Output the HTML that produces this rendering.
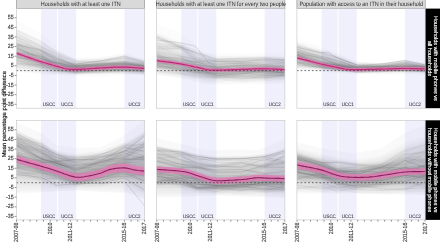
<!DOCTYPE html><html><head><meta charset="utf-8"><style>html,body{margin:0;padding:0;background:#fff;width:440px;height:242px;overflow:hidden}svg{display:block;will-change:transform}text{text-rendering:geometricPrecision}</style></head><body><svg width="440" height="242" viewBox="0 0 440 242"><rect x="0" y="0" width="440" height="242" fill="#ffffff"/><defs><clipPath id="cp00"><rect x="16.4" y="8.6" width="128.3" height="99.6"/></clipPath><clipPath id="cp01"><rect x="156.6" y="8.6" width="128.3" height="99.6"/></clipPath><clipPath id="cp02"><rect x="296.9" y="8.6" width="128.3" height="99.6"/></clipPath><clipPath id="cp10"><rect x="16.4" y="120.3" width="128.3" height="99.6"/></clipPath><clipPath id="cp11"><rect x="156.6" y="120.3" width="128.3" height="99.6"/></clipPath><clipPath id="cp12"><rect x="296.9" y="120.3" width="128.3" height="99.6"/></clipPath></defs><rect x="16.4" y="-0.5" width="128.3" height="9.1" fill="#d9d9d9" stroke="#8c8c8c" stroke-width="0.6"/><rect x="156.6" y="-0.5" width="128.3" height="9.1" fill="#d9d9d9" stroke="#8c8c8c" stroke-width="0.6"/><rect x="296.9" y="-0.5" width="128.3" height="9.1" fill="#d9d9d9" stroke="#8c8c8c" stroke-width="0.6"/><rect x="425.2" y="8.6" width="16" height="99.6" fill="#000000"/><rect x="425.2" y="120.3" width="16" height="99.6" fill="#000000"/><g clip-path="url(#cp00)"><rect x="41.10" y="8.6" width="15.90" height="99.6" fill="#f0f0fd"/><rect x="58.10" y="8.6" width="18.10" height="99.6" fill="#f0f0fd"/><rect x="124.40" y="8.6" width="20.30" height="99.6" fill="#f0f0fd"/><path d="M16.4,20.5 L18.4,21.5 L20.4,22.6 L22.4,23.6 L24.4,24.6 L26.4,25.6 L28.4,26.6 L30.4,27.6 L32.4,28.7 L34.4,29.7 L36.4,30.7 L38.4,31.7 L40.4,32.8 L42.4,34.3 L44.4,36.0 L46.4,37.8 L48.4,39.5 L50.4,41.2 L52.4,43.0 L54.4,44.7 L56.4,46.5 L58.4,48.3 L60.4,50.1 L62.4,51.9 L64.4,53.7 L66.4,55.6 L68.4,57.5 L70.4,58.0 L72.4,57.9 L74.4,57.8 L76.4,57.7 L78.4,57.7 L80.4,57.6 L82.4,57.5 L84.4,57.5 L86.4,57.5 L88.4,57.4 L90.4,57.4 L92.4,57.3 L94.4,57.3 L96.4,57.3 L98.4,57.2 L100.4,57.1 L102.4,56.7 L104.4,56.3 L106.4,56.0 L108.4,55.6 L110.4,55.2 L112.4,54.8 L114.4,54.4 L116.4,54.0 L118.4,53.6 L120.4,53.1 L122.4,52.9 L124.4,53.6 L126.4,54.2 L128.4,54.8 L130.4,55.4 L132.4,56.0 L134.4,56.6 L136.4,57.2 L138.4,57.8 L140.4,58.5 L142.4,59.1 L144.4,59.7 L144.7,59.8 L144.7,74.3 L144.4,74.3 L142.4,74.3 L140.4,74.3 L138.4,74.3 L136.4,74.3 L134.4,74.3 L132.4,74.3 L130.4,74.3 L128.4,74.3 L126.4,74.3 L124.4,74.3 L122.4,74.3 L120.4,74.3 L118.4,74.3 L116.4,74.3 L114.4,74.3 L112.4,74.3 L110.4,74.3 L108.4,74.3 L106.4,74.3 L104.4,74.3 L102.4,74.3 L100.4,74.3 L98.4,74.3 L96.4,74.3 L94.4,74.3 L92.4,74.3 L90.4,74.3 L88.4,74.3 L86.4,74.3 L84.4,74.2 L82.4,74.2 L80.4,74.2 L78.4,74.2 L76.4,74.2 L74.4,74.2 L72.4,74.2 L70.4,74.2 L68.4,74.2 L66.4,74.3 L64.4,74.3 L62.4,74.3 L60.4,74.3 L58.4,74.4 L56.4,74.4 L54.4,74.2 L52.4,74.1 L50.4,74.0 L48.4,73.8 L46.4,73.7 L44.4,73.6 L42.4,73.5 L40.4,73.3 L38.4,73.2 L36.4,73.1 L34.4,73.0 L32.4,72.9 L30.4,72.7 L28.4,72.6 L26.4,72.5 L24.4,72.4 L22.4,72.3 L20.4,72.1 L18.4,72.0 L16.4,71.9 Z" fill="#707078" fill-opacity="0.025"/><path d="M16.4,29.0 L18.4,29.9 L20.4,30.9 L22.4,31.8 L24.4,32.7 L26.4,33.7 L28.4,34.6 L30.4,35.5 L32.4,36.5 L34.4,37.4 L36.4,38.3 L38.4,39.3 L40.4,40.2 L42.4,41.5 L44.4,42.9 L46.4,44.4 L48.4,45.8 L50.4,47.3 L52.4,48.7 L54.4,50.1 L56.4,51.6 L58.4,53.0 L60.4,54.5 L62.4,56.0 L64.4,57.6 L66.4,59.1 L68.4,60.6 L70.4,61.0 L72.4,60.9 L74.4,60.8 L76.4,60.8 L78.4,60.7 L80.4,60.6 L82.4,60.6 L84.4,60.5 L86.4,60.4 L88.4,60.4 L90.4,60.3 L92.4,60.2 L94.4,60.2 L96.4,60.1 L98.4,60.1 L100.4,59.9 L102.4,59.6 L104.4,59.3 L106.4,59.0 L108.4,58.7 L110.4,58.3 L112.4,58.0 L114.4,57.7 L116.4,57.4 L118.4,57.1 L120.4,56.8 L122.4,56.6 L124.4,57.1 L126.4,57.6 L128.4,58.1 L130.4,58.5 L132.4,59.0 L134.4,59.5 L136.4,60.0 L138.4,60.5 L140.4,61.0 L142.4,61.4 L144.4,61.9 L144.7,62.0 L144.7,74.0 L144.4,74.0 L142.4,74.0 L140.4,74.0 L138.4,74.0 L136.4,74.0 L134.4,74.0 L132.4,74.0 L130.4,74.0 L128.4,74.0 L126.4,74.0 L124.4,74.0 L122.4,74.0 L120.4,74.0 L118.4,74.0 L116.4,74.0 L114.4,74.0 L112.4,74.0 L110.4,74.0 L108.4,74.0 L106.4,74.0 L104.4,74.0 L102.4,74.0 L100.4,74.0 L98.4,74.0 L96.4,74.0 L94.4,74.0 L92.4,74.0 L90.4,74.0 L88.4,74.0 L86.4,74.0 L84.4,74.0 L82.4,74.0 L80.4,74.0 L78.4,74.0 L76.4,74.0 L74.4,74.0 L72.4,74.0 L70.4,74.0 L68.4,74.0 L66.4,74.0 L64.4,74.0 L62.4,74.0 L60.4,74.0 L58.4,74.0 L56.4,74.0 L54.4,73.8 L52.4,73.7 L50.4,73.5 L48.4,73.4 L46.4,73.2 L44.4,73.1 L42.4,72.9 L40.4,72.8 L38.4,72.6 L36.4,72.5 L34.4,72.3 L32.4,72.2 L30.4,72.0 L28.4,71.9 L26.4,71.7 L24.4,71.6 L22.4,71.4 L20.4,71.3 L18.4,71.1 L16.4,71.0 Z" fill="#707078" fill-opacity="0.022"/><path d="M16.4,31.4 L18.4,32.3 L20.4,33.2 L22.4,34.2 L24.4,35.1 L26.4,36.0 L28.4,36.9 L30.4,37.8 L32.4,38.7 L34.4,39.6 L36.4,40.5 L38.4,41.4 L40.4,42.3 L42.4,43.6 L44.4,44.9 L46.4,46.3 L48.4,47.6 L50.4,49.0 L52.4,50.3 L54.4,51.7 L56.4,53.0 L58.4,54.4 L60.4,55.8 L62.4,57.2 L64.4,58.6 L66.4,60.0 L68.4,61.4 L70.4,61.8 L72.4,61.7 L74.4,61.7 L76.4,61.6 L78.4,61.6 L80.4,61.5 L82.4,61.4 L84.4,61.4 L86.4,61.3 L88.4,61.2 L90.4,61.1 L92.4,61.1 L94.4,61.0 L96.4,60.9 L98.4,60.9 L100.4,60.7 L102.4,60.4 L104.4,60.1 L106.4,59.8 L108.4,59.5 L110.4,59.3 L112.4,59.0 L114.4,58.7 L116.4,58.4 L118.4,58.1 L120.4,57.8 L122.4,57.6 L124.4,58.1 L126.4,58.5 L128.4,59.0 L130.4,59.4 L132.4,59.9 L134.4,60.3 L136.4,60.8 L138.4,61.2 L140.4,61.7 L142.4,62.1 L144.4,62.6 L144.7,62.6 L144.7,73.4 L144.4,73.4 L142.4,73.4 L140.4,73.4 L138.4,73.4 L136.4,73.4 L134.4,73.4 L132.4,73.4 L130.4,73.3 L128.4,73.3 L126.4,73.3 L124.4,73.3 L122.4,73.3 L120.4,73.3 L118.4,73.3 L116.4,73.3 L114.4,73.3 L112.4,73.3 L110.4,73.3 L108.4,73.4 L106.4,73.4 L104.4,73.4 L102.4,73.4 L100.4,73.4 L98.4,73.4 L96.4,73.4 L94.4,73.4 L92.4,73.5 L90.4,73.5 L88.4,73.5 L86.4,73.5 L84.4,73.5 L82.4,73.5 L80.4,73.5 L78.4,73.5 L76.4,73.5 L74.4,73.5 L72.4,73.5 L70.4,73.5 L68.4,73.5 L66.4,73.5 L64.4,73.4 L62.4,73.4 L60.4,73.3 L58.4,73.3 L56.4,73.2 L54.4,73.0 L52.4,72.8 L50.4,72.6 L48.4,72.4 L46.4,72.2 L44.4,72.0 L42.4,71.8 L40.4,71.6 L38.4,71.4 L36.4,71.2 L34.4,71.0 L32.4,70.8 L30.4,70.6 L28.4,70.4 L26.4,70.2 L24.4,70.0 L22.4,69.8 L20.4,69.6 L18.4,69.4 L16.4,69.2 Z" fill="#707078" fill-opacity="0.022"/><path d="M16.4,33.8 L18.4,34.7 L20.4,35.6 L22.4,36.5 L24.4,37.4 L26.4,38.3 L28.4,39.2 L30.4,40.1 L32.4,40.9 L34.4,41.8 L36.4,42.7 L38.4,43.6 L40.4,44.5 L42.4,45.6 L44.4,46.9 L46.4,48.2 L48.4,49.4 L50.4,50.7 L52.4,51.9 L54.4,53.2 L56.4,54.5 L58.4,55.8 L60.4,57.1 L62.4,58.4 L64.4,59.7 L66.4,61.0 L68.4,62.3 L70.4,62.6 L72.4,62.6 L74.4,62.5 L76.4,62.5 L78.4,62.4 L80.4,62.4 L82.4,62.3 L84.4,62.2 L86.4,62.1 L88.4,62.1 L90.4,62.0 L92.4,61.9 L94.4,61.8 L96.4,61.7 L98.4,61.7 L100.4,61.5 L102.4,61.3 L104.4,61.0 L106.4,60.7 L108.4,60.4 L110.4,60.2 L112.4,59.9 L114.4,59.6 L116.4,59.3 L118.4,59.1 L120.4,58.8 L122.4,58.7 L124.4,59.1 L126.4,59.5 L128.4,59.9 L130.4,60.3 L132.4,60.7 L134.4,61.1 L136.4,61.6 L138.4,62.0 L140.4,62.4 L142.4,62.8 L144.4,63.2 L144.7,63.3 L144.7,72.9 L144.4,72.9 L142.4,72.9 L140.4,72.8 L138.4,72.8 L136.4,72.8 L134.4,72.7 L132.4,72.7 L130.4,72.7 L128.4,72.7 L126.4,72.6 L124.4,72.6 L122.4,72.6 L120.4,72.6 L118.4,72.6 L116.4,72.6 L114.4,72.6 L112.4,72.7 L110.4,72.7 L108.4,72.7 L106.4,72.7 L104.4,72.8 L102.4,72.8 L100.4,72.8 L98.4,72.8 L96.4,72.8 L94.4,72.9 L92.4,72.9 L90.4,72.9 L88.4,73.0 L86.4,73.0 L84.4,73.0 L82.4,73.0 L80.4,73.1 L78.4,73.1 L76.4,73.1 L74.4,73.1 L72.4,73.1 L70.4,73.1 L68.4,73.0 L66.4,73.0 L64.4,72.9 L62.4,72.8 L60.4,72.6 L58.4,72.5 L56.4,72.4 L54.4,72.1 L52.4,71.9 L50.4,71.7 L48.4,71.5 L46.4,71.2 L44.4,71.0 L42.4,70.8 L40.4,70.5 L38.4,70.3 L36.4,70.0 L34.4,69.8 L32.4,69.5 L30.4,69.3 L28.4,69.0 L26.4,68.7 L24.4,68.5 L22.4,68.2 L20.4,68.0 L18.4,67.7 L16.4,67.4 Z" fill="#707078" fill-opacity="0.022"/><path d="M16.4,36.3 L18.4,37.1 L20.4,38.0 L22.4,38.9 L24.4,39.7 L26.4,40.6 L28.4,41.5 L30.4,42.3 L32.4,43.2 L34.4,44.0 L36.4,44.9 L38.4,45.8 L40.4,46.6 L42.4,47.7 L44.4,48.9 L46.4,50.1 L48.4,51.2 L50.4,52.4 L52.4,53.6 L54.4,54.7 L56.4,55.9 L58.4,57.1 L60.4,58.4 L62.4,59.6 L64.4,60.8 L66.4,62.0 L68.4,63.1 L70.4,63.5 L72.4,63.4 L74.4,63.4 L76.4,63.4 L78.4,63.3 L80.4,63.2 L82.4,63.2 L84.4,63.1 L86.4,63.0 L88.4,62.9 L90.4,62.8 L92.4,62.7 L94.4,62.6 L96.4,62.5 L98.4,62.5 L100.4,62.3 L102.4,62.1 L104.4,61.8 L106.4,61.6 L108.4,61.3 L110.4,61.1 L112.4,60.8 L114.4,60.6 L116.4,60.3 L118.4,60.1 L120.4,59.9 L122.4,59.7 L124.4,60.1 L126.4,60.5 L128.4,60.8 L130.4,61.2 L132.4,61.6 L134.4,62.0 L136.4,62.3 L138.4,62.7 L140.4,63.1 L142.4,63.5 L144.4,63.9 L144.7,63.9 L144.7,72.3 L144.4,72.3 L142.4,72.3 L140.4,72.2 L138.4,72.2 L136.4,72.1 L134.4,72.1 L132.4,72.1 L130.4,72.0 L128.4,72.0 L126.4,72.0 L124.4,71.9 L122.4,71.9 L120.4,71.9 L118.4,71.9 L116.4,71.9 L114.4,72.0 L112.4,72.0 L110.4,72.0 L108.4,72.1 L106.4,72.1 L104.4,72.1 L102.4,72.2 L100.4,72.2 L98.4,72.2 L96.4,72.3 L94.4,72.3 L92.4,72.4 L90.4,72.4 L88.4,72.4 L86.4,72.5 L84.4,72.5 L82.4,72.6 L80.4,72.6 L78.4,72.6 L76.4,72.6 L74.4,72.6 L72.4,72.6 L70.4,72.6 L68.4,72.5 L66.4,72.5 L64.4,72.3 L62.4,72.2 L60.4,72.0 L58.4,71.8 L56.4,71.6 L54.4,71.3 L52.4,71.1 L50.4,70.8 L48.4,70.5 L46.4,70.2 L44.4,70.0 L42.4,69.7 L40.4,69.4 L38.4,69.1 L36.4,68.8 L34.4,68.5 L32.4,68.2 L30.4,67.9 L28.4,67.5 L26.4,67.2 L24.4,66.9 L22.4,66.6 L20.4,66.3 L18.4,66.0 L16.4,65.7 Z" fill="#707078" fill-opacity="0.022"/><path d="M16.4,38.7 L18.4,39.5 L20.4,40.4 L22.4,41.2 L24.4,42.0 L26.4,42.9 L28.4,43.7 L30.4,44.6 L32.4,45.4 L34.4,46.3 L36.4,47.1 L38.4,47.9 L40.4,48.7 L42.4,49.8 L44.4,50.9 L46.4,52.0 L48.4,53.0 L50.4,54.1 L52.4,55.2 L54.4,56.3 L56.4,57.4 L58.4,58.5 L60.4,59.6 L62.4,60.8 L64.4,61.9 L66.4,63.0 L68.4,64.0 L70.4,64.3 L72.4,64.3 L74.4,64.3 L76.4,64.2 L78.4,64.2 L80.4,64.1 L82.4,64.0 L84.4,63.9 L86.4,63.9 L88.4,63.8 L90.4,63.7 L92.4,63.6 L94.4,63.5 L96.4,63.4 L98.4,63.3 L100.4,63.2 L102.4,62.9 L104.4,62.7 L106.4,62.4 L108.4,62.2 L110.4,62.0 L112.4,61.7 L114.4,61.5 L116.4,61.3 L118.4,61.1 L120.4,60.9 L122.4,60.8 L124.4,61.1 L126.4,61.4 L128.4,61.8 L130.4,62.1 L132.4,62.4 L134.4,62.8 L136.4,63.1 L138.4,63.5 L140.4,63.8 L142.4,64.2 L144.4,64.5 L144.7,64.6 L144.7,71.8 L144.4,71.8 L142.4,71.7 L140.4,71.6 L138.4,71.6 L136.4,71.5 L134.4,71.5 L132.4,71.4 L130.4,71.4 L128.4,71.3 L126.4,71.3 L124.4,71.3 L122.4,71.2 L120.4,71.2 L118.4,71.2 L116.4,71.3 L114.4,71.3 L112.4,71.3 L110.4,71.4 L108.4,71.4 L106.4,71.5 L104.4,71.5 L102.4,71.5 L100.4,71.6 L98.4,71.6 L96.4,71.7 L94.4,71.7 L92.4,71.8 L90.4,71.9 L88.4,71.9 L86.4,72.0 L84.4,72.0 L82.4,72.1 L80.4,72.1 L78.4,72.1 L76.4,72.2 L74.4,72.2 L72.4,72.2 L70.4,72.1 L68.4,72.1 L66.4,72.0 L64.4,71.8 L62.4,71.6 L60.4,71.3 L58.4,71.0 L56.4,70.8 L54.4,70.5 L52.4,70.2 L50.4,69.9 L48.4,69.6 L46.4,69.3 L44.4,68.9 L42.4,68.6 L40.4,68.3 L38.4,67.9 L36.4,67.6 L34.4,67.2 L32.4,66.8 L30.4,66.5 L28.4,66.1 L26.4,65.7 L24.4,65.4 L22.4,65.0 L20.4,64.6 L18.4,64.2 L16.4,63.9 Z" fill="#707078" fill-opacity="0.022"/><path d="M16.4,41.1 L18.4,41.9 L20.4,42.7 L22.4,43.6 L24.4,44.4 L26.4,45.2 L28.4,46.0 L30.4,46.8 L32.4,47.7 L34.4,48.5 L36.4,49.3 L38.4,50.1 L40.4,50.9 L42.4,51.8 L44.4,52.8 L46.4,53.9 L48.4,54.8 L50.4,55.8 L52.4,56.8 L54.4,57.8 L56.4,58.8 L58.4,59.8 L60.4,60.9 L62.4,62.0 L64.4,63.0 L66.4,64.0 L68.4,64.9 L70.4,65.1 L72.4,65.1 L74.4,65.1 L76.4,65.1 L78.4,65.0 L80.4,65.0 L82.4,64.9 L84.4,64.8 L86.4,64.7 L88.4,64.6 L90.4,64.5 L92.4,64.4 L94.4,64.3 L96.4,64.2 L98.4,64.1 L100.4,64.0 L102.4,63.7 L104.4,63.5 L106.4,63.3 L108.4,63.1 L110.4,62.9 L112.4,62.7 L114.4,62.5 L116.4,62.3 L118.4,62.1 L120.4,61.9 L122.4,61.9 L124.4,62.1 L126.4,62.4 L128.4,62.7 L130.4,63.0 L132.4,63.3 L134.4,63.6 L136.4,63.9 L138.4,64.2 L140.4,64.5 L142.4,64.9 L144.4,65.2 L144.7,65.2 L144.7,71.2 L144.4,71.2 L142.4,71.1 L140.4,71.1 L138.4,71.0 L136.4,70.9 L134.4,70.8 L132.4,70.8 L130.4,70.7 L128.4,70.7 L126.4,70.6 L124.4,70.6 L122.4,70.6 L120.4,70.5 L118.4,70.6 L116.4,70.6 L114.4,70.6 L112.4,70.7 L110.4,70.7 L108.4,70.8 L106.4,70.8 L104.4,70.9 L102.4,70.9 L100.4,71.0 L98.4,71.0 L96.4,71.1 L94.4,71.2 L92.4,71.3 L90.4,71.3 L88.4,71.4 L86.4,71.5 L84.4,71.5 L82.4,71.6 L80.4,71.6 L78.4,71.7 L76.4,71.7 L74.4,71.7 L72.4,71.7 L70.4,71.7 L68.4,71.6 L66.4,71.5 L64.4,71.2 L62.4,70.9 L60.4,70.6 L58.4,70.3 L56.4,70.0 L54.4,69.7 L52.4,69.3 L50.4,69.0 L48.4,68.6 L46.4,68.3 L44.4,67.9 L42.4,67.5 L40.4,67.1 L38.4,66.7 L36.4,66.3 L34.4,65.9 L32.4,65.5 L30.4,65.1 L28.4,64.7 L26.4,64.2 L24.4,63.8 L22.4,63.4 L20.4,62.9 L18.4,62.5 L16.4,62.1 Z" fill="#707078" fill-opacity="0.022"/><path d="M16.4,43.5 L18.4,44.3 L20.4,45.1 L22.4,45.9 L24.4,46.7 L26.4,47.5 L28.4,48.3 L30.4,49.1 L32.4,49.9 L34.4,50.7 L36.4,51.5 L38.4,52.2 L40.4,53.0 L42.4,53.9 L44.4,54.8 L46.4,55.7 L48.4,56.7 L50.4,57.6 L52.4,58.5 L54.4,59.4 L56.4,60.3 L58.4,61.2 L60.4,62.2 L62.4,63.2 L64.4,64.1 L66.4,65.0 L68.4,65.7 L70.4,66.0 L72.4,66.0 L74.4,66.0 L76.4,65.9 L78.4,65.9 L80.4,65.8 L82.4,65.8 L84.4,65.7 L86.4,65.6 L88.4,65.4 L90.4,65.3 L92.4,65.2 L94.4,65.1 L96.4,65.0 L98.4,64.9 L100.4,64.8 L102.4,64.6 L104.4,64.4 L106.4,64.2 L108.4,64.0 L110.4,63.8 L112.4,63.6 L114.4,63.4 L116.4,63.3 L118.4,63.1 L120.4,63.0 L122.4,62.9 L124.4,63.1 L126.4,63.4 L128.4,63.6 L130.4,63.9 L132.4,64.1 L134.4,64.4 L136.4,64.7 L138.4,65.0 L140.4,65.3 L142.4,65.5 L144.4,65.8 L144.7,65.8 L144.7,70.6 L144.4,70.6 L142.4,70.6 L140.4,70.5 L138.4,70.4 L136.4,70.3 L134.4,70.2 L132.4,70.1 L130.4,70.1 L128.4,70.0 L126.4,69.9 L124.4,69.9 L122.4,69.9 L120.4,69.9 L118.4,69.9 L116.4,69.9 L114.4,69.9 L112.4,70.0 L110.4,70.0 L108.4,70.1 L106.4,70.2 L104.4,70.3 L102.4,70.3 L100.4,70.4 L98.4,70.5 L96.4,70.5 L94.4,70.6 L92.4,70.7 L90.4,70.8 L88.4,70.9 L86.4,71.0 L84.4,71.1 L82.4,71.1 L80.4,71.2 L78.4,71.2 L76.4,71.2 L74.4,71.2 L72.4,71.2 L70.4,71.2 L68.4,71.1 L66.4,70.9 L64.4,70.7 L62.4,70.3 L60.4,69.9 L58.4,69.6 L56.4,69.2 L54.4,68.8 L52.4,68.4 L50.4,68.1 L48.4,67.7 L46.4,67.3 L44.4,66.9 L42.4,66.5 L40.4,66.0 L38.4,65.6 L36.4,65.1 L34.4,64.6 L32.4,64.2 L30.4,63.7 L28.4,63.2 L26.4,62.7 L24.4,62.2 L22.4,61.8 L20.4,61.3 L18.4,60.8 L16.4,60.3 Z" fill="#707078" fill-opacity="0.022"/><path d="M16.4,45.9 L18.4,46.7 L20.4,47.5 L22.4,48.3 L24.4,49.0 L26.4,49.8 L28.4,50.6 L30.4,51.4 L32.4,52.1 L34.4,52.9 L36.4,53.6 L38.4,54.4 L40.4,55.1 L42.4,55.9 L44.4,56.8 L46.4,57.6 L48.4,58.5 L50.4,59.3 L52.4,60.1 L54.4,60.9 L56.4,61.7 L58.4,62.5 L60.4,63.4 L62.4,64.3 L64.4,65.2 L66.4,66.0 L68.4,66.6 L70.4,66.8 L72.4,66.8 L74.4,66.8 L76.4,66.8 L78.4,66.8 L80.4,66.7 L82.4,66.6 L84.4,66.5 L86.4,66.4 L88.4,66.3 L90.4,66.2 L92.4,66.0 L94.4,65.9 L96.4,65.8 L98.4,65.7 L100.4,65.6 L102.4,65.4 L104.4,65.2 L106.4,65.0 L108.4,64.9 L110.4,64.7 L112.4,64.5 L114.4,64.4 L116.4,64.2 L118.4,64.1 L120.4,64.0 L122.4,64.0 L124.4,64.1 L126.4,64.3 L128.4,64.5 L130.4,64.8 L132.4,65.0 L134.4,65.2 L136.4,65.5 L138.4,65.7 L140.4,66.0 L142.4,66.2 L144.4,66.4 L144.7,66.5 L144.7,70.1 L144.4,70.1 L142.4,70.0 L140.4,69.9 L138.4,69.8 L136.4,69.7 L134.4,69.6 L132.4,69.5 L130.4,69.4 L128.4,69.3 L126.4,69.2 L124.4,69.2 L122.4,69.2 L120.4,69.2 L118.4,69.2 L116.4,69.2 L114.4,69.3 L112.4,69.3 L110.4,69.4 L108.4,69.5 L106.4,69.5 L104.4,69.6 L102.4,69.7 L100.4,69.8 L98.4,69.9 L96.4,70.0 L94.4,70.1 L92.4,70.2 L90.4,70.3 L88.4,70.4 L86.4,70.5 L84.4,70.6 L82.4,70.6 L80.4,70.7 L78.4,70.7 L76.4,70.8 L74.4,70.8 L72.4,70.8 L70.4,70.7 L68.4,70.6 L66.4,70.4 L64.4,70.1 L62.4,69.7 L60.4,69.3 L58.4,68.8 L56.4,68.4 L54.4,68.0 L52.4,67.6 L50.4,67.2 L48.4,66.7 L46.4,66.3 L44.4,65.8 L42.4,65.4 L40.4,64.9 L38.4,64.4 L36.4,63.9 L34.4,63.4 L32.4,62.8 L30.4,62.3 L28.4,61.8 L26.4,61.2 L24.4,60.7 L22.4,60.1 L20.4,59.6 L18.4,59.1 L16.4,58.5 Z" fill="#707078" fill-opacity="0.022"/><path d="M16.4,48.4 L18.4,49.1 L20.4,49.9 L22.4,50.6 L24.4,51.4 L26.4,52.1 L28.4,52.9 L30.4,53.6 L32.4,54.4 L34.4,55.1 L36.4,55.8 L38.4,56.5 L40.4,57.2 L42.4,58.0 L44.4,58.8 L46.4,59.5 L48.4,60.3 L50.4,61.0 L52.4,61.7 L54.4,62.4 L56.4,63.2 L58.4,63.9 L60.4,64.7 L62.4,65.5 L64.4,66.3 L66.4,66.9 L68.4,67.4 L70.4,67.6 L72.4,67.7 L74.4,67.7 L76.4,67.7 L78.4,67.6 L80.4,67.6 L82.4,67.5 L84.4,67.4 L86.4,67.3 L88.4,67.1 L90.4,67.0 L92.4,66.9 L94.4,66.7 L96.4,66.6 L98.4,66.5 L100.4,66.4 L102.4,66.2 L104.4,66.1 L106.4,65.9 L108.4,65.7 L110.4,65.6 L112.4,65.5 L114.4,65.3 L116.4,65.2 L118.4,65.1 L120.4,65.0 L122.4,65.0 L124.4,65.1 L126.4,65.3 L128.4,65.5 L130.4,65.6 L132.4,65.8 L134.4,66.1 L136.4,66.3 L138.4,66.5 L140.4,66.7 L142.4,66.9 L144.4,67.1 L144.7,67.1 L144.7,69.5 L144.4,69.5 L142.4,69.4 L140.4,69.3 L138.4,69.2 L136.4,69.1 L134.4,68.9 L132.4,68.8 L130.4,68.7 L128.4,68.6 L126.4,68.6 L124.4,68.5 L122.4,68.5 L120.4,68.5 L118.4,68.5 L116.4,68.5 L114.4,68.6 L112.4,68.7 L110.4,68.7 L108.4,68.8 L106.4,68.9 L104.4,69.0 L102.4,69.1 L100.4,69.2 L98.4,69.3 L96.4,69.4 L94.4,69.5 L92.4,69.6 L90.4,69.7 L88.4,69.9 L86.4,70.0 L84.4,70.1 L82.4,70.2 L80.4,70.2 L78.4,70.3 L76.4,70.3 L74.4,70.3 L72.4,70.3 L70.4,70.2 L68.4,70.1 L66.4,69.9 L64.4,69.6 L62.4,69.1 L60.4,68.6 L58.4,68.1 L56.4,67.6 L54.4,67.2 L52.4,66.7 L50.4,66.2 L48.4,65.8 L46.4,65.3 L44.4,64.8 L42.4,64.3 L40.4,63.8 L38.4,63.2 L36.4,62.6 L34.4,62.1 L32.4,61.5 L30.4,60.9 L28.4,60.3 L26.4,59.7 L24.4,59.1 L22.4,58.5 L20.4,57.9 L18.4,57.3 L16.4,56.8 Z" fill="#707078" fill-opacity="0.022"/><path d="M16.4,50.8 L18.4,51.5 L20.4,52.2 L22.4,53.0 L24.4,53.7 L26.4,54.4 L28.4,55.1 L30.4,55.9 L32.4,56.6 L34.4,57.3 L36.4,58.0 L38.4,58.7 L40.4,59.4 L42.4,60.1 L44.4,60.8 L46.4,61.4 L48.4,62.1 L50.4,62.7 L52.4,63.3 L54.4,64.0 L56.4,64.6 L58.4,65.3 L60.4,66.0 L62.4,66.7 L64.4,67.4 L66.4,67.9 L68.4,68.3 L70.4,68.5 L72.4,68.5 L74.4,68.6 L76.4,68.5 L78.4,68.5 L80.4,68.4 L82.4,68.3 L84.4,68.2 L86.4,68.1 L88.4,68.0 L90.4,67.8 L92.4,67.7 L94.4,67.5 L96.4,67.4 L98.4,67.3 L100.4,67.2 L102.4,67.0 L104.4,66.9 L106.4,66.8 L108.4,66.6 L110.4,66.5 L112.4,66.4 L114.4,66.3 L116.4,66.2 L118.4,66.1 L120.4,66.1 L122.4,66.1 L124.4,66.1 L126.4,66.2 L128.4,66.4 L130.4,66.5 L132.4,66.7 L134.4,66.9 L136.4,67.0 L138.4,67.2 L140.4,67.4 L142.4,67.6 L144.4,67.7 L144.7,67.8 L144.7,69.0 L144.4,68.9 L142.4,68.8 L140.4,68.7 L138.4,68.6 L136.4,68.4 L134.4,68.3 L132.4,68.2 L130.4,68.1 L128.4,68.0 L126.4,67.9 L124.4,67.8 L122.4,67.8 L120.4,67.8 L118.4,67.8 L116.4,67.8 L114.4,67.9 L112.4,68.0 L110.4,68.1 L108.4,68.2 L106.4,68.3 L104.4,68.4 L102.4,68.5 L100.4,68.6 L98.4,68.7 L96.4,68.8 L94.4,68.9 L92.4,69.1 L90.4,69.2 L88.4,69.3 L86.4,69.5 L84.4,69.6 L82.4,69.7 L80.4,69.8 L78.4,69.8 L76.4,69.9 L74.4,69.9 L72.4,69.8 L70.4,69.8 L68.4,69.6 L66.4,69.4 L64.4,69.0 L62.4,68.5 L60.4,67.9 L58.4,67.4 L56.4,66.8 L54.4,66.3 L52.4,65.8 L50.4,65.3 L48.4,64.8 L46.4,64.3 L44.4,63.8 L42.4,63.2 L40.4,62.6 L38.4,62.0 L36.4,61.4 L34.4,60.8 L32.4,60.2 L30.4,59.5 L28.4,58.9 L26.4,58.2 L24.4,57.6 L22.4,56.9 L20.4,56.3 L18.4,55.6 L16.4,55.0 Z" fill="#707078" fill-opacity="0.022"/><path d="M16.4,55.8 L41.1,60.5 L57.0,66.7 L76.2,68.2 L101.4,67.2 L124.4,67.4 L144.7,67.3 L144.7,70.5 L124.4,70.6 L101.4,70.4 L76.2,71.4 L57.0,69.9 L41.1,63.7 L16.4,59.0 Z" fill="#707078" fill-opacity="0.028"/><path d="M16.4,57.4 L41.1,62.1 L57.0,68.3 L76.2,69.8 L101.4,68.8 L124.4,69.0 L144.7,68.9" fill="none" stroke="#606068" stroke-opacity="0.28" stroke-width="0.5"/><path d="M16.4,52.0 L41.1,59.3 L57.0,62.2 L76.2,64.0 L101.4,64.5 L124.4,63.6 L144.7,63.8 L144.7,72.5 L124.4,72.3 L101.4,73.2 L76.2,72.7 L57.0,70.8 L41.1,68.0 L16.4,60.7 Z" fill="#707078" fill-opacity="0.028"/><path d="M16.4,56.4 L41.1,63.6 L57.0,66.5 L76.2,68.3 L101.4,68.9 L124.4,67.9 L144.7,68.1" fill="none" stroke="#606068" stroke-opacity="0.28" stroke-width="0.5"/><path d="M16.4,50.0 L41.1,53.7 L57.0,64.6 L76.2,65.1 L101.4,65.6 L124.4,65.2 L144.7,66.4 L144.7,71.3 L124.4,70.0 L101.4,70.4 L76.2,69.9 L57.0,69.5 L41.1,58.5 L16.4,54.8 Z" fill="#707078" fill-opacity="0.028"/><path d="M16.4,52.4 L41.1,56.1 L57.0,67.0 L76.2,67.5 L101.4,68.0 L124.4,67.6 L144.7,68.8" fill="none" stroke="#606068" stroke-opacity="0.28" stroke-width="0.5"/><path d="M16.4,42.2 L41.1,48.5 L57.0,56.3 L76.2,63.5 L101.4,61.6 L124.4,61.8 L144.7,64.3 L144.7,68.5 L124.4,66.1 L101.4,65.9 L76.2,67.7 L57.0,60.5 L41.1,52.7 L16.4,46.5 Z" fill="#707078" fill-opacity="0.028"/><path d="M16.4,44.4 L41.1,50.6 L57.0,58.4 L76.2,65.6 L101.4,63.8 L124.4,63.9 L144.7,66.4" fill="none" stroke="#606068" stroke-opacity="0.28" stroke-width="0.5"/><path d="M16.4,46.4 L41.1,56.4 L57.0,60.4 L76.2,65.4 L101.4,64.6 L124.4,61.5 L144.7,64.3 L144.7,68.7 L124.4,66.0 L101.4,69.0 L76.2,69.9 L57.0,64.9 L41.1,60.9 L16.4,50.8 Z" fill="#707078" fill-opacity="0.028"/><path d="M16.4,48.6 L41.1,58.7 L57.0,62.6 L76.2,67.7 L101.4,66.8 L124.4,63.8 L144.7,66.5" fill="none" stroke="#606068" stroke-opacity="0.28" stroke-width="0.5"/><path d="M16.4,47.4 L41.1,53.3 L57.0,60.1 L76.2,65.7 L101.4,62.0 L124.4,63.9 L144.7,64.4 L144.7,71.9 L124.4,71.5 L101.4,69.5 L76.2,73.2 L57.0,67.7 L41.1,60.8 L16.4,55.0 Z" fill="#707078" fill-opacity="0.028"/><path d="M16.4,51.2 L41.1,57.0 L57.0,63.9 L76.2,69.5 L101.4,65.8 L124.4,67.7 L144.7,68.1" fill="none" stroke="#606068" stroke-opacity="0.14" stroke-width="0.5"/><path d="M16.4,56.5 L41.1,64.4 L57.0,65.1 L76.2,67.1 L101.4,66.5 L124.4,65.2 L144.7,67.4 L144.7,74.5 L124.4,72.3 L101.4,73.7 L76.2,74.3 L57.0,72.3 L41.1,71.6 L16.4,63.7 Z" fill="#707078" fill-opacity="0.028"/><path d="M16.4,60.1 L41.1,68.0 L57.0,68.7 L76.2,70.7 L101.4,70.1 L124.4,68.7 L144.7,71.0" fill="none" stroke="#606068" stroke-opacity="0.14" stroke-width="0.5"/><path d="M16.4,46.5 L41.1,56.5 L57.0,59.3 L76.2,63.4 L101.4,63.6 L124.4,61.9 L144.7,65.3 L144.7,72.5 L124.4,69.1 L101.4,70.8 L76.2,70.7 L57.0,66.5 L41.1,63.7 L16.4,53.7 Z" fill="#707078" fill-opacity="0.028"/><path d="M16.4,50.1 L41.1,60.1 L57.0,62.9 L76.2,67.0 L101.4,67.2 L124.4,65.5 L144.7,68.9" fill="none" stroke="#606068" stroke-opacity="0.14" stroke-width="0.5"/><path d="M16.4,42.4 L41.1,53.5 L57.0,63.1 L76.2,66.4 L101.4,64.0 L124.4,65.3 L144.7,65.4 L144.7,69.4 L124.4,69.3 L101.4,68.0 L76.2,70.4 L57.0,67.1 L41.1,57.5 L16.4,46.4 Z" fill="#707078" fill-opacity="0.028"/><path d="M16.4,44.4 L41.1,55.5 L57.0,65.1 L76.2,68.4 L101.4,66.0 L124.4,67.3 L144.7,67.4" fill="none" stroke="#606068" stroke-opacity="0.14" stroke-width="0.5"/><path d="M16.4,61.7 L41.1,62.8 L57.0,68.1 L76.2,69.1 L101.4,68.1 L124.4,66.4 L144.7,69.1 L144.7,74.8 L124.4,72.1 L101.4,73.8 L76.2,74.8 L57.0,73.8 L41.1,68.5 L16.4,67.4 Z" fill="#707078" fill-opacity="0.028"/><path d="M16.4,64.5 L41.1,65.6 L57.0,71.0 L76.2,72.0 L101.4,71.0 L124.4,69.3 L144.7,71.9" fill="none" stroke="#606068" stroke-opacity="0.14" stroke-width="0.5"/><path d="M16.4,44.0 L41.1,53.7 L57.0,59.1 L76.2,65.2 L101.4,63.4 L124.4,62.8 L144.7,62.7 L144.7,71.5 L124.4,71.6 L101.4,72.2 L76.2,74.0 L57.0,67.8 L41.1,62.4 L16.4,52.7 Z" fill="#707078" fill-opacity="0.028"/><path d="M16.4,48.3 L41.1,58.0 L57.0,63.5 L76.2,69.6 L101.4,67.8 L124.4,67.2 L144.7,67.1" fill="none" stroke="#606068" stroke-opacity="0.14" stroke-width="0.5"/><path d="M16.4,59.6 L41.1,64.4 L57.0,67.3 L76.2,68.4 L101.4,67.3 L124.4,67.7 L144.7,68.9 L144.7,74.4 L124.4,73.2 L101.4,72.8 L76.2,74.0 L57.0,72.8 L41.1,70.0 L16.4,65.1 Z" fill="#707078" fill-opacity="0.028"/><path d="M16.4,62.4 L41.1,67.2 L57.0,70.0 L76.2,71.2 L101.4,70.0 L124.4,70.4 L144.7,71.7" fill="none" stroke="#606068" stroke-opacity="0.14" stroke-width="0.5"/><path d="M16.4,49.4 L41.1,54.7 L57.0,61.6 L76.2,65.4 L101.4,63.7 L124.4,62.7 L144.7,65.5 L144.7,73.9 L124.4,71.1 L101.4,72.1 L76.2,73.8 L57.0,70.0 L41.1,63.1 L16.4,57.8 Z" fill="#707078" fill-opacity="0.028"/><path d="M16.4,53.6 L41.1,58.9 L57.0,65.8 L76.2,69.6 L101.4,67.9 L124.4,66.9 L144.7,69.7" fill="none" stroke="#606068" stroke-opacity="0.14" stroke-width="0.5"/><path d="M16.4,37.9 L41.1,48.8 L57.0,59.3 L76.2,64.5 L101.4,64.2 L124.4,60.8 L144.7,65.2 L144.7,68.6 L124.4,64.2 L101.4,67.6 L76.2,67.9 L57.0,62.7 L41.1,52.2 L16.4,41.3 Z" fill="#707078" fill-opacity="0.028"/><path d="M16.4,39.6 L41.1,50.5 L57.0,61.0 L76.2,66.2 L101.4,65.9 L124.4,62.5 L144.7,66.9" fill="none" stroke="#606068" stroke-opacity="0.14" stroke-width="0.5"/><path d="M16.4,58.8 L41.1,63.9 L57.0,68.1 L76.2,70.0 L101.4,68.8 L124.4,68.5 L144.7,68.6 L144.7,71.8 L124.4,71.7 L101.4,72.0 L76.2,73.1 L57.0,71.3 L41.1,67.0 L16.4,62.0 Z" fill="#707078" fill-opacity="0.028"/><path d="M16.4,60.4 L41.1,65.4 L57.0,69.7 L76.2,71.6 L101.4,70.4 L124.4,70.1 L144.7,70.2" fill="none" stroke="#606068" stroke-opacity="0.14" stroke-width="0.5"/><path d="M16.4,32.2 L41.1,46.7 L57.0,54.1 L76.2,59.9 L101.4,58.7 L124.4,57.8 L144.7,58.9 L144.7,67.9 L124.4,66.7 L101.4,67.7 L76.2,68.9 L57.0,63.0 L41.1,55.7 L16.4,41.1 Z" fill="#707078" fill-opacity="0.028"/><path d="M16.4,36.7 L41.1,51.2 L57.0,58.6 L76.2,64.4 L101.4,63.2 L124.4,62.2 L144.7,63.4" fill="none" stroke="#606068" stroke-opacity="0.14" stroke-width="0.5"/><path d="M16.4,51.7 L41.1,62.0 L57.0,65.9 L76.2,68.1 L101.4,66.9 L124.4,64.2 L144.7,67.6 L144.7,70.7 L124.4,67.4 L101.4,70.1 L76.2,71.3 L57.0,69.0 L41.1,65.1 L16.4,54.9 Z" fill="#707078" fill-opacity="0.028"/><path d="M16.4,53.3 L41.1,63.6 L57.0,67.5 L76.2,69.7 L101.4,68.5 L124.4,65.8 L144.7,69.2" fill="none" stroke="#606068" stroke-opacity="0.14" stroke-width="0.5"/><path d="M16.4,28.7 L41.1,43.1 L57.0,50.3 L76.2,60.1 L101.4,57.3 L124.4,54.0 L144.7,58.7 L144.7,65.9 L124.4,61.2 L101.4,64.5 L76.2,67.3 L57.0,57.5 L41.1,50.3 L16.4,35.9 Z" fill="#707078" fill-opacity="0.028"/><path d="M16.4,32.3 L41.1,46.7 L57.0,53.9 L76.2,63.7 L101.4,60.9 L124.4,57.6 L144.7,62.3" fill="none" stroke="#606068" stroke-opacity="0.14" stroke-width="0.5"/><path d="M16.4,53.5 L41.1,61.3 L57.0,62.9 L76.2,66.2 L101.4,64.4 L124.4,64.9 L144.7,66.1 L144.7,74.0 L124.4,72.8 L101.4,72.3 L76.2,74.1 L57.0,70.7 L41.1,69.2 L16.4,61.3 Z" fill="#707078" fill-opacity="0.028"/><path d="M16.4,57.4 L41.1,65.2 L57.0,66.8 L76.2,70.2 L101.4,68.4 L124.4,68.9 L144.7,70.0" fill="none" stroke="#606068" stroke-opacity="0.14" stroke-width="0.5"/><path d="M16.4,28.6 L41.1,40.0 L57.0,51.1 L76.2,59.6 L101.4,59.5 L124.4,56.0 L144.7,61.1 L144.7,64.3 L124.4,59.2 L101.4,62.6 L76.2,62.8 L57.0,54.3 L41.1,43.2 L16.4,31.8 Z" fill="#707078" fill-opacity="0.028"/><path d="M16.4,30.2 L41.1,41.6 L57.0,52.7 L76.2,61.2 L101.4,61.1 L124.4,57.6 L144.7,62.7" fill="none" stroke="#606068" stroke-opacity="0.14" stroke-width="0.5"/><path d="M16.4,62.5 L41.1,66.0 L57.0,66.6 L76.2,67.3 L101.4,67.8 L124.4,66.3 L144.7,66.8 L144.7,75.5 L124.4,75.0 L101.4,76.6 L76.2,76.1 L57.0,75.3 L41.1,74.7 L16.4,71.3 Z" fill="#707078" fill-opacity="0.028"/><path d="M16.4,66.9 L41.1,70.4 L57.0,70.9 L76.2,71.7 L101.4,72.2 L124.4,70.6 L144.7,71.1" fill="none" stroke="#606068" stroke-opacity="0.14" stroke-width="0.5"/><path d="M16.4,53.2 L41.1,60.6 L57.0,64.6 L76.2,67.2 L101.4,65.0 L124.4,63.1 L144.7,64.9 L144.7,70.8 L124.4,69.0 L101.4,70.9 L76.2,73.1 L57.0,70.5 L41.1,66.5 L16.4,59.1 Z" fill="#707078" fill-opacity="0.028"/><path d="M16.4,56.1 L41.1,63.5 L57.0,67.6 L76.2,70.2 L101.4,67.9 L124.4,66.1 L144.7,67.9" fill="none" stroke="#606068" stroke-opacity="0.14" stroke-width="0.5"/><path d="M16.4,44.0 L41.1,59.5 L57.0,60.8 L76.2,64.4 L101.4,63.5 L124.4,62.3 L144.7,65.3 L144.7,69.4 L124.4,66.4 L101.4,67.6 L76.2,68.5 L57.0,64.9 L41.1,63.6 L16.4,48.1 Z" fill="#707078" fill-opacity="0.028"/><path d="M16.4,46.1 L41.1,61.6 L57.0,62.8 L76.2,66.5 L101.4,65.6 L124.4,64.4 L144.7,67.3" fill="none" stroke="#606068" stroke-opacity="0.14" stroke-width="0.5"/><path d="M16.4,42.4 L41.1,48.0 L57.0,55.4 L76.2,64.0 L101.4,62.7 L124.4,59.0 L144.7,63.1 L144.7,67.1 L124.4,63.0 L101.4,66.7 L76.2,68.0 L57.0,59.4 L41.1,52.1 L16.4,46.4 Z" fill="#707078" fill-opacity="0.028"/><path d="M16.4,44.4 L41.1,50.1 L57.0,57.4 L76.2,66.0 L101.4,64.7 L124.4,61.0 L144.7,65.1" fill="none" stroke="#606068" stroke-opacity="0.14" stroke-width="0.5"/><path d="M16.4,60.9 L41.1,62.2 L57.0,66.1 L76.2,69.5 L101.4,67.2 L124.4,66.3 L144.7,67.9 L144.7,73.0 L124.4,71.4 L101.4,72.3 L76.2,74.6 L57.0,71.2 L41.1,67.3 L16.4,66.0 Z" fill="#707078" fill-opacity="0.028"/><path d="M16.4,63.5 L41.1,64.8 L57.0,68.7 L76.2,72.1 L101.4,69.8 L124.4,68.8 L144.7,70.5" fill="none" stroke="#606068" stroke-opacity="0.14" stroke-width="0.5"/><path d="M16.4,50.9 L41.1,59.3 L57.0,58.8 L76.2,64.4 L101.4,63.3 L124.4,60.8 L144.7,64.2 L144.7,72.4 L124.4,69.0 L101.4,71.6 L76.2,72.6 L57.0,67.0 L41.1,67.5 L16.4,59.1 Z" fill="#707078" fill-opacity="0.028"/><path d="M16.4,55.0 L41.1,63.4 L57.0,62.9 L76.2,68.5 L101.4,67.5 L124.4,64.9 L144.7,68.3" fill="none" stroke="#606068" stroke-opacity="0.14" stroke-width="0.5"/><path d="M16.4,41.6 L41.1,51.0 L57.0,58.2 L76.2,63.9 L101.4,61.5 L124.4,61.0 L144.7,63.4 L144.7,67.2 L124.4,64.8 L101.4,65.3 L76.2,67.7 L57.0,61.9 L41.1,54.8 L16.4,45.4 Z" fill="#707078" fill-opacity="0.028"/><path d="M16.4,43.5 L41.1,52.9 L57.0,60.0 L76.2,65.8 L101.4,63.4 L124.4,62.9 L144.7,65.3" fill="none" stroke="#606068" stroke-opacity="0.14" stroke-width="0.5"/><path d="M16.4,33.8 L41.1,43.5 L57.0,52.2 L76.2,58.6 L101.4,59.1 L124.4,55.0 L144.7,60.6 L144.7,66.8 L124.4,61.2 L101.4,65.3 L76.2,64.8 L57.0,58.4 L41.1,49.7 L16.4,40.0 Z" fill="#707078" fill-opacity="0.028"/><path d="M16.4,36.9 L41.1,46.6 L57.0,55.3 L76.2,61.7 L101.4,62.2 L124.4,58.1 L144.7,63.7" fill="none" stroke="#606068" stroke-opacity="0.14" stroke-width="0.5"/><path d="M16.4,52.5 L41.1,58.0 L57.0,63.3 L76.2,66.5 L101.4,63.1 L124.4,64.2 L144.7,64.6 L144.7,72.0 L124.4,71.5 L101.4,70.4 L76.2,73.9 L57.0,70.7 L41.1,65.4 L16.4,59.8 Z" fill="#707078" fill-opacity="0.028"/><path d="M16.4,56.2 L41.1,61.7 L57.0,67.0 L76.2,70.2 L101.4,66.7 L124.4,67.9 L144.7,68.3" fill="none" stroke="#606068" stroke-opacity="0.14" stroke-width="0.5"/><path d="M16.4,51.1 L41.1,58.1 L57.0,62.8 L76.2,65.6 L101.4,66.2 L124.4,64.0 L144.7,66.3 L144.7,71.0 L124.4,68.7 L101.4,70.9 L76.2,70.3 L57.0,67.5 L41.1,62.8 L16.4,55.8 Z" fill="#707078" fill-opacity="0.028"/><path d="M16.4,53.5 L41.1,60.4 L57.0,65.1 L76.2,67.9 L101.4,68.6 L124.4,66.4 L144.7,68.7" fill="none" stroke="#606068" stroke-opacity="0.14" stroke-width="0.5"/><path d="M16.4,40.5 L41.1,49.8 L57.0,56.1 L76.2,61.5 L101.4,61.9 L124.4,59.7 L144.7,62.8 L144.7,68.9 L124.4,65.8 L101.4,67.9 L76.2,67.6 L57.0,62.2 L41.1,55.9 L16.4,46.6 Z" fill="#707078" fill-opacity="0.028"/><path d="M16.4,43.6 L41.1,52.9 L57.0,59.1 L76.2,64.6 L101.4,64.9 L124.4,62.7 L144.7,65.9" fill="none" stroke="#606068" stroke-opacity="0.14" stroke-width="0.5"/><path d="M16.4,45.6 L41.1,54.1 L57.0,60.7 L76.2,63.5 L101.4,63.0 L124.4,60.9 L144.7,63.5 L144.7,68.0 L124.4,65.5 L101.4,67.6 L76.2,68.1 L57.0,65.2 L41.1,58.7 L16.4,50.1 Z" fill="#707078" fill-opacity="0.028"/><path d="M16.4,47.9 L41.1,56.4 L57.0,62.9 L76.2,65.8 L101.4,65.3 L124.4,63.2 L144.7,65.7" fill="none" stroke="#606068" stroke-opacity="0.14" stroke-width="0.5"/><path d="M16.4,45.8 L41.1,55.9 L57.0,65.2 L76.2,68.1 L101.4,65.9 L124.4,66.2 L144.7,66.9 L144.7,70.4 L124.4,69.6 L101.4,69.4 L76.2,71.6 L57.0,68.6 L41.1,59.4 L16.4,49.3 Z" fill="#707078" fill-opacity="0.028"/><path d="M16.4,47.5 L41.1,57.7 L57.0,66.9 L76.2,69.8 L101.4,67.7 L124.4,67.9 L144.7,68.7" fill="none" stroke="#606068" stroke-opacity="0.14" stroke-width="0.5"/><path d="M16.4,41.2 L41.1,49.7 L57.0,60.9 L76.2,62.5 L101.4,61.4 L124.4,62.2 L144.7,61.7 L144.7,70.5 L124.4,71.0 L101.4,70.2 L76.2,71.3 L57.0,69.7 L41.1,58.5 L16.4,50.0 Z" fill="#707078" fill-opacity="0.028"/><path d="M16.4,45.6 L41.1,54.1 L57.0,65.3 L76.2,66.9 L101.4,65.8 L124.4,66.6 L144.7,66.1" fill="none" stroke="#606068" stroke-opacity="0.14" stroke-width="0.5"/><path d="M76.0,64.0 L100.0,61.0 L124.4,56.0 L144.7,62.0" fill="none" stroke="#606068" stroke-opacity="0.38" stroke-width="0.5"/><path d="M16.4,51.4 L18.4,52.1 L20.4,52.8 L22.4,53.5 L24.4,54.2 L26.4,54.9 L28.4,55.6 L30.4,56.3 L32.4,57.0 L34.4,57.7 L36.4,58.4 L38.4,59.1 L40.4,59.7 L42.4,60.3 L44.4,60.9 L46.4,61.5 L48.4,62.1 L50.4,62.6 L52.4,63.2 L54.4,63.7 L56.4,64.3 L58.4,64.8 L60.4,65.4 L62.4,66.1 L64.4,66.7 L66.4,67.1 L68.4,67.4 L70.4,67.5 L72.4,67.6 L74.4,67.6 L76.4,67.6 L78.4,67.5 L80.4,67.5 L82.4,67.4 L84.4,67.3 L86.4,67.2 L88.4,67.0 L90.4,66.9 L92.4,66.7 L94.4,66.6 L96.4,66.4 L98.4,66.3 L100.4,66.2 L102.4,66.1 L104.4,66.0 L106.4,65.8 L108.4,65.7 L110.4,65.6 L112.4,65.5 L114.4,65.4 L116.4,65.4 L118.4,65.3 L120.4,65.3 L122.4,65.3 L124.4,65.3 L126.4,65.4 L128.4,65.5 L130.4,65.6 L132.4,65.7 L134.4,65.9 L136.4,66.0 L138.4,66.2 L140.4,66.3 L142.4,66.5 L144.4,66.6 L144.7,66.6 L144.7,70.2 L144.4,70.2 L142.4,70.1 L140.4,69.9 L138.4,69.8 L136.4,69.6 L134.4,69.5 L132.4,69.3 L130.4,69.2 L128.4,69.1 L126.4,69.0 L124.4,68.9 L122.4,68.9 L120.4,68.9 L118.4,68.9 L116.4,69.0 L114.4,69.0 L112.4,69.1 L110.4,69.2 L108.4,69.3 L106.4,69.4 L104.4,69.6 L102.4,69.7 L100.4,69.8 L98.4,69.9 L96.4,70.0 L94.4,70.2 L92.4,70.3 L90.4,70.5 L88.4,70.6 L86.4,70.8 L84.4,70.9 L82.4,71.0 L80.4,71.1 L78.4,71.1 L76.4,71.2 L74.4,71.2 L72.4,71.2 L70.4,71.1 L68.4,71.0 L66.4,70.7 L64.4,70.3 L62.4,69.7 L60.4,69.0 L58.4,68.4 L56.4,67.9 L54.4,67.3 L52.4,66.8 L50.4,66.2 L48.4,65.7 L46.4,65.1 L44.4,64.5 L42.4,63.9 L40.4,63.3 L38.4,62.7 L36.4,62.0 L34.4,61.3 L32.4,60.6 L30.4,59.9 L28.4,59.2 L26.4,58.5 L24.4,57.8 L22.4,57.1 L20.4,56.4 L18.4,55.7 L16.4,55.0 Z" fill="#e07ab3" fill-opacity="0.85"/><path d="M16.4,53.2 L18.4,53.9 L20.4,54.6 L22.4,55.3 L24.4,56.0 L26.4,56.7 L28.4,57.4 L30.4,58.1 L32.4,58.8 L34.4,59.5 L36.4,60.2 L38.4,60.9 L40.4,61.5 L42.4,62.1 L44.4,62.7 L46.4,63.3 L48.4,63.9 L50.4,64.4 L52.4,65.0 L54.4,65.5 L56.4,66.1 L58.4,66.6 L60.4,67.2 L62.4,67.9 L64.4,68.5 L66.4,68.9 L68.4,69.2 L70.4,69.3 L72.4,69.4 L74.4,69.4 L76.4,69.4 L78.4,69.3 L80.4,69.3 L82.4,69.2 L84.4,69.1 L86.4,69.0 L88.4,68.8 L90.4,68.7 L92.4,68.5 L94.4,68.4 L96.4,68.2 L98.4,68.1 L100.4,68.0 L102.4,67.9 L104.4,67.8 L106.4,67.6 L108.4,67.5 L110.4,67.4 L112.4,67.3 L114.4,67.2 L116.4,67.2 L118.4,67.1 L120.4,67.1 L122.4,67.1 L124.4,67.1 L126.4,67.2 L128.4,67.3 L130.4,67.4 L132.4,67.5 L134.4,67.7 L136.4,67.8 L138.4,68.0 L140.4,68.1 L142.4,68.3 L144.4,68.4 L144.7,68.4" fill="none" stroke="#bb2d76" stroke-width="1.2"/><line x1="16.4" y1="70.6" x2="144.70000000000002" y2="70.6" stroke="#333" stroke-width="0.7" stroke-dasharray="1.7,2.05"/><text transform="translate(49.05,106.10) scale(1,1.15)" font-size="4.4" text-anchor="middle" fill="#3a3a3a" stroke="#3a3a3a" stroke-width="0.08" font-family="Liberation Sans, sans-serif">USCC</text><text transform="translate(67.15,106.10) scale(1,1.15)" font-size="4.4" text-anchor="middle" fill="#3a3a3a" stroke="#3a3a3a" stroke-width="0.08" font-family="Liberation Sans, sans-serif">UCC1</text><text transform="translate(134.55,106.10) scale(1,1.15)" font-size="4.4" text-anchor="middle" fill="#3a3a3a" stroke="#3a3a3a" stroke-width="0.08" font-family="Liberation Sans, sans-serif">UCC2</text></g><rect x="16.4" y="8.6" width="128.3" height="99.6" fill="none" stroke="#c4c4c4" stroke-width="0.6"/><g clip-path="url(#cp01)"><rect x="181.30" y="8.6" width="15.90" height="99.6" fill="#f0f0fd"/><rect x="198.30" y="8.6" width="18.10" height="99.6" fill="#f0f0fd"/><rect x="264.60" y="8.6" width="20.30" height="99.6" fill="#f0f0fd"/><path d="M156.6,23.4 L158.6,24.2 L160.6,25.0 L162.6,25.8 L164.6,26.6 L166.6,27.4 L168.6,28.2 L170.6,29.0 L172.6,29.8 L174.6,30.6 L176.6,31.4 L178.6,32.2 L180.6,33.0 L182.6,34.1 L184.6,35.8 L186.6,37.5 L188.6,39.2 L190.6,41.0 L192.6,42.8 L194.6,44.6 L196.6,46.5 L198.6,48.3 L200.6,50.1 L202.6,51.9 L204.6,53.7 L206.6,53.9 L208.6,53.8 L210.6,53.7 L212.6,53.6 L214.6,53.5 L216.6,53.5 L218.6,53.4 L220.6,53.4 L222.6,53.3 L224.6,53.3 L226.6,53.3 L228.6,53.2 L230.6,53.2 L232.6,53.2 L234.6,53.2 L236.6,53.2 L238.6,53.2 L240.6,53.2 L242.6,53.2 L244.6,53.2 L246.6,53.2 L248.6,53.2 L250.6,53.2 L252.6,53.2 L254.6,53.2 L256.6,53.2 L258.6,53.2 L260.6,53.2 L262.6,53.1 L264.6,53.1 L266.6,53.1 L268.6,53.0 L270.6,53.0 L272.6,52.9 L274.6,52.9 L276.6,52.8 L278.6,52.8 L280.6,52.7 L282.6,52.6 L284.6,52.6 L284.9,52.6 L284.9,83.7 L284.6,83.7 L282.6,83.7 L280.6,83.7 L278.6,83.8 L276.6,83.8 L274.6,83.8 L272.6,83.9 L270.6,83.9 L268.6,83.9 L266.6,83.9 L264.6,84.0 L262.6,84.0 L260.6,84.0 L258.6,84.1 L256.6,84.1 L254.6,84.1 L252.6,84.1 L250.6,84.1 L248.6,84.2 L246.6,84.2 L244.6,84.2 L242.6,84.2 L240.6,84.3 L238.6,84.3 L236.6,84.3 L234.6,84.3 L232.6,84.4 L230.6,84.4 L228.6,84.4 L226.6,84.4 L224.6,84.4 L222.6,84.5 L220.6,84.5 L218.6,84.5 L216.6,84.5 L214.6,84.6 L212.6,84.6 L210.6,84.6 L208.6,84.7 L206.6,84.7 L204.6,84.6 L202.6,84.1 L200.6,83.6 L198.6,83.1 L196.6,82.5 L194.6,82.0 L192.6,81.5 L190.6,81.0 L188.6,80.4 L186.6,79.9 L184.6,79.4 L182.6,78.9 L180.6,78.5 L178.6,78.2 L176.6,78.0 L174.6,77.7 L172.6,77.4 L170.6,77.1 L168.6,76.9 L166.6,76.6 L164.6,76.3 L162.6,76.0 L160.6,75.8 L158.6,75.5 L156.6,75.2 Z" fill="#707078" fill-opacity="0.025"/><path d="M156.6,33.0 L158.6,33.7 L160.6,34.3 L162.6,35.0 L164.6,35.7 L166.6,36.3 L168.6,37.0 L170.6,37.7 L172.6,38.4 L174.6,39.0 L176.6,39.7 L178.6,40.4 L180.6,41.0 L182.6,41.9 L184.6,43.3 L186.6,44.7 L188.6,46.0 L190.6,47.4 L192.6,48.9 L194.6,50.4 L196.6,51.8 L198.6,53.3 L200.6,54.8 L202.6,56.2 L204.6,57.7 L206.6,58.0 L208.6,57.9 L210.6,57.9 L212.6,57.8 L214.6,57.8 L216.6,57.8 L218.6,57.7 L220.6,57.7 L222.6,57.6 L224.6,57.6 L226.6,57.6 L228.6,57.5 L230.6,57.5 L232.6,57.5 L234.6,57.5 L236.6,57.4 L238.6,57.4 L240.6,57.4 L242.6,57.4 L244.6,57.4 L246.6,57.3 L248.6,57.3 L250.6,57.3 L252.6,57.3 L254.6,57.3 L256.6,57.3 L258.6,57.2 L260.6,57.2 L262.6,57.2 L264.6,57.2 L266.6,57.2 L268.6,57.1 L270.6,57.1 L272.6,57.1 L274.6,57.1 L276.6,57.1 L278.6,57.1 L280.6,57.0 L282.6,57.0 L284.6,57.0 L284.9,57.0 L284.9,83.0 L284.6,83.0 L282.6,83.0 L280.6,83.1 L278.6,83.1 L276.6,83.1 L274.6,83.1 L272.6,83.2 L270.6,83.2 L268.6,83.2 L266.6,83.2 L264.6,83.3 L262.6,83.3 L260.6,83.3 L258.6,83.3 L256.6,83.4 L254.6,83.4 L252.6,83.4 L250.6,83.4 L248.6,83.5 L246.6,83.5 L244.6,83.5 L242.6,83.5 L240.6,83.6 L238.6,83.6 L236.6,83.6 L234.6,83.6 L232.6,83.7 L230.6,83.7 L228.6,83.7 L226.6,83.7 L224.6,83.8 L222.6,83.8 L220.6,83.8 L218.6,83.8 L216.6,83.9 L214.6,83.9 L212.6,83.9 L210.6,83.9 L208.6,84.0 L206.6,84.0 L204.6,83.9 L202.6,83.4 L200.6,82.9 L198.6,82.3 L196.6,81.8 L194.6,81.3 L192.6,80.8 L190.6,80.2 L188.6,79.7 L186.6,79.2 L184.6,78.7 L182.6,78.2 L180.6,77.8 L178.6,77.5 L176.6,77.3 L174.6,77.0 L172.6,76.7 L170.6,76.4 L168.6,76.2 L166.6,75.9 L164.6,75.6 L162.6,75.3 L160.6,75.1 L158.6,74.8 L156.6,74.5 Z" fill="#707078" fill-opacity="0.022"/><path d="M156.6,35.8 L158.6,36.4 L160.6,37.0 L162.6,37.6 L164.6,38.3 L166.6,38.9 L168.6,39.5 L170.6,40.2 L172.6,40.8 L174.6,41.4 L176.6,42.1 L178.6,42.7 L180.6,43.3 L182.6,44.1 L184.6,45.4 L186.6,46.7 L188.6,48.0 L190.6,49.3 L192.6,50.6 L194.6,52.0 L196.6,53.4 L198.6,54.7 L200.6,56.1 L202.6,57.5 L204.6,58.8 L206.6,59.1 L208.6,59.1 L210.6,59.1 L212.6,59.1 L214.6,59.0 L216.6,59.0 L218.6,59.0 L220.6,58.9 L222.6,58.9 L224.6,58.8 L226.6,58.8 L228.6,58.8 L230.6,58.7 L232.6,58.7 L234.6,58.7 L236.6,58.7 L238.6,58.6 L240.6,58.6 L242.6,58.6 L244.6,58.6 L246.6,58.5 L248.6,58.5 L250.6,58.5 L252.6,58.5 L254.6,58.4 L256.6,58.4 L258.6,58.4 L260.6,58.4 L262.6,58.4 L264.6,58.3 L266.6,58.3 L268.6,58.3 L270.6,58.3 L272.6,58.3 L274.6,58.3 L276.6,58.3 L278.6,58.3 L280.6,58.3 L282.6,58.3 L284.6,58.3 L284.9,58.3 L284.9,81.7 L284.6,81.7 L282.6,81.7 L280.6,81.7 L278.6,81.7 L276.6,81.7 L274.6,81.7 L272.6,81.7 L270.6,81.8 L268.6,81.8 L266.6,81.8 L264.6,81.8 L262.6,81.8 L260.6,81.9 L258.6,81.9 L256.6,81.9 L254.6,81.9 L252.6,82.0 L250.6,82.0 L248.6,82.0 L246.6,82.1 L244.6,82.1 L242.6,82.1 L240.6,82.1 L238.6,82.2 L236.6,82.2 L234.6,82.2 L232.6,82.3 L230.6,82.3 L228.6,82.3 L226.6,82.3 L224.6,82.4 L222.6,82.4 L220.6,82.4 L218.6,82.5 L216.6,82.5 L214.6,82.5 L212.6,82.5 L210.6,82.5 L208.6,82.5 L206.6,82.5 L204.6,82.4 L202.6,81.9 L200.6,81.4 L198.6,80.9 L196.6,80.3 L194.6,79.8 L192.6,79.3 L190.6,78.8 L188.6,78.3 L186.6,77.8 L184.6,77.3 L182.6,76.8 L180.6,76.4 L178.6,76.1 L176.6,75.9 L174.6,75.6 L172.6,75.3 L170.6,75.0 L168.6,74.8 L166.6,74.5 L164.6,74.2 L162.6,73.9 L160.6,73.7 L158.6,73.4 L156.6,73.1 Z" fill="#707078" fill-opacity="0.022"/><path d="M156.6,38.5 L158.6,39.1 L160.6,39.7 L162.6,40.3 L164.6,40.9 L166.6,41.5 L168.6,42.0 L170.6,42.6 L172.6,43.2 L174.6,43.8 L176.6,44.4 L178.6,45.0 L180.6,45.6 L182.6,46.4 L184.6,47.6 L186.6,48.7 L188.6,49.9 L190.6,51.1 L192.6,52.4 L194.6,53.7 L196.6,54.9 L198.6,56.2 L200.6,57.4 L202.6,58.7 L204.6,60.0 L206.6,60.3 L208.6,60.3 L210.6,60.3 L212.6,60.3 L214.6,60.3 L216.6,60.2 L218.6,60.2 L220.6,60.2 L222.6,60.1 L224.6,60.1 L226.6,60.0 L228.6,60.0 L230.6,60.0 L232.6,59.9 L234.6,59.9 L236.6,59.9 L238.6,59.8 L240.6,59.8 L242.6,59.8 L244.6,59.8 L246.6,59.7 L248.6,59.7 L250.6,59.7 L252.6,59.6 L254.6,59.6 L256.6,59.6 L258.6,59.6 L260.6,59.5 L262.6,59.5 L264.6,59.5 L266.6,59.5 L268.6,59.5 L270.6,59.5 L272.6,59.5 L274.6,59.5 L276.6,59.5 L278.6,59.5 L280.6,59.5 L282.6,59.5 L284.6,59.5 L284.9,59.5 L284.9,80.3 L284.6,80.3 L282.6,80.3 L280.6,80.3 L278.6,80.3 L276.6,80.3 L274.6,80.3 L272.6,80.3 L270.6,80.3 L268.6,80.3 L266.6,80.4 L264.6,80.4 L262.6,80.4 L260.6,80.4 L258.6,80.4 L256.6,80.5 L254.6,80.5 L252.6,80.5 L250.6,80.6 L248.6,80.6 L246.6,80.6 L244.6,80.7 L242.6,80.7 L240.6,80.7 L238.6,80.8 L236.6,80.8 L234.6,80.8 L232.6,80.9 L230.6,80.9 L228.6,80.9 L226.6,81.0 L224.6,81.0 L222.6,81.0 L220.6,81.1 L218.6,81.1 L216.6,81.1 L214.6,81.1 L212.6,81.1 L210.6,81.1 L208.6,81.1 L206.6,81.1 L204.6,80.9 L202.6,80.4 L200.6,79.9 L198.6,79.4 L196.6,78.9 L194.6,78.4 L192.6,77.9 L190.6,77.4 L188.6,76.9 L186.6,76.4 L184.6,75.9 L182.6,75.4 L180.6,75.0 L178.6,74.7 L176.6,74.5 L174.6,74.2 L172.6,73.9 L170.6,73.6 L168.6,73.4 L166.6,73.1 L164.6,72.8 L162.6,72.5 L160.6,72.3 L158.6,72.0 L156.6,71.7 Z" fill="#707078" fill-opacity="0.022"/><path d="M156.6,41.2 L158.6,41.8 L160.6,42.4 L162.6,42.9 L164.6,43.5 L166.6,44.0 L168.6,44.6 L170.6,45.1 L172.6,45.7 L174.6,46.2 L176.6,46.8 L178.6,47.3 L180.6,47.9 L182.6,48.6 L184.6,49.7 L186.6,50.8 L188.6,51.9 L190.6,53.0 L192.6,54.1 L194.6,55.3 L196.6,56.4 L198.6,57.6 L200.6,58.8 L202.6,60.0 L204.6,61.1 L206.6,61.4 L208.6,61.5 L210.6,61.5 L212.6,61.5 L214.6,61.5 L216.6,61.5 L218.6,61.4 L220.6,61.4 L222.6,61.4 L224.6,61.3 L226.6,61.3 L228.6,61.2 L230.6,61.2 L232.6,61.2 L234.6,61.1 L236.6,61.1 L238.6,61.1 L240.6,61.0 L242.6,61.0 L244.6,61.0 L246.6,60.9 L248.6,60.9 L250.6,60.8 L252.6,60.8 L254.6,60.8 L256.6,60.7 L258.6,60.7 L260.6,60.7 L262.6,60.7 L264.6,60.7 L266.6,60.7 L268.6,60.7 L270.6,60.7 L272.6,60.7 L274.6,60.7 L276.6,60.7 L278.6,60.7 L280.6,60.8 L282.6,60.8 L284.6,60.8 L284.9,60.8 L284.9,79.0 L284.6,79.0 L282.6,79.0 L280.6,79.0 L278.6,79.0 L276.6,78.9 L274.6,78.9 L272.6,78.9 L270.6,78.9 L268.6,78.9 L266.6,78.9 L264.6,78.9 L262.6,78.9 L260.6,79.0 L258.6,79.0 L256.6,79.0 L254.6,79.0 L252.6,79.1 L250.6,79.1 L248.6,79.2 L246.6,79.2 L244.6,79.3 L242.6,79.3 L240.6,79.3 L238.6,79.4 L236.6,79.4 L234.6,79.4 L232.6,79.5 L230.6,79.5 L228.6,79.5 L226.6,79.6 L224.6,79.6 L222.6,79.6 L220.6,79.7 L218.6,79.7 L216.6,79.7 L214.6,79.7 L212.6,79.8 L210.6,79.7 L208.6,79.7 L206.6,79.6 L204.6,79.5 L202.6,79.0 L200.6,78.4 L198.6,77.9 L196.6,77.4 L194.6,76.9 L192.6,76.4 L190.6,75.9 L188.6,75.4 L186.6,75.0 L184.6,74.5 L182.6,74.0 L180.6,73.6 L178.6,73.4 L176.6,73.1 L174.6,72.8 L172.6,72.5 L170.6,72.2 L168.6,72.0 L166.6,71.7 L164.6,71.4 L162.6,71.1 L160.6,70.9 L158.6,70.6 L156.6,70.3 Z" fill="#707078" fill-opacity="0.022"/><path d="M156.6,44.0 L158.6,44.5 L160.6,45.0 L162.6,45.5 L164.6,46.0 L166.6,46.6 L168.6,47.1 L170.6,47.6 L172.6,48.1 L174.6,48.6 L176.6,49.1 L178.6,49.7 L180.6,50.2 L182.6,50.9 L184.6,51.8 L186.6,52.8 L188.6,53.8 L190.6,54.8 L192.6,55.9 L194.6,56.9 L196.6,58.0 L198.6,59.0 L200.6,60.1 L202.6,61.2 L204.6,62.3 L206.6,62.6 L208.6,62.7 L210.6,62.7 L212.6,62.7 L214.6,62.7 L216.6,62.7 L218.6,62.7 L220.6,62.6 L222.6,62.6 L224.6,62.5 L226.6,62.5 L228.6,62.5 L230.6,62.4 L232.6,62.4 L234.6,62.3 L236.6,62.3 L238.6,62.3 L240.6,62.2 L242.6,62.2 L244.6,62.2 L246.6,62.1 L248.6,62.1 L250.6,62.0 L252.6,62.0 L254.6,61.9 L256.6,61.9 L258.6,61.9 L260.6,61.9 L262.6,61.8 L264.6,61.8 L266.6,61.8 L268.6,61.9 L270.6,61.9 L272.6,61.9 L274.6,61.9 L276.6,61.9 L278.6,62.0 L280.6,62.0 L282.6,62.0 L284.6,62.0 L284.9,62.0 L284.9,77.6 L284.6,77.6 L282.6,77.6 L280.6,77.6 L278.6,77.6 L276.6,77.6 L274.6,77.5 L272.6,77.5 L270.6,77.5 L268.6,77.5 L266.6,77.5 L264.6,77.5 L262.6,77.5 L260.6,77.5 L258.6,77.5 L256.6,77.6 L254.6,77.6 L252.6,77.6 L250.6,77.7 L248.6,77.7 L246.6,77.8 L244.6,77.8 L242.6,77.9 L240.6,77.9 L238.6,78.0 L236.6,78.0 L234.6,78.0 L232.6,78.1 L230.6,78.1 L228.6,78.2 L226.6,78.2 L224.6,78.2 L222.6,78.3 L220.6,78.3 L218.6,78.3 L216.6,78.3 L214.6,78.4 L212.6,78.4 L210.6,78.4 L208.6,78.3 L206.6,78.2 L204.6,78.0 L202.6,77.5 L200.6,77.0 L198.6,76.5 L196.6,76.0 L194.6,75.5 L192.6,75.0 L190.6,74.5 L188.6,74.0 L186.6,73.5 L184.6,73.1 L182.6,72.6 L180.6,72.3 L178.6,72.0 L176.6,71.7 L174.6,71.4 L172.6,71.1 L170.6,70.8 L168.6,70.5 L166.6,70.3 L164.6,70.0 L162.6,69.7 L160.6,69.5 L158.6,69.2 L156.6,68.9 Z" fill="#707078" fill-opacity="0.022"/><path d="M156.6,46.8 L158.6,47.2 L160.6,47.7 L162.6,48.2 L164.6,48.6 L166.6,49.1 L168.6,49.6 L170.6,50.1 L172.6,50.5 L174.6,51.0 L176.6,51.5 L178.6,52.0 L180.6,52.5 L182.6,53.1 L184.6,54.0 L186.6,54.9 L188.6,55.7 L190.6,56.7 L192.6,57.6 L194.6,58.6 L196.6,59.5 L198.6,60.5 L200.6,61.4 L202.6,62.4 L204.6,63.4 L206.6,63.8 L208.6,63.9 L210.6,63.9 L212.6,64.0 L214.6,64.0 L216.6,63.9 L218.6,63.9 L220.6,63.9 L222.6,63.8 L224.6,63.8 L226.6,63.7 L228.6,63.7 L230.6,63.6 L232.6,63.6 L234.6,63.6 L236.6,63.5 L238.6,63.5 L240.6,63.4 L242.6,63.4 L244.6,63.4 L246.6,63.3 L248.6,63.3 L250.6,63.2 L252.6,63.1 L254.6,63.1 L256.6,63.1 L258.6,63.0 L260.6,63.0 L262.6,63.0 L264.6,63.0 L266.6,63.0 L268.6,63.0 L270.6,63.1 L272.6,63.1 L274.6,63.1 L276.6,63.2 L278.6,63.2 L280.6,63.2 L282.6,63.3 L284.6,63.3 L284.9,63.3 L284.9,76.3 L284.6,76.3 L282.6,76.3 L280.6,76.2 L278.6,76.2 L276.6,76.2 L274.6,76.1 L272.6,76.1 L270.6,76.1 L268.6,76.1 L266.6,76.0 L264.6,76.0 L262.6,76.0 L260.6,76.1 L258.6,76.1 L256.6,76.1 L254.6,76.2 L252.6,76.2 L250.6,76.3 L248.6,76.3 L246.6,76.4 L244.6,76.4 L242.6,76.5 L240.6,76.5 L238.6,76.6 L236.6,76.6 L234.6,76.6 L232.6,76.7 L230.6,76.7 L228.6,76.8 L226.6,76.8 L224.6,76.9 L222.6,76.9 L220.6,76.9 L218.6,77.0 L216.6,77.0 L214.6,77.0 L212.6,77.0 L210.6,77.0 L208.6,76.9 L206.6,76.8 L204.6,76.5 L202.6,76.0 L200.6,75.5 L198.6,75.0 L196.6,74.5 L194.6,74.0 L192.6,73.5 L190.6,73.1 L188.6,72.6 L186.6,72.1 L184.6,71.7 L182.6,71.2 L180.6,70.9 L178.6,70.6 L176.6,70.3 L174.6,70.0 L172.6,69.7 L170.6,69.4 L168.6,69.1 L166.6,68.9 L164.6,68.6 L162.6,68.3 L160.6,68.1 L158.6,67.8 L156.6,67.5 Z" fill="#707078" fill-opacity="0.022"/><path d="M156.6,49.5 L158.6,49.9 L160.6,50.4 L162.6,50.8 L164.6,51.2 L166.6,51.7 L168.6,52.1 L170.6,52.5 L172.6,53.0 L174.6,53.4 L176.6,53.9 L178.6,54.3 L180.6,54.8 L182.6,55.3 L184.6,56.1 L186.6,56.9 L188.6,57.7 L190.6,58.5 L192.6,59.4 L194.6,60.2 L196.6,61.1 L198.6,61.9 L200.6,62.8 L202.6,63.7 L204.6,64.6 L206.6,64.9 L208.6,65.1 L210.6,65.1 L212.6,65.2 L214.6,65.2 L216.6,65.2 L218.6,65.1 L220.6,65.1 L222.6,65.1 L224.6,65.0 L226.6,65.0 L228.6,64.9 L230.6,64.9 L232.6,64.8 L234.6,64.8 L236.6,64.7 L238.6,64.7 L240.6,64.7 L242.6,64.6 L244.6,64.6 L246.6,64.5 L248.6,64.4 L250.6,64.4 L252.6,64.3 L254.6,64.3 L256.6,64.2 L258.6,64.2 L260.6,64.2 L262.6,64.2 L264.6,64.2 L266.6,64.2 L268.6,64.2 L270.6,64.2 L272.6,64.3 L274.6,64.3 L276.6,64.4 L278.6,64.4 L280.6,64.5 L282.6,64.5 L284.6,64.6 L284.9,64.6 L284.9,75.0 L284.6,75.0 L282.6,74.9 L280.6,74.9 L278.6,74.8 L276.6,74.8 L274.6,74.7 L272.6,74.7 L270.6,74.7 L268.6,74.6 L266.6,74.6 L264.6,74.6 L262.6,74.6 L260.6,74.6 L258.6,74.6 L256.6,74.7 L254.6,74.7 L252.6,74.8 L250.6,74.8 L248.6,74.9 L246.6,74.9 L244.6,75.0 L242.6,75.1 L240.6,75.1 L238.6,75.2 L236.6,75.2 L234.6,75.2 L232.6,75.3 L230.6,75.3 L228.6,75.4 L226.6,75.4 L224.6,75.5 L222.6,75.5 L220.6,75.5 L218.6,75.6 L216.6,75.6 L214.6,75.6 L212.6,75.6 L210.6,75.6 L208.6,75.5 L206.6,75.3 L204.6,75.0 L202.6,74.5 L200.6,74.0 L198.6,73.5 L196.6,73.0 L194.6,72.6 L192.6,72.1 L190.6,71.6 L188.6,71.2 L186.6,70.7 L184.6,70.3 L182.6,69.8 L180.6,69.5 L178.6,69.2 L176.6,68.9 L174.6,68.6 L172.6,68.3 L170.6,68.0 L168.6,67.7 L166.6,67.5 L164.6,67.2 L162.6,66.9 L160.6,66.7 L158.6,66.4 L156.6,66.1 Z" fill="#707078" fill-opacity="0.022"/><path d="M156.6,52.2 L158.6,52.6 L160.6,53.0 L162.6,53.4 L164.6,53.8 L166.6,54.2 L168.6,54.6 L170.6,55.0 L172.6,55.4 L174.6,55.8 L176.6,56.2 L178.6,56.6 L180.6,57.1 L182.6,57.6 L184.6,58.2 L186.6,58.9 L188.6,59.6 L190.6,60.4 L192.6,61.1 L194.6,61.8 L196.6,62.6 L198.6,63.3 L200.6,64.1 L202.6,64.9 L204.6,65.7 L206.6,66.1 L208.6,66.2 L210.6,66.4 L212.6,66.4 L214.6,66.4 L216.6,66.4 L218.6,66.4 L220.6,66.3 L222.6,66.3 L224.6,66.3 L226.6,66.2 L228.6,66.2 L230.6,66.1 L232.6,66.0 L234.6,66.0 L236.6,66.0 L238.6,65.9 L240.6,65.9 L242.6,65.8 L244.6,65.7 L246.6,65.7 L248.6,65.6 L250.6,65.6 L252.6,65.5 L254.6,65.4 L256.6,65.4 L258.6,65.4 L260.6,65.3 L262.6,65.3 L264.6,65.3 L266.6,65.4 L268.6,65.4 L270.6,65.4 L272.6,65.5 L274.6,65.5 L276.6,65.6 L278.6,65.7 L280.6,65.7 L282.6,65.8 L284.6,65.8 L284.9,65.8 L284.9,73.6 L284.6,73.6 L282.6,73.6 L280.6,73.5 L278.6,73.5 L276.6,73.4 L274.6,73.3 L272.6,73.3 L270.6,73.2 L268.6,73.2 L266.6,73.2 L264.6,73.2 L262.6,73.1 L260.6,73.2 L258.6,73.2 L256.6,73.2 L254.6,73.3 L252.6,73.3 L250.6,73.4 L248.6,73.5 L246.6,73.5 L244.6,73.6 L242.6,73.7 L240.6,73.7 L238.6,73.8 L236.6,73.8 L234.6,73.9 L232.6,73.9 L230.6,74.0 L228.6,74.0 L226.6,74.1 L224.6,74.1 L222.6,74.1 L220.6,74.2 L218.6,74.2 L216.6,74.2 L214.6,74.2 L212.6,74.2 L210.6,74.2 L208.6,74.1 L206.6,73.9 L204.6,73.6 L202.6,73.1 L200.6,72.5 L198.6,72.0 L196.6,71.6 L194.6,71.1 L192.6,70.7 L190.6,70.2 L188.6,69.7 L186.6,69.3 L184.6,68.9 L182.6,68.4 L180.6,68.1 L178.6,67.8 L176.6,67.5 L174.6,67.2 L172.6,66.9 L170.6,66.6 L168.6,66.3 L166.6,66.1 L164.6,65.8 L162.6,65.5 L160.6,65.3 L158.6,65.0 L156.6,64.7 Z" fill="#707078" fill-opacity="0.022"/><path d="M156.6,55.0 L158.6,55.4 L160.6,55.7 L162.6,56.1 L164.6,56.4 L166.6,56.8 L168.6,57.1 L170.6,57.5 L172.6,57.8 L174.6,58.2 L176.6,58.6 L178.6,59.0 L180.6,59.4 L182.6,59.8 L184.6,60.4 L186.6,61.0 L188.6,61.6 L190.6,62.2 L192.6,62.8 L194.6,63.5 L196.6,64.1 L198.6,64.8 L200.6,65.5 L202.6,66.2 L204.6,66.8 L206.6,67.2 L208.6,67.4 L210.6,67.6 L212.6,67.6 L214.6,67.6 L216.6,67.6 L218.6,67.6 L220.6,67.6 L222.6,67.5 L224.6,67.5 L226.6,67.4 L228.6,67.4 L230.6,67.3 L232.6,67.3 L234.6,67.2 L236.6,67.2 L238.6,67.1 L240.6,67.1 L242.6,67.0 L244.6,66.9 L246.6,66.9 L248.6,66.8 L250.6,66.7 L252.6,66.7 L254.6,66.6 L256.6,66.5 L258.6,66.5 L260.6,66.5 L262.6,66.5 L264.6,66.5 L266.6,66.5 L268.6,66.6 L270.6,66.6 L272.6,66.7 L274.6,66.7 L276.6,66.8 L278.6,66.9 L280.6,67.0 L282.6,67.0 L284.6,67.1 L284.9,67.1 L284.9,72.3 L284.6,72.3 L282.6,72.2 L280.6,72.2 L278.6,72.1 L276.6,72.0 L274.6,72.0 L272.6,71.9 L270.6,71.8 L268.6,71.8 L266.6,71.7 L264.6,71.7 L262.6,71.7 L260.6,71.7 L258.6,71.7 L256.6,71.8 L254.6,71.8 L252.6,71.9 L250.6,72.0 L248.6,72.0 L246.6,72.1 L244.6,72.2 L242.6,72.2 L240.6,72.3 L238.6,72.3 L236.6,72.4 L234.6,72.5 L232.6,72.5 L230.6,72.6 L228.6,72.6 L226.6,72.7 L224.6,72.7 L222.6,72.8 L220.6,72.8 L218.6,72.8 L216.6,72.8 L214.6,72.9 L212.6,72.8 L210.6,72.8 L208.6,72.6 L206.6,72.4 L204.6,72.1 L202.6,71.6 L200.6,71.1 L198.6,70.6 L196.6,70.1 L194.6,69.7 L192.6,69.2 L190.6,68.8 L188.6,68.3 L186.6,67.9 L184.6,67.5 L182.6,67.1 L180.6,66.7 L178.6,66.4 L176.6,66.1 L174.6,65.8 L172.6,65.5 L170.6,65.2 L168.6,64.9 L166.6,64.7 L164.6,64.4 L162.6,64.1 L160.6,63.9 L158.6,63.6 L156.6,63.3 Z" fill="#707078" fill-opacity="0.022"/><path d="M156.6,57.8 L158.6,58.1 L160.6,58.4 L162.6,58.7 L164.6,59.0 L166.6,59.3 L168.6,59.6 L170.6,59.9 L172.6,60.3 L174.6,60.6 L176.6,60.9 L178.6,61.3 L180.6,61.6 L182.6,62.0 L184.6,62.5 L186.6,63.0 L188.6,63.5 L190.6,64.0 L192.6,64.6 L194.6,65.1 L196.6,65.7 L198.6,66.2 L200.6,66.8 L202.6,67.4 L204.6,68.0 L206.6,68.4 L208.6,68.6 L210.6,68.8 L212.6,68.9 L214.6,68.9 L216.6,68.9 L218.6,68.8 L220.6,68.8 L222.6,68.8 L224.6,68.7 L226.6,68.7 L228.6,68.6 L230.6,68.6 L232.6,68.5 L234.6,68.4 L236.6,68.4 L238.6,68.3 L240.6,68.3 L242.6,68.2 L244.6,68.1 L246.6,68.1 L248.6,68.0 L250.6,67.9 L252.6,67.8 L254.6,67.8 L256.6,67.7 L258.6,67.7 L260.6,67.6 L262.6,67.6 L264.6,67.7 L266.6,67.7 L268.6,67.7 L270.6,67.8 L272.6,67.9 L274.6,68.0 L276.6,68.0 L278.6,68.1 L280.6,68.2 L282.6,68.3 L284.6,68.3 L284.9,68.3 L284.9,70.9 L284.6,70.9 L282.6,70.9 L280.6,70.8 L278.6,70.7 L276.6,70.6 L274.6,70.6 L272.6,70.5 L270.6,70.4 L268.6,70.3 L266.6,70.3 L264.6,70.3 L262.6,70.3 L260.6,70.3 L258.6,70.3 L256.6,70.3 L254.6,70.4 L252.6,70.4 L250.6,70.5 L248.6,70.6 L246.6,70.7 L244.6,70.8 L242.6,70.8 L240.6,70.9 L238.6,70.9 L236.6,71.0 L234.6,71.1 L232.6,71.1 L230.6,71.2 L228.6,71.2 L226.6,71.3 L224.6,71.3 L222.6,71.4 L220.6,71.4 L218.6,71.4 L216.6,71.5 L214.6,71.5 L212.6,71.5 L210.6,71.4 L208.6,71.2 L206.6,71.0 L204.6,70.6 L202.6,70.1 L200.6,69.6 L198.6,69.1 L196.6,68.7 L194.6,68.2 L192.6,67.8 L190.6,67.3 L188.6,66.9 L186.6,66.5 L184.6,66.1 L182.6,65.7 L180.6,65.3 L178.6,65.0 L176.6,64.7 L174.6,64.4 L172.6,64.1 L170.6,63.8 L168.6,63.5 L166.6,63.3 L164.6,63.0 L162.6,62.7 L160.6,62.5 L158.6,62.2 L156.6,61.9 Z" fill="#707078" fill-opacity="0.022"/><path d="M156.6,57.8 L181.3,66.0 L197.2,66.2 L216.4,72.2 L241.6,70.8 L264.6,66.0 L284.9,70.9 L284.9,77.8 L264.6,72.8 L241.6,77.7 L216.4,79.1 L197.2,73.0 L181.3,72.9 L156.6,64.7 Z" fill="#707078" fill-opacity="0.028"/><path d="M156.6,61.3 L181.3,69.4 L197.2,69.6 L216.4,75.7 L241.6,74.2 L264.6,69.4 L284.9,74.4" fill="none" stroke="#606068" stroke-opacity="0.28" stroke-width="0.5"/><path d="M156.6,58.5 L181.3,61.8 L197.2,66.8 L216.4,66.2 L241.6,69.5 L264.6,68.1 L284.9,69.9 L284.9,74.5 L264.6,72.7 L241.6,74.1 L216.4,70.8 L197.2,71.4 L181.3,66.4 L156.6,63.1 Z" fill="#707078" fill-opacity="0.028"/><path d="M156.6,60.8 L181.3,64.1 L197.2,69.1 L216.4,68.5 L241.6,71.8 L264.6,70.4 L284.9,72.2" fill="none" stroke="#606068" stroke-opacity="0.28" stroke-width="0.5"/><path d="M156.6,54.0 L181.3,62.3 L197.2,67.2 L216.4,69.0 L241.6,64.7 L264.6,69.0 L284.9,66.6 L284.9,71.9 L264.6,74.2 L241.6,69.9 L216.4,74.3 L197.2,72.5 L181.3,67.6 L156.6,59.2 Z" fill="#707078" fill-opacity="0.028"/><path d="M156.6,56.6 L181.3,65.0 L197.2,69.9 L216.4,71.7 L241.6,67.3 L264.6,71.6 L284.9,69.2" fill="none" stroke="#606068" stroke-opacity="0.28" stroke-width="0.5"/><path d="M156.6,55.5 L181.3,56.4 L197.2,62.8 L216.4,65.4 L241.6,63.6 L264.6,64.6 L284.9,67.4 L284.9,70.7 L264.6,68.0 L241.6,67.0 L216.4,68.7 L197.2,66.2 L181.3,59.7 L156.6,58.8 Z" fill="#707078" fill-opacity="0.028"/><path d="M156.6,57.1 L181.3,58.1 L197.2,64.5 L216.4,67.1 L241.6,65.3 L264.6,66.3 L284.9,69.1" fill="none" stroke="#606068" stroke-opacity="0.28" stroke-width="0.5"/><path d="M156.6,35.1 L181.3,45.2 L197.2,50.5 L216.4,56.8 L241.6,55.7 L264.6,55.2 L284.9,57.6 L284.9,62.7 L264.6,60.3 L241.6,60.8 L216.4,62.0 L197.2,55.6 L181.3,50.4 L156.6,40.2 Z" fill="#707078" fill-opacity="0.028"/><path d="M156.6,37.6 L181.3,47.8 L197.2,53.0 L216.4,59.4 L241.6,58.3 L264.6,57.8 L284.9,60.1" fill="none" stroke="#606068" stroke-opacity="0.28" stroke-width="0.5"/><path d="M156.6,43.7 L181.3,43.9 L197.2,57.0 L216.4,58.2 L241.6,57.7 L264.6,56.2 L284.9,56.7 L284.9,62.7 L264.6,62.2 L241.6,63.7 L216.4,64.2 L197.2,63.0 L181.3,49.9 L156.6,49.7 Z" fill="#707078" fill-opacity="0.028"/><path d="M156.6,46.7 L181.3,46.9 L197.2,60.0 L216.4,61.2 L241.6,60.7 L264.6,59.2 L284.9,59.7" fill="none" stroke="#606068" stroke-opacity="0.14" stroke-width="0.5"/><path d="M156.6,64.4 L181.3,65.8 L197.2,69.4 L216.4,74.3 L241.6,69.1 L264.6,70.8 L284.9,70.3 L284.9,74.6 L264.6,75.1 L241.6,73.4 L216.4,78.6 L197.2,73.7 L181.3,70.1 L156.6,68.7 Z" fill="#707078" fill-opacity="0.028"/><path d="M156.6,66.5 L181.3,67.9 L197.2,71.5 L216.4,76.5 L241.6,71.3 L264.6,73.0 L284.9,72.4" fill="none" stroke="#606068" stroke-opacity="0.14" stroke-width="0.5"/><path d="M156.6,64.1 L181.3,65.8 L197.2,69.7 L216.4,71.4 L241.6,71.1 L264.6,67.9 L284.9,68.3 L284.9,72.3 L264.6,71.9 L241.6,75.1 L216.4,75.4 L197.2,73.8 L181.3,69.8 L156.6,68.2 Z" fill="#707078" fill-opacity="0.028"/><path d="M156.6,66.2 L181.3,67.8 L197.2,71.8 L216.4,73.4 L241.6,73.1 L264.6,69.9 L284.9,70.3" fill="none" stroke="#606068" stroke-opacity="0.14" stroke-width="0.5"/><path d="M156.6,58.9 L181.3,59.4 L197.2,61.1 L216.4,68.3 L241.6,64.7 L264.6,66.6 L284.9,68.8 L284.9,76.4 L264.6,74.1 L241.6,72.3 L216.4,75.9 L197.2,68.7 L181.3,66.9 L156.6,66.5 Z" fill="#707078" fill-opacity="0.028"/><path d="M156.6,62.7 L181.3,63.2 L197.2,64.9 L216.4,72.1 L241.6,68.5 L264.6,70.4 L284.9,72.6" fill="none" stroke="#606068" stroke-opacity="0.14" stroke-width="0.5"/><path d="M156.6,61.0 L181.3,63.1 L197.2,67.6 L216.4,69.3 L241.6,68.4 L264.6,68.0 L284.9,67.8 L284.9,72.5 L264.6,72.7 L241.6,73.2 L216.4,74.0 L197.2,72.4 L181.3,67.8 L156.6,65.8 Z" fill="#707078" fill-opacity="0.028"/><path d="M156.6,63.4 L181.3,65.4 L197.2,70.0 L216.4,71.6 L241.6,70.8 L264.6,70.4 L284.9,70.1" fill="none" stroke="#606068" stroke-opacity="0.14" stroke-width="0.5"/><path d="M156.6,65.5 L181.3,68.9 L197.2,70.3 L216.4,73.5 L241.6,70.5 L264.6,71.7 L284.9,70.9 L284.9,79.8 L264.6,80.6 L241.6,79.4 L216.4,82.3 L197.2,79.1 L181.3,77.8 L156.6,74.4 Z" fill="#707078" fill-opacity="0.028"/><path d="M156.6,70.0 L181.3,73.3 L197.2,74.7 L216.4,77.9 L241.6,74.9 L264.6,76.2 L284.9,75.3" fill="none" stroke="#606068" stroke-opacity="0.14" stroke-width="0.5"/><path d="M156.6,70.0 L181.3,72.7 L197.2,75.1 L216.4,76.3 L241.6,74.9 L264.6,76.7 L284.9,73.5 L284.9,76.5 L264.6,79.7 L241.6,77.9 L216.4,79.3 L197.2,78.1 L181.3,75.7 L156.6,73.0 Z" fill="#707078" fill-opacity="0.028"/><path d="M156.6,71.5 L181.3,74.2 L197.2,76.6 L216.4,77.8 L241.6,76.4 L264.6,78.2 L284.9,75.0" fill="none" stroke="#606068" stroke-opacity="0.14" stroke-width="0.5"/><path d="M156.6,46.8 L181.3,46.3 L197.2,60.0 L216.4,59.1 L241.6,59.7 L264.6,58.2 L284.9,60.4 L284.9,64.4 L264.6,62.3 L241.6,63.7 L216.4,63.2 L197.2,64.0 L181.3,50.4 L156.6,50.9 Z" fill="#707078" fill-opacity="0.028"/><path d="M156.6,48.8 L181.3,48.3 L197.2,62.0 L216.4,61.1 L241.6,61.7 L264.6,60.3 L284.9,62.4" fill="none" stroke="#606068" stroke-opacity="0.14" stroke-width="0.5"/><path d="M156.6,33.0 L181.3,43.9 L197.2,49.8 L216.4,55.7 L241.6,55.4 L264.6,56.6 L284.9,56.8 L284.9,63.3 L264.6,63.1 L241.6,61.9 L216.4,62.2 L197.2,56.3 L181.3,50.4 L156.6,39.4 Z" fill="#707078" fill-opacity="0.028"/><path d="M156.6,36.2 L181.3,47.2 L197.2,53.0 L216.4,58.9 L241.6,58.6 L264.6,59.9 L284.9,60.1" fill="none" stroke="#606068" stroke-opacity="0.14" stroke-width="0.5"/><path d="M156.6,60.4 L181.3,62.2 L197.2,63.8 L216.4,66.9 L241.6,67.4 L264.6,67.3 L284.9,68.2 L284.9,72.5 L264.6,71.6 L241.6,71.8 L216.4,71.2 L197.2,68.2 L181.3,66.6 L156.6,64.8 Z" fill="#707078" fill-opacity="0.028"/><path d="M156.6,62.6 L181.3,64.4 L197.2,66.0 L216.4,69.0 L241.6,69.6 L264.6,69.4 L284.9,70.4" fill="none" stroke="#606068" stroke-opacity="0.14" stroke-width="0.5"/><path d="M156.6,62.1 L181.3,67.5 L197.2,67.5 L216.4,70.2 L241.6,70.1 L264.6,73.0 L284.9,71.4 L284.9,77.0 L264.6,78.6 L241.6,75.7 L216.4,75.8 L197.2,73.1 L181.3,73.1 L156.6,67.7 Z" fill="#707078" fill-opacity="0.028"/><path d="M156.6,64.9 L181.3,70.3 L197.2,70.3 L216.4,73.0 L241.6,72.9 L264.6,75.8 L284.9,74.2" fill="none" stroke="#606068" stroke-opacity="0.14" stroke-width="0.5"/><path d="M156.6,61.4 L181.3,66.0 L197.2,71.1 L216.4,72.3 L241.6,74.7 L264.6,74.1 L284.9,72.6 L284.9,80.1 L264.6,81.6 L241.6,82.1 L216.4,79.8 L197.2,78.6 L181.3,73.5 L156.6,68.8 Z" fill="#707078" fill-opacity="0.028"/><path d="M156.6,65.1 L181.3,69.8 L197.2,74.9 L216.4,76.1 L241.6,78.4 L264.6,77.8 L284.9,76.4" fill="none" stroke="#606068" stroke-opacity="0.14" stroke-width="0.5"/><path d="M156.6,58.6 L181.3,56.9 L197.2,60.0 L216.4,64.5 L241.6,63.0 L264.6,62.3 L284.9,66.5 L284.9,71.3 L264.6,67.0 L241.6,67.8 L216.4,69.2 L197.2,64.8 L181.3,61.6 L156.6,63.3 Z" fill="#707078" fill-opacity="0.028"/><path d="M156.6,60.9 L181.3,59.2 L197.2,62.4 L216.4,66.9 L241.6,65.4 L264.6,64.7 L284.9,68.9" fill="none" stroke="#606068" stroke-opacity="0.14" stroke-width="0.5"/><path d="M156.6,50.2 L181.3,60.3 L197.2,60.1 L216.4,64.0 L241.6,65.0 L264.6,63.9 L284.9,62.9 L284.9,70.6 L264.6,71.6 L241.6,72.7 L216.4,71.7 L197.2,67.8 L181.3,68.0 L156.6,57.9 Z" fill="#707078" fill-opacity="0.028"/><path d="M156.6,54.0 L181.3,64.1 L197.2,64.0 L216.4,67.8 L241.6,68.8 L264.6,67.7 L284.9,66.7" fill="none" stroke="#606068" stroke-opacity="0.14" stroke-width="0.5"/><path d="M156.6,57.0 L181.3,64.2 L197.2,66.7 L216.4,66.1 L241.6,66.0 L264.6,68.5 L284.9,69.1 L284.9,75.8 L264.6,75.1 L241.6,72.7 L216.4,72.8 L197.2,73.3 L181.3,70.9 L156.6,63.6 Z" fill="#707078" fill-opacity="0.028"/><path d="M156.6,60.3 L181.3,67.6 L197.2,70.0 L216.4,69.4 L241.6,69.4 L264.6,71.8 L284.9,72.5" fill="none" stroke="#606068" stroke-opacity="0.14" stroke-width="0.5"/><path d="M156.6,40.2 L181.3,44.4 L197.2,54.6 L216.4,58.7 L241.6,59.3 L264.6,60.0 L284.9,60.0 L284.9,65.9 L264.6,66.0 L241.6,65.2 L216.4,64.6 L197.2,60.5 L181.3,50.4 L156.6,46.1 Z" fill="#707078" fill-opacity="0.028"/><path d="M156.6,43.2 L181.3,47.4 L197.2,57.6 L216.4,61.6 L241.6,62.2 L264.6,63.0 L284.9,62.9" fill="none" stroke="#606068" stroke-opacity="0.14" stroke-width="0.5"/><path d="M156.6,52.0 L181.3,60.9 L197.2,65.4 L216.4,64.6 L241.6,66.3 L264.6,64.9 L284.9,67.3 L284.9,75.2 L264.6,72.8 L241.6,74.3 L216.4,72.6 L197.2,73.4 L181.3,68.9 L156.6,59.9 Z" fill="#707078" fill-opacity="0.028"/><path d="M156.6,55.9 L181.3,64.9 L197.2,69.4 L216.4,68.6 L241.6,70.3 L264.6,68.8 L284.9,71.2" fill="none" stroke="#606068" stroke-opacity="0.14" stroke-width="0.5"/><path d="M156.6,59.5 L181.3,60.2 L197.2,65.3 L216.4,69.2 L241.6,65.2 L264.6,67.3 L284.9,68.1 L284.9,76.9 L264.6,76.1 L241.6,73.9 L216.4,77.9 L197.2,74.1 L181.3,69.0 L156.6,68.3 Z" fill="#707078" fill-opacity="0.028"/><path d="M156.6,63.9 L181.3,64.6 L197.2,69.7 L216.4,73.6 L241.6,69.5 L264.6,71.7 L284.9,72.5" fill="none" stroke="#606068" stroke-opacity="0.14" stroke-width="0.5"/><path d="M156.6,42.0 L181.3,52.6 L197.2,55.0 L216.4,60.4 L241.6,58.8 L264.6,60.5 L284.9,58.8 L284.9,66.6 L264.6,68.3 L241.6,66.5 L216.4,68.2 L197.2,62.8 L181.3,60.3 L156.6,49.7 Z" fill="#707078" fill-opacity="0.028"/><path d="M156.6,45.9 L181.3,56.4 L197.2,58.9 L216.4,64.3 L241.6,62.6 L264.6,64.4 L284.9,62.7" fill="none" stroke="#606068" stroke-opacity="0.14" stroke-width="0.5"/><path d="M156.6,56.1 L181.3,58.7 L197.2,61.3 L216.4,64.9 L241.6,64.9 L264.6,67.8 L284.9,65.9 L284.9,73.0 L264.6,74.9 L241.6,72.0 L216.4,72.0 L197.2,68.4 L181.3,65.8 L156.6,63.2 Z" fill="#707078" fill-opacity="0.028"/><path d="M156.6,59.7 L181.3,62.2 L197.2,64.8 L216.4,68.4 L241.6,68.5 L264.6,71.4 L284.9,69.4" fill="none" stroke="#606068" stroke-opacity="0.14" stroke-width="0.5"/><path d="M156.6,64.7 L181.3,65.9 L197.2,69.3 L216.4,71.6 L241.6,75.8 L264.6,72.4 L284.9,71.3 L284.9,78.2 L264.6,79.3 L241.6,82.7 L216.4,78.5 L197.2,76.2 L181.3,72.8 L156.6,71.6 Z" fill="#707078" fill-opacity="0.028"/><path d="M156.6,68.1 L181.3,69.4 L197.2,72.7 L216.4,75.1 L241.6,79.2 L264.6,75.9 L284.9,74.8" fill="none" stroke="#606068" stroke-opacity="0.14" stroke-width="0.5"/><path d="M156.6,60.8 L181.3,58.8 L197.2,63.0 L216.4,66.9 L241.6,67.9 L264.6,64.8 L284.9,65.6 L284.9,72.9 L264.6,72.1 L241.6,75.3 L216.4,74.3 L197.2,70.3 L181.3,66.2 L156.6,68.2 Z" fill="#707078" fill-opacity="0.028"/><path d="M156.6,64.5 L181.3,62.5 L197.2,66.7 L216.4,70.6 L241.6,71.6 L264.6,68.5 L284.9,69.3" fill="none" stroke="#606068" stroke-opacity="0.14" stroke-width="0.5"/><path d="M156.6,57.2 L181.3,61.1 L197.2,64.1 L216.4,67.2 L241.6,65.6 L264.6,67.1 L284.9,64.7 L284.9,69.8 L264.6,72.1 L241.6,70.7 L216.4,72.2 L197.2,69.2 L181.3,66.1 L156.6,62.3 Z" fill="#707078" fill-opacity="0.028"/><path d="M156.6,59.7 L181.3,63.6 L197.2,66.7 L216.4,69.7 L241.6,68.1 L264.6,69.6 L284.9,67.2" fill="none" stroke="#606068" stroke-opacity="0.14" stroke-width="0.5"/><path d="M156.6,65.0 L181.3,67.7 L197.2,71.1 L216.4,71.6 L241.6,74.8 L264.6,73.7 L284.9,73.6 L284.9,77.7 L264.6,77.8 L241.6,78.9 L216.4,75.6 L197.2,75.1 L181.3,71.8 L156.6,69.0 Z" fill="#707078" fill-opacity="0.028"/><path d="M156.6,67.0 L181.3,69.7 L197.2,73.1 L216.4,73.6 L241.6,76.9 L264.6,75.7 L284.9,75.6" fill="none" stroke="#606068" stroke-opacity="0.14" stroke-width="0.5"/><path d="M156.6,51.1 L181.3,56.1 L197.2,57.6 L216.4,60.5 L241.6,59.6 L264.6,60.4 L284.9,62.0 L284.9,70.2 L264.6,68.7 L241.6,67.8 L216.4,68.8 L197.2,65.9 L181.3,64.4 L156.6,59.4 Z" fill="#707078" fill-opacity="0.028"/><path d="M156.6,55.3 L181.3,60.2 L197.2,61.8 L216.4,64.7 L241.6,63.7 L264.6,64.5 L284.9,66.1" fill="none" stroke="#606068" stroke-opacity="0.14" stroke-width="0.5"/><path d="M156.6,49.2 L181.3,53.5 L197.2,57.2 L216.4,61.0 L241.6,60.8 L264.6,64.1 L284.9,63.7 L284.9,69.2 L264.6,69.5 L241.6,66.2 L216.4,66.4 L197.2,62.6 L181.3,58.9 L156.6,54.6 Z" fill="#707078" fill-opacity="0.028"/><path d="M156.6,51.9 L181.3,56.2 L197.2,59.9 L216.4,63.7 L241.6,63.5 L264.6,66.8 L284.9,66.4" fill="none" stroke="#606068" stroke-opacity="0.14" stroke-width="0.5"/><path d="M156.6,60.7 L181.3,68.1 L197.2,66.9 L216.4,71.2 L241.6,70.5 L264.6,71.1 L284.9,68.7 L284.9,75.2 L264.6,77.6 L241.6,76.9 L216.4,77.6 L197.2,73.4 L181.3,74.5 L156.6,67.1 Z" fill="#707078" fill-opacity="0.028"/><path d="M156.6,63.9 L181.3,71.3 L197.2,70.2 L216.4,74.4 L241.6,73.7 L264.6,74.3 L284.9,71.9" fill="none" stroke="#606068" stroke-opacity="0.14" stroke-width="0.5"/><path d="M156.6,34.3 L181.3,44.0 L197.2,51.5 L216.4,59.1 L241.6,59.3 L264.6,56.7 L284.9,58.3 L284.9,63.1 L264.6,61.5 L241.6,64.1 L216.4,64.0 L197.2,56.4 L181.3,48.8 L156.6,39.1 Z" fill="#707078" fill-opacity="0.028"/><path d="M156.6,36.7 L181.3,46.4 L197.2,53.9 L216.4,61.6 L241.6,61.7 L264.6,59.1 L284.9,60.7" fill="none" stroke="#606068" stroke-opacity="0.14" stroke-width="0.5"/><path d="M156.6,52.4 L181.3,60.1 L197.2,59.6 L216.4,65.0 L241.6,62.2 L264.6,63.8 L284.9,62.3 L284.9,67.0 L264.6,68.5 L241.6,66.9 L216.4,69.8 L197.2,64.4 L181.3,64.8 L156.6,57.1 Z" fill="#707078" fill-opacity="0.028"/><path d="M156.6,54.8 L181.3,62.5 L197.2,62.0 L216.4,67.4 L241.6,64.5 L264.6,66.1 L284.9,64.7" fill="none" stroke="#606068" stroke-opacity="0.14" stroke-width="0.5"/><path d="M156.6,40.0 L181.3,43.0 L195.0,46.0 L209.0,63.0 L216.6,66.0" fill="none" stroke="#606068" stroke-opacity="0.38" stroke-width="0.5"/><path d="M156.6,58.8 L158.6,59.1 L160.6,59.4 L162.6,59.6 L164.6,59.9 L166.6,60.2 L168.6,60.4 L170.6,60.7 L172.6,61.0 L174.6,61.3 L176.6,61.6 L178.6,61.9 L180.6,62.2 L182.6,62.6 L184.6,63.0 L186.6,63.3 L188.6,63.8 L190.6,64.2 L192.6,64.6 L194.6,65.1 L196.6,65.5 L198.6,65.9 L200.6,66.4 L202.6,66.9 L204.6,67.4 L206.6,67.8 L208.6,68.1 L210.6,68.3 L212.6,68.4 L214.6,68.4 L216.6,68.4 L218.6,68.4 L220.6,68.3 L222.6,68.3 L224.6,68.3 L226.6,68.2 L228.6,68.1 L230.6,68.1 L232.6,68.0 L234.6,68.0 L236.6,67.9 L238.6,67.8 L240.6,67.8 L242.6,67.7 L244.6,67.6 L246.6,67.6 L248.6,67.5 L250.6,67.4 L252.6,67.3 L254.6,67.2 L256.6,67.2 L258.6,67.1 L260.6,67.1 L262.6,67.1 L264.6,67.1 L266.6,67.2 L268.6,67.2 L270.6,67.3 L272.6,67.4 L274.6,67.5 L276.6,67.5 L278.6,67.6 L280.6,67.7 L282.6,67.8 L284.6,67.9 L284.9,67.9 L284.9,71.3 L284.6,71.3 L282.6,71.2 L280.6,71.1 L278.6,71.0 L276.6,70.9 L274.6,70.9 L272.6,70.8 L270.6,70.7 L268.6,70.6 L266.6,70.6 L264.6,70.5 L262.6,70.5 L260.6,70.5 L258.6,70.5 L256.6,70.6 L254.6,70.6 L252.6,70.7 L250.6,70.8 L248.6,70.9 L246.6,71.0 L244.6,71.0 L242.6,71.1 L240.6,71.2 L238.6,71.2 L236.6,71.3 L234.6,71.4 L232.6,71.4 L230.6,71.5 L228.6,71.5 L226.6,71.6 L224.6,71.7 L222.6,71.7 L220.6,71.7 L218.6,71.8 L216.6,71.8 L214.6,71.8 L212.6,71.8 L210.6,71.7 L208.6,71.5 L206.6,71.2 L204.6,70.8 L202.6,70.3 L200.6,69.8 L198.6,69.3 L196.6,68.9 L194.6,68.5 L192.6,68.0 L190.6,67.6 L188.6,67.2 L186.6,66.7 L184.6,66.4 L182.6,66.0 L180.6,65.6 L178.6,65.3 L176.6,65.0 L174.6,64.7 L172.6,64.4 L170.6,64.1 L168.6,63.8 L166.6,63.6 L164.6,63.3 L162.6,63.0 L160.6,62.8 L158.6,62.5 L156.6,62.2 Z" fill="#e07ab3" fill-opacity="0.85"/><path d="M156.6,60.5 L158.6,60.8 L160.6,61.1 L162.6,61.3 L164.6,61.6 L166.6,61.9 L168.6,62.1 L170.6,62.4 L172.6,62.7 L174.6,63.0 L176.6,63.3 L178.6,63.6 L180.6,63.9 L182.6,64.3 L184.6,64.7 L186.6,65.0 L188.6,65.5 L190.6,65.9 L192.6,66.3 L194.6,66.8 L196.6,67.2 L198.6,67.6 L200.6,68.1 L202.6,68.6 L204.6,69.1 L206.6,69.5 L208.6,69.8 L210.6,70.0 L212.6,70.1 L214.6,70.1 L216.6,70.1 L218.6,70.1 L220.6,70.0 L222.6,70.0 L224.6,70.0 L226.6,69.9 L228.6,69.8 L230.6,69.8 L232.6,69.7 L234.6,69.7 L236.6,69.6 L238.6,69.5 L240.6,69.5 L242.6,69.4 L244.6,69.3 L246.6,69.3 L248.6,69.2 L250.6,69.1 L252.6,69.0 L254.6,68.9 L256.6,68.9 L258.6,68.8 L260.6,68.8 L262.6,68.8 L264.6,68.8 L266.6,68.9 L268.6,68.9 L270.6,69.0 L272.6,69.1 L274.6,69.2 L276.6,69.2 L278.6,69.3 L280.6,69.4 L282.6,69.5 L284.6,69.6 L284.9,69.6" fill="none" stroke="#bb2d76" stroke-width="1.2"/><line x1="156.6" y1="70.6" x2="284.9" y2="70.6" stroke="#333" stroke-width="0.7" stroke-dasharray="1.7,2.05"/><text transform="translate(189.25,106.10) scale(1,1.15)" font-size="4.4" text-anchor="middle" fill="#3a3a3a" stroke="#3a3a3a" stroke-width="0.08" font-family="Liberation Sans, sans-serif">USCC</text><text transform="translate(207.35,106.10) scale(1,1.15)" font-size="4.4" text-anchor="middle" fill="#3a3a3a" stroke="#3a3a3a" stroke-width="0.08" font-family="Liberation Sans, sans-serif">UCC1</text><text transform="translate(274.75,106.10) scale(1,1.15)" font-size="4.4" text-anchor="middle" fill="#3a3a3a" stroke="#3a3a3a" stroke-width="0.08" font-family="Liberation Sans, sans-serif">UCC2</text></g><rect x="156.6" y="8.6" width="128.3" height="99.6" fill="none" stroke="#c4c4c4" stroke-width="0.6"/><g clip-path="url(#cp02)"><rect x="321.60" y="8.6" width="15.90" height="99.6" fill="#f0f0fd"/><rect x="338.60" y="8.6" width="18.10" height="99.6" fill="#f0f0fd"/><rect x="404.90" y="8.6" width="20.30" height="99.6" fill="#f0f0fd"/><path d="M296.9,38.1 L298.9,38.8 L300.9,39.5 L302.9,40.2 L304.9,40.9 L306.9,41.6 L308.9,42.3 L310.9,43.1 L312.9,43.8 L314.9,44.5 L316.9,45.2 L318.9,45.9 L320.9,46.6 L322.9,47.4 L324.9,48.1 L326.9,48.8 L328.9,49.6 L330.9,50.3 L332.9,51.0 L334.9,51.8 L336.9,52.5 L338.9,53.3 L340.9,54.2 L342.9,55.2 L344.9,56.3 L346.9,57.5 L348.9,58.6 L350.9,59.8 L352.9,61.0 L354.9,62.2 L356.9,62.4 L358.9,62.5 L360.9,62.5 L362.9,62.6 L364.9,62.7 L366.9,62.8 L368.9,62.9 L370.9,63.0 L372.9,63.1 L374.9,63.2 L376.9,63.3 L378.9,63.4 L380.9,63.3 L382.9,63.0 L384.9,62.6 L386.9,62.3 L388.9,62.0 L390.9,61.7 L392.9,61.4 L394.9,61.1 L396.9,60.8 L398.9,60.4 L400.9,60.1 L402.9,59.8 L404.9,59.5 L406.9,59.9 L408.9,60.4 L410.9,60.9 L412.9,61.4 L414.9,61.8 L416.9,62.3 L418.9,62.8 L420.9,63.3 L422.9,63.7 L424.9,64.2 L425.2,64.3 L425.2,71.8 L424.9,71.8 L422.9,71.8 L420.9,71.8 L418.9,71.8 L416.9,71.7 L414.9,71.7 L412.9,71.7 L410.9,71.7 L408.9,71.6 L406.9,71.6 L404.9,71.6 L402.9,71.5 L400.9,71.5 L398.9,71.5 L396.9,71.5 L394.9,71.4 L392.9,71.4 L390.9,71.4 L388.9,71.3 L386.9,71.3 L384.9,71.3 L382.9,71.2 L380.9,71.2 L378.9,71.2 L376.9,71.2 L374.9,71.1 L372.9,71.1 L370.9,71.1 L368.9,71.0 L366.9,71.0 L364.9,71.0 L362.9,70.9 L360.9,70.9 L358.9,70.9 L356.9,70.9 L354.9,70.8 L352.9,70.8 L350.9,70.8 L348.9,70.8 L346.9,70.7 L344.9,70.7 L342.9,70.7 L340.9,70.7 L338.9,70.7 L336.9,70.7 L334.9,70.7 L332.9,70.7 L330.9,70.7 L328.9,70.7 L326.9,70.7 L324.9,70.6 L322.9,70.6 L320.9,70.6 L318.9,70.6 L316.9,70.6 L314.9,70.6 L312.9,70.6 L310.9,70.6 L308.9,70.6 L306.9,70.6 L304.9,70.6 L302.9,70.6 L300.9,70.6 L298.9,70.6 L296.9,70.6 Z" fill="#707078" fill-opacity="0.025"/><path d="M296.9,43.2 L298.9,43.9 L300.9,44.5 L302.9,45.2 L304.9,45.8 L306.9,46.5 L308.9,47.2 L310.9,47.8 L312.9,48.5 L314.9,49.2 L316.9,49.8 L318.9,50.5 L320.9,51.1 L322.9,51.8 L324.9,52.5 L326.9,53.1 L328.9,53.8 L330.9,54.4 L332.9,55.1 L334.9,55.7 L336.9,56.4 L338.9,57.0 L340.9,57.8 L342.9,58.7 L344.9,59.6 L346.9,60.5 L348.9,61.4 L350.9,62.3 L352.9,63.2 L354.9,64.2 L356.9,64.3 L358.9,64.3 L360.9,64.4 L362.9,64.4 L364.9,64.5 L366.9,64.5 L368.9,64.6 L370.9,64.6 L372.9,64.7 L374.9,64.8 L376.9,64.8 L378.9,64.9 L380.9,64.8 L382.9,64.5 L384.9,64.3 L386.9,64.0 L388.9,63.8 L390.9,63.5 L392.9,63.3 L394.9,63.1 L396.9,62.8 L398.9,62.6 L400.9,62.3 L402.9,62.1 L404.9,61.8 L406.9,62.1 L408.9,62.5 L410.9,62.9 L412.9,63.2 L414.9,63.6 L416.9,64.0 L418.9,64.3 L420.9,64.7 L422.9,65.1 L424.9,65.4 L425.2,65.5 L425.2,71.7 L424.9,71.7 L422.9,71.7 L420.9,71.6 L418.9,71.6 L416.9,71.6 L414.9,71.6 L412.9,71.5 L410.9,71.5 L408.9,71.5 L406.9,71.5 L404.9,71.4 L402.9,71.4 L400.9,71.4 L398.9,71.4 L396.9,71.3 L394.9,71.3 L392.9,71.3 L390.9,71.2 L388.9,71.2 L386.9,71.2 L384.9,71.2 L382.9,71.1 L380.9,71.1 L378.9,71.1 L376.9,71.1 L374.9,71.0 L372.9,71.0 L370.9,71.0 L368.9,71.0 L366.9,70.9 L364.9,70.9 L362.9,70.9 L360.9,70.8 L358.9,70.8 L356.9,70.8 L354.9,70.8 L352.9,70.7 L350.9,70.7 L348.9,70.7 L346.9,70.7 L344.9,70.6 L342.9,70.6 L340.9,70.6 L338.9,70.6 L336.9,70.5 L334.9,70.5 L332.9,70.5 L330.9,70.5 L328.9,70.4 L326.9,70.4 L324.9,70.4 L322.9,70.3 L320.9,70.3 L318.9,70.3 L316.9,70.3 L314.9,70.2 L312.9,70.2 L310.9,70.2 L308.9,70.2 L306.9,70.1 L304.9,70.1 L302.9,70.1 L300.9,70.1 L298.9,70.0 L296.9,70.0 Z" fill="#707078" fill-opacity="0.022"/><path d="M296.9,44.7 L298.9,45.3 L300.9,46.0 L302.9,46.6 L304.9,47.3 L306.9,47.9 L308.9,48.5 L310.9,49.2 L312.9,49.8 L314.9,50.5 L316.9,51.1 L318.9,51.8 L320.9,52.4 L322.9,53.1 L324.9,53.7 L326.9,54.3 L328.9,55.0 L330.9,55.6 L332.9,56.2 L334.9,56.9 L336.9,57.5 L338.9,58.1 L340.9,58.8 L342.9,59.7 L344.9,60.6 L346.9,61.4 L348.9,62.2 L350.9,63.1 L352.9,63.9 L354.9,64.7 L356.9,64.8 L358.9,64.8 L360.9,64.9 L362.9,64.9 L364.9,65.0 L366.9,65.0 L368.9,65.1 L370.9,65.1 L372.9,65.2 L374.9,65.2 L376.9,65.3 L378.9,65.3 L380.9,65.2 L382.9,65.0 L384.9,64.8 L386.9,64.5 L388.9,64.3 L390.9,64.1 L392.9,63.8 L394.9,63.6 L396.9,63.4 L398.9,63.2 L400.9,62.9 L402.9,62.7 L404.9,62.5 L406.9,62.8 L408.9,63.1 L410.9,63.4 L412.9,63.8 L414.9,64.1 L416.9,64.5 L418.9,64.8 L420.9,65.1 L422.9,65.5 L424.9,65.8 L425.2,65.8 L425.2,71.4 L424.9,71.4 L422.9,71.4 L420.9,71.4 L418.9,71.3 L416.9,71.3 L414.9,71.3 L412.9,71.2 L410.9,71.2 L408.9,71.2 L406.9,71.2 L404.9,71.1 L402.9,71.1 L400.9,71.1 L398.9,71.1 L396.9,71.1 L394.9,71.0 L392.9,71.0 L390.9,71.0 L388.9,71.0 L386.9,71.0 L384.9,70.9 L382.9,70.9 L380.9,70.9 L378.9,70.9 L376.9,70.9 L374.9,70.9 L372.9,70.8 L370.9,70.8 L368.9,70.8 L366.9,70.8 L364.9,70.8 L362.9,70.7 L360.9,70.7 L358.9,70.7 L356.9,70.7 L354.9,70.7 L352.9,70.6 L350.9,70.6 L348.9,70.6 L346.9,70.5 L344.9,70.5 L342.9,70.4 L340.9,70.3 L338.9,70.3 L336.9,70.2 L334.9,70.2 L332.9,70.1 L330.9,70.0 L328.9,70.0 L326.9,69.9 L324.9,69.8 L322.9,69.8 L320.9,69.7 L318.9,69.6 L316.9,69.5 L314.9,69.5 L312.9,69.4 L310.9,69.3 L308.9,69.2 L306.9,69.2 L304.9,69.1 L302.9,69.0 L300.9,68.9 L298.9,68.9 L296.9,68.8 Z" fill="#707078" fill-opacity="0.022"/><path d="M296.9,46.1 L298.9,46.8 L300.9,47.4 L302.9,48.0 L304.9,48.7 L306.9,49.3 L308.9,49.9 L310.9,50.6 L312.9,51.2 L314.9,51.8 L316.9,52.5 L318.9,53.1 L320.9,53.7 L322.9,54.3 L324.9,54.9 L326.9,55.6 L328.9,56.2 L330.9,56.8 L332.9,57.4 L334.9,58.0 L336.9,58.6 L338.9,59.2 L340.9,59.9 L342.9,60.7 L344.9,61.5 L346.9,62.3 L348.9,63.0 L350.9,63.8 L352.9,64.5 L354.9,65.2 L356.9,65.3 L358.9,65.4 L360.9,65.4 L362.9,65.4 L364.9,65.5 L366.9,65.5 L368.9,65.6 L370.9,65.6 L372.9,65.6 L374.9,65.7 L376.9,65.7 L378.9,65.7 L380.9,65.7 L382.9,65.4 L384.9,65.2 L386.9,65.0 L388.9,64.8 L390.9,64.6 L392.9,64.4 L394.9,64.2 L396.9,64.0 L398.9,63.8 L400.9,63.6 L402.9,63.4 L404.9,63.1 L406.9,63.4 L408.9,63.7 L410.9,64.0 L412.9,64.3 L414.9,64.6 L416.9,64.9 L418.9,65.2 L420.9,65.5 L422.9,65.9 L424.9,66.2 L425.2,66.2 L425.2,71.2 L424.9,71.2 L422.9,71.1 L420.9,71.1 L418.9,71.1 L416.9,71.0 L414.9,71.0 L412.9,71.0 L410.9,70.9 L408.9,70.9 L406.9,70.9 L404.9,70.8 L402.9,70.8 L400.9,70.8 L398.9,70.8 L396.9,70.8 L394.9,70.8 L392.9,70.8 L390.9,70.8 L388.9,70.8 L386.9,70.7 L384.9,70.7 L382.9,70.7 L380.9,70.7 L378.9,70.7 L376.9,70.7 L374.9,70.7 L372.9,70.7 L370.9,70.7 L368.9,70.6 L366.9,70.6 L364.9,70.6 L362.9,70.6 L360.9,70.6 L358.9,70.6 L356.9,70.6 L354.9,70.5 L352.9,70.5 L350.9,70.5 L348.9,70.4 L346.9,70.4 L344.9,70.3 L342.9,70.2 L340.9,70.1 L338.9,70.0 L336.9,69.9 L334.9,69.8 L332.9,69.7 L330.9,69.6 L328.9,69.5 L326.9,69.4 L324.9,69.3 L322.9,69.2 L320.9,69.0 L318.9,68.9 L316.9,68.8 L314.9,68.7 L312.9,68.6 L310.9,68.4 L308.9,68.3 L306.9,68.2 L304.9,68.1 L302.9,67.9 L300.9,67.8 L298.9,67.7 L296.9,67.6 Z" fill="#707078" fill-opacity="0.022"/><path d="M296.9,47.6 L298.9,48.2 L300.9,48.8 L302.9,49.4 L304.9,50.1 L306.9,50.7 L308.9,51.3 L310.9,51.9 L312.9,52.5 L314.9,53.2 L316.9,53.8 L318.9,54.4 L320.9,55.0 L322.9,55.6 L324.9,56.2 L326.9,56.8 L328.9,57.4 L330.9,57.9 L332.9,58.5 L334.9,59.1 L336.9,59.7 L338.9,60.3 L340.9,60.9 L342.9,61.7 L344.9,62.4 L346.9,63.2 L348.9,63.8 L350.9,64.5 L352.9,65.2 L354.9,65.8 L356.9,65.9 L358.9,65.9 L360.9,65.9 L362.9,66.0 L364.9,66.0 L366.9,66.0 L368.9,66.0 L370.9,66.1 L372.9,66.1 L374.9,66.1 L376.9,66.1 L378.9,66.2 L380.9,66.1 L382.9,65.9 L384.9,65.7 L386.9,65.5 L388.9,65.3 L390.9,65.1 L392.9,64.9 L394.9,64.7 L396.9,64.6 L398.9,64.4 L400.9,64.2 L402.9,64.0 L404.9,63.8 L406.9,64.1 L408.9,64.3 L410.9,64.6 L412.9,64.9 L414.9,65.1 L416.9,65.4 L418.9,65.7 L420.9,66.0 L422.9,66.2 L424.9,66.5 L425.2,66.5 L425.2,70.9 L424.9,70.9 L422.9,70.8 L420.9,70.8 L418.9,70.8 L416.9,70.7 L414.9,70.7 L412.9,70.7 L410.9,70.6 L408.9,70.6 L406.9,70.6 L404.9,70.6 L402.9,70.5 L400.9,70.5 L398.9,70.5 L396.9,70.5 L394.9,70.5 L392.9,70.5 L390.9,70.5 L388.9,70.5 L386.9,70.5 L384.9,70.5 L382.9,70.5 L380.9,70.5 L378.9,70.5 L376.9,70.5 L374.9,70.5 L372.9,70.5 L370.9,70.5 L368.9,70.5 L366.9,70.5 L364.9,70.5 L362.9,70.5 L360.9,70.5 L358.9,70.4 L356.9,70.4 L354.9,70.4 L352.9,70.4 L350.9,70.4 L348.9,70.3 L346.9,70.3 L344.9,70.1 L342.9,70.0 L340.9,69.9 L338.9,69.7 L336.9,69.6 L334.9,69.4 L332.9,69.3 L330.9,69.2 L328.9,69.0 L326.9,68.9 L324.9,68.7 L322.9,68.6 L320.9,68.4 L318.9,68.3 L316.9,68.1 L314.9,67.9 L312.9,67.7 L310.9,67.6 L308.9,67.4 L306.9,67.2 L304.9,67.0 L302.9,66.9 L300.9,66.7 L298.9,66.5 L296.9,66.3 Z" fill="#707078" fill-opacity="0.022"/><path d="M296.9,49.0 L298.9,49.6 L300.9,50.2 L302.9,50.9 L304.9,51.5 L306.9,52.1 L308.9,52.7 L310.9,53.3 L312.9,53.9 L314.9,54.5 L316.9,55.1 L318.9,55.7 L320.9,56.3 L322.9,56.9 L324.9,57.4 L326.9,58.0 L328.9,58.6 L330.9,59.1 L332.9,59.7 L334.9,60.2 L336.9,60.8 L338.9,61.3 L340.9,62.0 L342.9,62.7 L344.9,63.4 L346.9,64.0 L348.9,64.6 L350.9,65.2 L352.9,65.8 L354.9,66.3 L356.9,66.4 L358.9,66.4 L360.9,66.4 L362.9,66.5 L364.9,66.5 L366.9,66.5 L368.9,66.5 L370.9,66.5 L372.9,66.5 L374.9,66.6 L376.9,66.6 L378.9,66.6 L380.9,66.5 L382.9,66.3 L384.9,66.2 L386.9,66.0 L388.9,65.8 L390.9,65.7 L392.9,65.5 L394.9,65.3 L396.9,65.1 L398.9,65.0 L400.9,64.8 L402.9,64.6 L404.9,64.5 L406.9,64.7 L408.9,64.9 L410.9,65.2 L412.9,65.4 L414.9,65.6 L416.9,65.9 L418.9,66.1 L420.9,66.4 L422.9,66.6 L424.9,66.9 L425.2,66.9 L425.2,70.6 L424.9,70.6 L422.9,70.6 L420.9,70.5 L418.9,70.5 L416.9,70.5 L414.9,70.4 L412.9,70.4 L410.9,70.3 L408.9,70.3 L406.9,70.3 L404.9,70.3 L402.9,70.2 L400.9,70.2 L398.9,70.2 L396.9,70.2 L394.9,70.3 L392.9,70.3 L390.9,70.3 L388.9,70.3 L386.9,70.3 L384.9,70.3 L382.9,70.3 L380.9,70.3 L378.9,70.3 L376.9,70.3 L374.9,70.3 L372.9,70.3 L370.9,70.3 L368.9,70.3 L366.9,70.3 L364.9,70.3 L362.9,70.3 L360.9,70.3 L358.9,70.3 L356.9,70.3 L354.9,70.3 L352.9,70.3 L350.9,70.3 L348.9,70.2 L346.9,70.1 L344.9,70.0 L342.9,69.8 L340.9,69.6 L338.9,69.4 L336.9,69.3 L334.9,69.1 L332.9,68.9 L330.9,68.7 L328.9,68.6 L326.9,68.4 L324.9,68.2 L322.9,68.0 L320.9,67.8 L318.9,67.6 L316.9,67.4 L314.9,67.1 L312.9,66.9 L310.9,66.7 L308.9,66.5 L306.9,66.2 L304.9,66.0 L302.9,65.8 L300.9,65.6 L298.9,65.3 L296.9,65.1 Z" fill="#707078" fill-opacity="0.022"/><path d="M296.9,50.5 L298.9,51.1 L300.9,51.7 L302.9,52.3 L304.9,52.9 L306.9,53.5 L308.9,54.1 L310.9,54.6 L312.9,55.2 L314.9,55.8 L316.9,56.4 L318.9,57.0 L320.9,57.6 L322.9,58.1 L324.9,58.7 L326.9,59.2 L328.9,59.8 L330.9,60.3 L332.9,60.8 L334.9,61.4 L336.9,61.9 L338.9,62.4 L340.9,63.0 L342.9,63.7 L344.9,64.3 L346.9,64.9 L348.9,65.4 L350.9,66.0 L352.9,66.4 L354.9,66.9 L356.9,66.9 L358.9,66.9 L360.9,67.0 L362.9,67.0 L364.9,67.0 L366.9,67.0 L368.9,67.0 L370.9,67.0 L372.9,67.0 L374.9,67.0 L376.9,67.0 L378.9,67.0 L380.9,66.9 L382.9,66.8 L384.9,66.6 L386.9,66.5 L388.9,66.3 L390.9,66.2 L392.9,66.0 L394.9,65.9 L396.9,65.7 L398.9,65.6 L400.9,65.4 L402.9,65.3 L404.9,65.2 L406.9,65.3 L408.9,65.5 L410.9,65.7 L412.9,65.9 L414.9,66.1 L416.9,66.4 L418.9,66.6 L420.9,66.8 L422.9,67.0 L424.9,67.2 L425.2,67.2 L425.2,70.3 L424.9,70.3 L422.9,70.3 L420.9,70.3 L418.9,70.2 L416.9,70.2 L414.9,70.1 L412.9,70.1 L410.9,70.0 L408.9,70.0 L406.9,70.0 L404.9,70.0 L402.9,70.0 L400.9,70.0 L398.9,70.0 L396.9,70.0 L394.9,70.0 L392.9,70.0 L390.9,70.0 L388.9,70.1 L386.9,70.1 L384.9,70.1 L382.9,70.1 L380.9,70.1 L378.9,70.1 L376.9,70.1 L374.9,70.1 L372.9,70.2 L370.9,70.2 L368.9,70.2 L366.9,70.2 L364.9,70.2 L362.9,70.2 L360.9,70.2 L358.9,70.2 L356.9,70.2 L354.9,70.2 L352.9,70.2 L350.9,70.1 L348.9,70.1 L346.9,70.0 L344.9,69.8 L342.9,69.6 L340.9,69.4 L338.9,69.2 L336.9,69.0 L334.9,68.7 L332.9,68.5 L330.9,68.3 L328.9,68.1 L326.9,67.9 L324.9,67.6 L322.9,67.4 L320.9,67.1 L318.9,66.9 L316.9,66.6 L314.9,66.4 L312.9,66.1 L310.9,65.8 L308.9,65.6 L306.9,65.3 L304.9,65.0 L302.9,64.7 L300.9,64.4 L298.9,64.2 L296.9,63.9 Z" fill="#707078" fill-opacity="0.022"/><path d="M296.9,52.0 L298.9,52.5 L300.9,53.1 L302.9,53.7 L304.9,54.3 L306.9,54.9 L308.9,55.4 L310.9,56.0 L312.9,56.6 L314.9,57.2 L316.9,57.7 L318.9,58.3 L320.9,58.8 L322.9,59.4 L324.9,59.9 L326.9,60.4 L328.9,61.0 L330.9,61.5 L332.9,62.0 L334.9,62.5 L336.9,63.0 L338.9,63.5 L340.9,64.1 L342.9,64.7 L344.9,65.3 L346.9,65.8 L348.9,66.3 L350.9,66.7 L352.9,67.1 L354.9,67.4 L356.9,67.5 L358.9,67.5 L360.9,67.5 L362.9,67.5 L364.9,67.5 L366.9,67.5 L368.9,67.5 L370.9,67.5 L372.9,67.5 L374.9,67.5 L376.9,67.4 L378.9,67.4 L380.9,67.4 L382.9,67.2 L384.9,67.1 L386.9,67.0 L388.9,66.9 L390.9,66.7 L392.9,66.6 L394.9,66.4 L396.9,66.3 L398.9,66.2 L400.9,66.0 L402.9,65.9 L404.9,65.8 L406.9,66.0 L408.9,66.1 L410.9,66.3 L412.9,66.5 L414.9,66.7 L416.9,66.8 L418.9,67.0 L420.9,67.2 L422.9,67.4 L424.9,67.6 L425.2,67.6 L425.2,70.1 L424.9,70.1 L422.9,70.0 L420.9,70.0 L418.9,69.9 L416.9,69.9 L414.9,69.8 L412.9,69.8 L410.9,69.7 L408.9,69.7 L406.9,69.7 L404.9,69.7 L402.9,69.7 L400.9,69.7 L398.9,69.7 L396.9,69.7 L394.9,69.7 L392.9,69.8 L390.9,69.8 L388.9,69.8 L386.9,69.8 L384.9,69.9 L382.9,69.9 L380.9,69.9 L378.9,69.9 L376.9,69.9 L374.9,70.0 L372.9,70.0 L370.9,70.0 L368.9,70.0 L366.9,70.0 L364.9,70.1 L362.9,70.1 L360.9,70.1 L358.9,70.1 L356.9,70.1 L354.9,70.1 L352.9,70.1 L350.9,70.0 L348.9,70.0 L346.9,69.8 L344.9,69.7 L342.9,69.4 L340.9,69.2 L338.9,68.9 L336.9,68.6 L334.9,68.4 L332.9,68.1 L330.9,67.9 L328.9,67.6 L326.9,67.4 L324.9,67.1 L322.9,66.8 L320.9,66.5 L318.9,66.2 L316.9,65.9 L314.9,65.6 L312.9,65.3 L310.9,65.0 L308.9,64.6 L306.9,64.3 L304.9,64.0 L302.9,63.7 L300.9,63.3 L298.9,63.0 L296.9,62.7 Z" fill="#707078" fill-opacity="0.022"/><path d="M296.9,53.4 L298.9,54.0 L300.9,54.5 L302.9,55.1 L304.9,55.7 L306.9,56.2 L308.9,56.8 L310.9,57.4 L312.9,57.9 L314.9,58.5 L316.9,59.0 L318.9,59.6 L320.9,60.1 L322.9,60.6 L324.9,61.2 L326.9,61.7 L328.9,62.2 L330.9,62.6 L332.9,63.1 L334.9,63.6 L336.9,64.1 L338.9,64.6 L340.9,65.1 L342.9,65.7 L344.9,66.2 L346.9,66.7 L348.9,67.1 L350.9,67.4 L352.9,67.7 L354.9,68.0 L356.9,68.0 L358.9,68.0 L360.9,68.0 L362.9,68.0 L364.9,68.0 L366.9,68.0 L368.9,68.0 L370.9,67.9 L372.9,67.9 L374.9,67.9 L376.9,67.9 L378.9,67.9 L380.9,67.8 L382.9,67.7 L384.9,67.6 L386.9,67.5 L388.9,67.4 L390.9,67.2 L392.9,67.1 L394.9,67.0 L396.9,66.9 L398.9,66.8 L400.9,66.7 L402.9,66.6 L404.9,66.5 L406.9,66.6 L408.9,66.7 L410.9,66.9 L412.9,67.0 L414.9,67.2 L416.9,67.3 L418.9,67.5 L420.9,67.6 L422.9,67.8 L424.9,67.9 L425.2,68.0 L425.2,69.8 L424.9,69.8 L422.9,69.8 L420.9,69.7 L418.9,69.7 L416.9,69.6 L414.9,69.5 L412.9,69.5 L410.9,69.5 L408.9,69.4 L406.9,69.4 L404.9,69.4 L402.9,69.4 L400.9,69.4 L398.9,69.4 L396.9,69.4 L394.9,69.5 L392.9,69.5 L390.9,69.6 L388.9,69.6 L386.9,69.6 L384.9,69.7 L382.9,69.7 L380.9,69.7 L378.9,69.7 L376.9,69.8 L374.9,69.8 L372.9,69.8 L370.9,69.8 L368.9,69.9 L366.9,69.9 L364.9,69.9 L362.9,69.9 L360.9,69.9 L358.9,70.0 L356.9,70.0 L354.9,70.0 L352.9,69.9 L350.9,69.9 L348.9,69.8 L346.9,69.7 L344.9,69.5 L342.9,69.2 L340.9,68.9 L338.9,68.6 L336.9,68.3 L334.9,68.0 L332.9,67.7 L330.9,67.4 L328.9,67.2 L326.9,66.8 L324.9,66.5 L322.9,66.2 L320.9,65.9 L318.9,65.5 L316.9,65.2 L314.9,64.8 L312.9,64.5 L310.9,64.1 L308.9,63.7 L306.9,63.3 L304.9,63.0 L302.9,62.6 L300.9,62.2 L298.9,61.8 L296.9,61.5 Z" fill="#707078" fill-opacity="0.022"/><path d="M296.9,54.9 L298.9,55.4 L300.9,56.0 L302.9,56.5 L304.9,57.1 L306.9,57.6 L308.9,58.2 L310.9,58.7 L312.9,59.3 L314.9,59.8 L316.9,60.4 L318.9,60.9 L320.9,61.4 L322.9,61.9 L324.9,62.4 L326.9,62.9 L328.9,63.4 L330.9,63.8 L332.9,64.3 L334.9,64.7 L336.9,65.2 L338.9,65.6 L340.9,66.1 L342.9,66.7 L344.9,67.1 L346.9,67.5 L348.9,67.9 L350.9,68.1 L352.9,68.3 L354.9,68.5 L356.9,68.5 L358.9,68.5 L360.9,68.5 L362.9,68.5 L364.9,68.5 L366.9,68.5 L368.9,68.4 L370.9,68.4 L372.9,68.4 L374.9,68.4 L376.9,68.3 L378.9,68.3 L380.9,68.2 L382.9,68.1 L384.9,68.1 L386.9,68.0 L388.9,67.9 L390.9,67.8 L392.9,67.7 L394.9,67.6 L396.9,67.5 L398.9,67.4 L400.9,67.3 L402.9,67.2 L404.9,67.2 L406.9,67.2 L408.9,67.3 L410.9,67.4 L412.9,67.5 L414.9,67.7 L416.9,67.8 L418.9,67.9 L420.9,68.0 L422.9,68.2 L424.9,68.3 L425.2,68.3 L425.2,69.5 L424.9,69.5 L422.9,69.5 L420.9,69.4 L418.9,69.4 L416.9,69.3 L414.9,69.3 L412.9,69.2 L410.9,69.2 L408.9,69.1 L406.9,69.1 L404.9,69.1 L402.9,69.1 L400.9,69.1 L398.9,69.1 L396.9,69.2 L394.9,69.2 L392.9,69.3 L390.9,69.3 L388.9,69.4 L386.9,69.4 L384.9,69.4 L382.9,69.5 L380.9,69.5 L378.9,69.5 L376.9,69.6 L374.9,69.6 L372.9,69.6 L370.9,69.7 L368.9,69.7 L366.9,69.7 L364.9,69.8 L362.9,69.8 L360.9,69.8 L358.9,69.8 L356.9,69.8 L354.9,69.8 L352.9,69.8 L350.9,69.8 L348.9,69.7 L346.9,69.6 L344.9,69.3 L342.9,69.0 L340.9,68.7 L338.9,68.3 L336.9,68.0 L334.9,67.7 L332.9,67.4 L330.9,67.0 L328.9,66.7 L326.9,66.3 L324.9,66.0 L322.9,65.6 L320.9,65.2 L318.9,64.9 L316.9,64.5 L314.9,64.0 L312.9,63.6 L310.9,63.2 L308.9,62.8 L306.9,62.4 L304.9,61.9 L302.9,61.5 L300.9,61.1 L298.9,60.7 L296.9,60.2 Z" fill="#707078" fill-opacity="0.022"/><path d="M296.9,56.3 L298.9,56.9 L300.9,57.4 L302.9,57.9 L304.9,58.5 L306.9,59.0 L308.9,59.6 L310.9,60.1 L312.9,60.6 L314.9,61.2 L316.9,61.7 L318.9,62.2 L320.9,62.7 L322.9,63.2 L324.9,63.6 L326.9,64.1 L328.9,64.6 L330.9,65.0 L332.9,65.4 L334.9,65.8 L336.9,66.3 L338.9,66.7 L340.9,67.2 L342.9,67.6 L344.9,68.1 L346.9,68.4 L348.9,68.7 L350.9,68.8 L352.9,69.0 L354.9,69.1 L356.9,69.1 L358.9,69.1 L360.9,69.0 L362.9,69.0 L364.9,69.0 L366.9,69.0 L368.9,68.9 L370.9,68.9 L372.9,68.8 L374.9,68.8 L376.9,68.8 L378.9,68.7 L380.9,68.7 L382.9,68.6 L384.9,68.5 L386.9,68.5 L388.9,68.4 L390.9,68.3 L392.9,68.2 L394.9,68.1 L396.9,68.1 L398.9,68.0 L400.9,67.9 L402.9,67.9 L404.9,67.8 L406.9,67.9 L408.9,67.9 L410.9,68.0 L412.9,68.1 L414.9,68.2 L416.9,68.3 L418.9,68.4 L420.9,68.5 L422.9,68.6 L424.9,68.6 L425.2,68.7 L425.2,69.3 L424.9,69.3 L422.9,69.2 L420.9,69.2 L418.9,69.1 L416.9,69.0 L414.9,69.0 L412.9,68.9 L410.9,68.9 L408.9,68.8 L406.9,68.8 L404.9,68.8 L402.9,68.8 L400.9,68.8 L398.9,68.9 L396.9,68.9 L394.9,69.0 L392.9,69.0 L390.9,69.1 L388.9,69.1 L386.9,69.2 L384.9,69.2 L382.9,69.3 L380.9,69.3 L378.9,69.3 L376.9,69.4 L374.9,69.4 L372.9,69.5 L370.9,69.5 L368.9,69.6 L366.9,69.6 L364.9,69.6 L362.9,69.7 L360.9,69.7 L358.9,69.7 L356.9,69.7 L354.9,69.7 L352.9,69.7 L350.9,69.7 L348.9,69.6 L346.9,69.4 L344.9,69.2 L342.9,68.8 L340.9,68.5 L338.9,68.1 L336.9,67.7 L334.9,67.3 L332.9,67.0 L330.9,66.6 L328.9,66.2 L326.9,65.8 L324.9,65.4 L322.9,65.0 L320.9,64.6 L318.9,64.2 L316.9,63.7 L314.9,63.3 L312.9,62.8 L310.9,62.3 L308.9,61.9 L306.9,61.4 L304.9,60.9 L302.9,60.4 L300.9,60.0 L298.9,59.5 L296.9,59.0 Z" fill="#707078" fill-opacity="0.022"/><path d="M296.9,55.3 L321.6,61.9 L337.5,62.7 L356.7,66.7 L381.9,65.9 L404.9,64.3 L425.2,66.3 L425.2,72.6 L404.9,70.6 L381.9,72.2 L356.7,73.0 L337.5,69.1 L321.6,68.2 L296.9,61.6 Z" fill="#707078" fill-opacity="0.028"/><path d="M296.9,58.4 L321.6,65.0 L337.5,65.9 L356.7,69.8 L381.9,69.1 L404.9,67.4 L425.2,69.5" fill="none" stroke="#606068" stroke-opacity="0.28" stroke-width="0.5"/><path d="M296.9,56.7 L321.6,61.4 L337.5,63.4 L356.7,67.2 L381.9,66.3 L404.9,66.7 L425.2,67.1 L425.2,70.8 L404.9,70.4 L381.9,70.0 L356.7,70.9 L337.5,67.1 L321.6,65.0 L296.9,60.4 Z" fill="#707078" fill-opacity="0.028"/><path d="M296.9,58.5 L321.6,63.2 L337.5,65.3 L356.7,69.0 L381.9,68.1 L404.9,68.5 L425.2,68.9" fill="none" stroke="#606068" stroke-opacity="0.28" stroke-width="0.5"/><path d="M296.9,51.6 L321.6,60.0 L337.5,62.6 L356.7,66.1 L381.9,65.0 L404.9,65.4 L425.2,65.7 L425.2,72.7 L404.9,72.4 L381.9,72.1 L356.7,73.2 L337.5,69.7 L321.6,67.0 L296.9,58.6 Z" fill="#707078" fill-opacity="0.028"/><path d="M296.9,55.1 L321.6,63.5 L337.5,66.1 L356.7,69.6 L381.9,68.6 L404.9,68.9 L425.2,69.2" fill="none" stroke="#606068" stroke-opacity="0.28" stroke-width="0.5"/><path d="M296.9,49.7 L321.6,58.3 L337.5,61.1 L356.7,64.5 L381.9,64.0 L404.9,61.5 L425.2,64.2 L425.2,72.5 L404.9,69.8 L381.9,72.3 L356.7,72.8 L337.5,69.4 L321.6,66.6 L296.9,58.0 Z" fill="#707078" fill-opacity="0.028"/><path d="M296.9,53.9 L321.6,62.4 L337.5,65.2 L356.7,68.6 L381.9,68.1 L404.9,65.7 L425.2,68.4" fill="none" stroke="#606068" stroke-opacity="0.28" stroke-width="0.5"/><path d="M296.9,47.6 L321.6,53.2 L337.5,57.1 L356.7,63.8 L381.9,63.0 L404.9,59.8 L425.2,64.0 L425.2,70.6 L404.9,66.3 L381.9,69.6 L356.7,70.4 L337.5,63.7 L321.6,59.7 L296.9,54.2 Z" fill="#707078" fill-opacity="0.028"/><path d="M296.9,50.9 L321.6,56.4 L337.5,60.4 L356.7,67.1 L381.9,66.3 L404.9,63.1 L425.2,67.3" fill="none" stroke="#606068" stroke-opacity="0.28" stroke-width="0.5"/><path d="M296.9,61.2 L321.6,64.2 L337.5,67.5 L356.7,68.6 L381.9,68.6 L404.9,68.0 L425.2,69.0 L425.2,72.5 L404.9,71.5 L381.9,72.1 L356.7,72.1 L337.5,71.0 L321.6,67.7 L296.9,64.7 Z" fill="#707078" fill-opacity="0.028"/><path d="M296.9,62.9 L321.6,66.0 L337.5,69.2 L356.7,70.4 L381.9,70.3 L404.9,69.8 L425.2,70.7" fill="none" stroke="#606068" stroke-opacity="0.14" stroke-width="0.5"/><path d="M296.9,51.9 L321.6,60.9 L337.5,64.3 L356.7,65.9 L381.9,66.1 L404.9,64.9 L425.2,66.0 L425.2,72.7 L404.9,71.5 L381.9,72.7 L356.7,72.6 L337.5,70.9 L321.6,67.6 L296.9,58.5 Z" fill="#707078" fill-opacity="0.028"/><path d="M296.9,55.2 L321.6,64.3 L337.5,67.6 L356.7,69.2 L381.9,69.4 L404.9,68.2 L425.2,69.3" fill="none" stroke="#606068" stroke-opacity="0.14" stroke-width="0.5"/><path d="M296.9,45.8 L321.6,50.9 L337.5,55.6 L356.7,63.8 L381.9,63.8 L404.9,60.3 L425.2,63.8 L425.2,67.5 L404.9,64.0 L381.9,67.5 L356.7,67.5 L337.5,59.4 L321.6,54.6 L296.9,49.5 Z" fill="#707078" fill-opacity="0.028"/><path d="M296.9,47.7 L321.6,52.7 L337.5,57.5 L356.7,65.7 L381.9,65.6 L404.9,62.1 L425.2,65.7" fill="none" stroke="#606068" stroke-opacity="0.14" stroke-width="0.5"/><path d="M296.9,47.5 L321.6,58.3 L337.5,60.3 L356.7,65.4 L381.9,64.3 L404.9,62.5 L425.2,64.1 L425.2,71.8 L404.9,70.1 L381.9,72.0 L356.7,73.0 L337.5,68.0 L321.6,66.0 L296.9,55.2 Z" fill="#707078" fill-opacity="0.028"/><path d="M296.9,51.3 L321.6,62.1 L337.5,64.1 L356.7,69.2 L381.9,68.2 L404.9,66.3 L425.2,68.0" fill="none" stroke="#606068" stroke-opacity="0.14" stroke-width="0.5"/><path d="M296.9,63.5 L321.6,65.0 L337.5,67.5 L356.7,68.7 L381.9,68.7 L404.9,67.9 L425.2,68.8 L425.2,71.9 L404.9,71.0 L381.9,71.8 L356.7,71.8 L337.5,70.6 L321.6,68.1 L296.9,66.6 Z" fill="#707078" fill-opacity="0.028"/><path d="M296.9,65.0 L321.6,66.5 L337.5,69.0 L356.7,70.3 L381.9,70.2 L404.9,69.5 L425.2,70.4" fill="none" stroke="#606068" stroke-opacity="0.14" stroke-width="0.5"/><path d="M296.9,50.4 L321.6,56.9 L337.5,62.0 L356.7,65.5 L381.9,65.6 L404.9,64.8 L425.2,65.4 L425.2,69.0 L404.9,68.4 L381.9,69.2 L356.7,69.1 L337.5,65.6 L321.6,60.5 L296.9,54.0 Z" fill="#707078" fill-opacity="0.028"/><path d="M296.9,52.2 L321.6,58.7 L337.5,63.8 L356.7,67.3 L381.9,67.4 L404.9,66.6 L425.2,67.2" fill="none" stroke="#606068" stroke-opacity="0.14" stroke-width="0.5"/><path d="M296.9,51.7 L321.6,54.6 L337.5,58.8 L356.7,64.6 L381.9,64.1 L404.9,63.6 L425.2,64.4 L425.2,70.0 L404.9,69.1 L381.9,69.6 L356.7,70.1 L337.5,64.3 L321.6,60.1 L296.9,57.2 Z" fill="#707078" fill-opacity="0.028"/><path d="M296.9,54.4 L321.6,57.3 L337.5,61.6 L356.7,67.4 L381.9,66.9 L404.9,66.4 L425.2,67.2" fill="none" stroke="#606068" stroke-opacity="0.14" stroke-width="0.5"/><path d="M296.9,54.3 L321.6,61.8 L337.5,64.3 L356.7,65.7 L381.9,65.6 L404.9,65.0 L425.2,66.0 L425.2,74.0 L404.9,73.0 L381.9,73.7 L356.7,73.7 L337.5,72.4 L321.6,69.8 L296.9,62.4 Z" fill="#707078" fill-opacity="0.028"/><path d="M296.9,58.4 L321.6,65.8 L337.5,68.4 L356.7,69.7 L381.9,69.7 L404.9,69.0 L425.2,70.0" fill="none" stroke="#606068" stroke-opacity="0.14" stroke-width="0.5"/><path d="M296.9,60.6 L321.6,62.4 L337.5,66.8 L356.7,67.9 L381.9,67.4 L404.9,67.2 L425.2,68.3 L425.2,71.7 L404.9,70.6 L381.9,70.7 L356.7,71.3 L337.5,70.1 L321.6,65.8 L296.9,63.9 Z" fill="#707078" fill-opacity="0.028"/><path d="M296.9,62.3 L321.6,64.1 L337.5,68.5 L356.7,69.6 L381.9,69.0 L404.9,68.9 L425.2,70.0" fill="none" stroke="#606068" stroke-opacity="0.14" stroke-width="0.5"/><path d="M296.9,59.9 L321.6,63.8 L337.5,66.0 L356.7,68.2 L381.9,68.2 L404.9,67.5 L425.2,68.4 L425.2,71.9 L404.9,71.0 L381.9,71.7 L356.7,71.8 L337.5,69.5 L321.6,67.3 L296.9,63.4 Z" fill="#707078" fill-opacity="0.028"/><path d="M296.9,61.7 L321.6,65.5 L337.5,67.8 L356.7,70.0 L381.9,69.9 L404.9,69.2 L425.2,70.1" fill="none" stroke="#606068" stroke-opacity="0.14" stroke-width="0.5"/><path d="M296.9,53.9 L321.6,62.9 L337.5,65.1 L356.7,66.9 L381.9,66.4 L404.9,66.4 L425.2,66.3 L425.2,70.3 L404.9,70.5 L381.9,70.4 L356.7,70.9 L337.5,69.1 L321.6,66.9 L296.9,57.9 Z" fill="#707078" fill-opacity="0.028"/><path d="M296.9,55.9 L321.6,64.9 L337.5,67.1 L356.7,68.9 L381.9,68.4 L404.9,68.5 L425.2,68.3" fill="none" stroke="#606068" stroke-opacity="0.14" stroke-width="0.5"/><path d="M296.9,48.7 L321.6,55.2 L337.5,61.1 L356.7,65.6 L381.9,65.2 L404.9,63.2 L425.2,65.1 L425.2,71.9 L404.9,69.9 L381.9,72.0 L356.7,72.3 L337.5,67.8 L321.6,62.0 L296.9,55.5 Z" fill="#707078" fill-opacity="0.028"/><path d="M296.9,52.1 L321.6,58.6 L337.5,64.5 L356.7,69.0 L381.9,68.6 L404.9,66.5 L425.2,68.5" fill="none" stroke="#606068" stroke-opacity="0.14" stroke-width="0.5"/><path d="M296.9,61.0 L321.6,66.1 L337.5,67.7 L356.7,68.4 L381.9,68.2 L404.9,68.0 L425.2,68.6 L425.2,72.6 L404.9,72.0 L381.9,72.2 L356.7,72.4 L337.5,71.7 L321.6,70.2 L296.9,65.0 Z" fill="#707078" fill-opacity="0.028"/><path d="M296.9,63.0 L321.6,68.2 L337.5,69.7 L356.7,70.4 L381.9,70.2 L404.9,70.0 L425.2,70.6" fill="none" stroke="#606068" stroke-opacity="0.14" stroke-width="0.5"/><path d="M296.9,52.1 L321.6,60.8 L337.5,62.5 L356.7,66.8 L381.9,65.1 L404.9,64.4 L425.2,65.9 L425.2,72.0 L404.9,70.5 L381.9,71.3 L356.7,72.9 L337.5,68.6 L321.6,67.0 L296.9,58.2 Z" fill="#707078" fill-opacity="0.028"/><path d="M296.9,55.1 L321.6,63.9 L337.5,65.5 L356.7,69.8 L381.9,68.2 L404.9,67.4 L425.2,68.9" fill="none" stroke="#606068" stroke-opacity="0.14" stroke-width="0.5"/><path d="M296.9,53.1 L321.6,63.2 L337.5,64.7 L356.7,67.5 L381.9,67.4 L404.9,65.8 L425.2,66.8 L425.2,70.4 L404.9,69.5 L381.9,71.0 L356.7,71.1 L337.5,68.3 L321.6,66.8 L296.9,56.7 Z" fill="#707078" fill-opacity="0.028"/><path d="M296.9,54.9 L321.6,65.0 L337.5,66.5 L356.7,69.3 L381.9,69.2 L404.9,67.7 L425.2,68.6" fill="none" stroke="#606068" stroke-opacity="0.14" stroke-width="0.5"/><path d="M296.9,52.2 L321.6,58.8 L337.5,62.0 L356.7,67.0 L381.9,65.6 L404.9,65.0 L425.2,65.4 L425.2,69.8 L404.9,69.3 L381.9,70.0 L356.7,71.4 L337.5,66.3 L321.6,63.2 L296.9,56.6 Z" fill="#707078" fill-opacity="0.028"/><path d="M296.9,54.4 L321.6,61.0 L337.5,64.2 L356.7,69.2 L381.9,67.8 L404.9,67.2 L425.2,67.6" fill="none" stroke="#606068" stroke-opacity="0.14" stroke-width="0.5"/><path d="M296.9,46.3 L321.6,54.3 L337.5,57.6 L356.7,65.1 L381.9,63.9 L404.9,62.1 L425.2,64.2 L425.2,69.7 L404.9,67.5 L381.9,69.4 L356.7,70.6 L337.5,63.0 L321.6,59.7 L296.9,51.7 Z" fill="#707078" fill-opacity="0.028"/><path d="M296.9,49.0 L321.6,57.0 L337.5,60.3 L356.7,67.9 L381.9,66.7 L404.9,64.8 L425.2,67.0" fill="none" stroke="#606068" stroke-opacity="0.14" stroke-width="0.5"/><path d="M296.9,64.8 L321.6,65.9 L337.5,68.1 L356.7,68.9 L381.9,68.8 L404.9,68.6 L425.2,68.9 L425.2,72.1 L404.9,71.8 L381.9,72.0 L356.7,72.1 L337.5,71.2 L321.6,69.0 L296.9,67.9 Z" fill="#707078" fill-opacity="0.028"/><path d="M296.9,66.3 L321.6,67.4 L337.5,69.6 L356.7,70.5 L381.9,70.4 L404.9,70.2 L425.2,70.5" fill="none" stroke="#606068" stroke-opacity="0.14" stroke-width="0.5"/><path d="M296.9,48.9 L321.6,53.6 L337.5,61.3 L356.7,62.5 L381.9,63.1 L404.9,60.5 L425.2,62.9 L425.2,70.9 L404.9,68.5 L381.9,71.1 L356.7,70.5 L337.5,69.3 L321.6,61.6 L296.9,56.9 Z" fill="#707078" fill-opacity="0.028"/><path d="M296.9,52.9 L321.6,57.6 L337.5,65.3 L356.7,66.5 L381.9,67.1 L404.9,64.5 L425.2,66.9" fill="none" stroke="#606068" stroke-opacity="0.14" stroke-width="0.5"/><path d="M296.9,60.1 L321.6,63.5 L337.5,64.3 L356.7,66.0 L381.9,66.0 L404.9,66.1 L425.2,66.4 L425.2,75.0 L404.9,74.7 L381.9,74.6 L356.7,74.6 L337.5,72.9 L321.6,72.1 L296.9,68.8 Z" fill="#707078" fill-opacity="0.028"/><path d="M296.9,64.5 L321.6,67.8 L337.5,68.6 L356.7,70.3 L381.9,70.3 L404.9,70.4 L425.2,70.7" fill="none" stroke="#606068" stroke-opacity="0.14" stroke-width="0.5"/><path d="M296.9,42.8 L321.6,49.7 L337.5,55.3 L356.7,62.3 L381.9,63.0 L404.9,59.9 L425.2,63.9 L425.2,68.4 L404.9,64.4 L381.9,67.5 L356.7,66.9 L337.5,59.8 L321.6,54.3 L296.9,47.3 Z" fill="#707078" fill-opacity="0.028"/><path d="M296.9,45.0 L321.6,52.0 L337.5,57.5 L356.7,64.6 L381.9,65.2 L404.9,62.1 L425.2,66.1" fill="none" stroke="#606068" stroke-opacity="0.14" stroke-width="0.5"/><path d="M296.9,56.7 L321.6,61.9 L337.5,63.1 L356.7,67.5 L381.9,67.1 L404.9,65.3 L425.2,67.2 L425.2,71.7 L404.9,69.8 L381.9,71.6 L356.7,72.1 L337.5,67.6 L321.6,66.4 L296.9,61.3 Z" fill="#707078" fill-opacity="0.028"/><path d="M296.9,59.0 L321.6,64.2 L337.5,65.3 L356.7,69.8 L381.9,69.4 L404.9,67.5 L425.2,69.4" fill="none" stroke="#606068" stroke-opacity="0.14" stroke-width="0.5"/><path d="M296.9,44.9 L321.6,54.3 L337.5,59.2 L356.7,63.1 L381.9,63.0 L404.9,60.0 L425.2,62.4 L425.2,70.2 L404.9,67.7 L381.9,70.7 L356.7,70.8 L337.5,67.0 L321.6,62.0 L296.9,52.6 Z" fill="#707078" fill-opacity="0.028"/><path d="M296.9,48.7 L321.6,58.2 L337.5,63.1 L356.7,67.0 L381.9,66.9 L404.9,63.8 L425.2,66.3" fill="none" stroke="#606068" stroke-opacity="0.14" stroke-width="0.5"/><path d="M296.9,41.6 L321.6,49.8 L337.5,54.6 L356.7,61.5 L381.9,63.3 L404.9,60.9 L425.2,63.6 L425.2,70.2 L404.9,67.5 L381.9,70.0 L356.7,68.1 L337.5,61.2 L321.6,56.4 L296.9,48.2 Z" fill="#707078" fill-opacity="0.028"/><path d="M296.9,44.9 L321.6,53.1 L337.5,57.9 L356.7,64.8 L381.9,66.7 L404.9,64.2 L425.2,66.9" fill="none" stroke="#606068" stroke-opacity="0.14" stroke-width="0.5"/><path d="M296.9,55.2 L321.6,59.1 L337.5,64.4 L356.7,66.5 L381.9,66.0 L404.9,65.3 L425.2,65.6 L425.2,72.0 L404.9,71.7 L381.9,72.4 L356.7,72.9 L337.5,70.8 L321.6,65.5 L296.9,61.7 Z" fill="#707078" fill-opacity="0.028"/><path d="M296.9,58.4 L321.6,62.3 L337.5,67.6 L356.7,69.7 L381.9,69.2 L404.9,68.5 L425.2,68.8" fill="none" stroke="#606068" stroke-opacity="0.14" stroke-width="0.5"/><path d="M296.9,55.9 L321.6,60.9 L337.5,64.2 L356.7,66.3 L381.9,65.5 L404.9,65.4 L425.2,65.2 L425.2,72.2 L404.9,72.4 L381.9,72.5 L356.7,73.2 L337.5,71.2 L321.6,67.9 L296.9,62.9 Z" fill="#707078" fill-opacity="0.028"/><path d="M296.9,59.4 L321.6,64.4 L337.5,67.7 L356.7,69.8 L381.9,69.0 L404.9,68.9 L425.2,68.7" fill="none" stroke="#606068" stroke-opacity="0.14" stroke-width="0.5"/><path d="M296.9,60.1 L321.6,65.0 L337.5,66.7 L356.7,67.9 L381.9,67.6 L404.9,67.1 L425.2,67.7 L425.2,72.0 L404.9,71.4 L381.9,71.8 L356.7,72.2 L337.5,71.0 L321.6,69.2 L296.9,64.4 Z" fill="#707078" fill-opacity="0.028"/><path d="M296.9,62.2 L321.6,67.1 L337.5,68.8 L356.7,70.0 L381.9,69.7 L404.9,69.3 L425.2,69.9" fill="none" stroke="#606068" stroke-opacity="0.14" stroke-width="0.5"/><path d="M296.9,55.1 L321.6,62.0 L337.5,63.8 L356.7,66.4 L381.9,65.2 L404.9,65.5 L425.2,65.3 L425.2,71.4 L404.9,71.6 L381.9,71.3 L356.7,72.5 L337.5,69.9 L321.6,68.1 L296.9,61.1 Z" fill="#707078" fill-opacity="0.028"/><path d="M296.9,58.1 L321.6,65.1 L337.5,66.8 L356.7,69.4 L381.9,68.2 L404.9,68.6 L425.2,68.4" fill="none" stroke="#606068" stroke-opacity="0.14" stroke-width="0.5"/><path d="M296.9,60.9 L321.6,65.8 L337.5,67.0 L356.7,68.5 L381.9,68.6 L404.9,67.5 L425.2,68.9 L425.2,72.8 L404.9,71.4 L381.9,72.5 L356.7,72.4 L337.5,70.9 L321.6,69.7 L296.9,64.8 Z" fill="#707078" fill-opacity="0.028"/><path d="M296.9,62.9 L321.6,67.8 L337.5,69.0 L356.7,70.4 L381.9,70.5 L404.9,69.5 L425.2,70.8" fill="none" stroke="#606068" stroke-opacity="0.14" stroke-width="0.5"/><path d="M296.9,47.0 L321.6,53.0 L328.0,52.0 L337.5,58.0 L356.7,65.0" fill="none" stroke="#606068" stroke-opacity="0.38" stroke-width="0.5"/><path d="M356.7,66.0 L385.0,63.5 L405.0,60.5 L425.2,65.0" fill="none" stroke="#606068" stroke-opacity="0.38" stroke-width="0.5"/><path d="M296.9,56.1 L298.9,56.6 L300.9,57.1 L302.9,57.7 L304.9,58.2 L306.9,58.7 L308.9,59.2 L310.9,59.8 L312.9,60.3 L314.9,60.8 L316.9,61.3 L318.9,61.8 L320.9,62.3 L322.9,62.7 L324.9,63.2 L326.9,63.6 L328.9,64.0 L330.9,64.5 L332.9,64.9 L334.9,65.3 L336.9,65.7 L338.9,66.1 L340.9,66.5 L342.9,66.9 L344.9,67.3 L346.9,67.6 L348.9,67.8 L350.9,67.9 L352.9,67.9 L354.9,67.9 L356.9,67.9 L358.9,67.9 L360.9,67.9 L362.9,67.8 L364.9,67.8 L366.9,67.7 L368.9,67.7 L370.9,67.7 L372.9,67.6 L374.9,67.6 L376.9,67.5 L378.9,67.5 L380.9,67.4 L382.9,67.3 L384.9,67.3 L386.9,67.3 L388.9,67.2 L390.9,67.1 L392.9,67.1 L394.9,67.0 L396.9,66.9 L398.9,66.9 L400.9,66.8 L402.9,66.8 L404.9,66.8 L406.9,66.8 L408.9,66.8 L410.9,66.9 L412.9,66.9 L414.9,67.0 L416.9,67.0 L418.9,67.1 L420.9,67.2 L422.9,67.2 L424.9,67.3 L425.2,67.3 L425.2,70.7 L424.9,70.7 L422.9,70.6 L420.9,70.6 L418.9,70.5 L416.9,70.4 L414.9,70.4 L412.9,70.3 L410.9,70.3 L408.9,70.2 L406.9,70.2 L404.9,70.2 L402.9,70.2 L400.9,70.2 L398.9,70.3 L396.9,70.3 L394.9,70.4 L392.9,70.5 L390.9,70.5 L388.9,70.6 L386.9,70.7 L384.9,70.7 L382.9,70.7 L380.9,70.8 L378.9,70.9 L376.9,70.9 L374.9,71.0 L372.9,71.0 L370.9,71.1 L368.9,71.1 L366.9,71.1 L364.9,71.2 L362.9,71.2 L360.9,71.3 L358.9,71.3 L356.9,71.3 L354.9,71.3 L352.9,71.3 L350.9,71.3 L348.9,71.2 L346.9,71.0 L344.9,70.7 L342.9,70.3 L340.9,69.9 L338.9,69.5 L336.9,69.1 L334.9,68.7 L332.9,68.3 L330.9,67.9 L328.9,67.4 L326.9,67.0 L324.9,66.6 L322.9,66.1 L320.9,65.7 L318.9,65.2 L316.9,64.7 L314.9,64.2 L312.9,63.7 L310.9,63.2 L308.9,62.6 L306.9,62.1 L304.9,61.6 L302.9,61.1 L300.9,60.5 L298.9,60.0 L296.9,59.5 Z" fill="#e07ab3" fill-opacity="0.85"/><path d="M296.9,57.8 L298.9,58.3 L300.9,58.8 L302.9,59.4 L304.9,59.9 L306.9,60.4 L308.9,60.9 L310.9,61.5 L312.9,62.0 L314.9,62.5 L316.9,63.0 L318.9,63.5 L320.9,64.0 L322.9,64.4 L324.9,64.9 L326.9,65.3 L328.9,65.7 L330.9,66.2 L332.9,66.6 L334.9,67.0 L336.9,67.4 L338.9,67.8 L340.9,68.2 L342.9,68.6 L344.9,69.0 L346.9,69.3 L348.9,69.5 L350.9,69.6 L352.9,69.6 L354.9,69.6 L356.9,69.6 L358.9,69.6 L360.9,69.6 L362.9,69.5 L364.9,69.5 L366.9,69.4 L368.9,69.4 L370.9,69.4 L372.9,69.3 L374.9,69.3 L376.9,69.2 L378.9,69.2 L380.9,69.1 L382.9,69.0 L384.9,69.0 L386.9,69.0 L388.9,68.9 L390.9,68.8 L392.9,68.8 L394.9,68.7 L396.9,68.6 L398.9,68.6 L400.9,68.5 L402.9,68.5 L404.9,68.5 L406.9,68.5 L408.9,68.5 L410.9,68.6 L412.9,68.6 L414.9,68.7 L416.9,68.7 L418.9,68.8 L420.9,68.9 L422.9,68.9 L424.9,69.0 L425.2,69.0" fill="none" stroke="#bb2d76" stroke-width="1.2"/><line x1="296.9" y1="70.6" x2="425.2" y2="70.6" stroke="#333" stroke-width="0.7" stroke-dasharray="1.7,2.05"/><text transform="translate(329.55,106.10) scale(1,1.15)" font-size="4.4" text-anchor="middle" fill="#3a3a3a" stroke="#3a3a3a" stroke-width="0.08" font-family="Liberation Sans, sans-serif">USCC</text><text transform="translate(347.65,106.10) scale(1,1.15)" font-size="4.4" text-anchor="middle" fill="#3a3a3a" stroke="#3a3a3a" stroke-width="0.08" font-family="Liberation Sans, sans-serif">UCC1</text><text transform="translate(415.05,106.10) scale(1,1.15)" font-size="4.4" text-anchor="middle" fill="#3a3a3a" stroke="#3a3a3a" stroke-width="0.08" font-family="Liberation Sans, sans-serif">UCC2</text></g><rect x="296.9" y="8.6" width="128.3" height="99.6" fill="none" stroke="#c4c4c4" stroke-width="0.6"/><g clip-path="url(#cp10)"><rect x="41.10" y="120.3" width="15.90" height="99.6" fill="#f0f0fd"/><rect x="58.10" y="120.3" width="18.10" height="99.6" fill="#f0f0fd"/><rect x="124.40" y="120.3" width="20.30" height="99.6" fill="#f0f0fd"/><path d="M16.4,122.4 L18.4,123.3 L20.4,124.2 L22.4,125.0 L24.4,125.9 L26.4,126.7 L28.4,127.6 L30.4,128.5 L32.4,129.3 L34.4,130.2 L36.4,131.0 L38.4,131.9 L40.4,132.8 L42.4,133.8 L44.4,135.4 L46.4,136.9 L48.4,138.5 L50.4,140.1 L52.4,141.7 L54.4,143.3 L56.4,144.9 L58.4,145.5 L60.4,145.8 L62.4,146.1 L64.4,146.4 L66.4,146.8 L68.4,147.1 L70.4,147.4 L72.4,147.8 L74.4,148.2 L76.4,148.5 L78.4,148.3 L80.4,148.1 L82.4,147.9 L84.4,147.8 L86.4,147.7 L88.4,147.6 L90.4,147.5 L92.4,147.4 L94.4,147.4 L96.4,147.3 L98.4,147.3 L100.4,147.1 L102.4,146.2 L104.4,145.4 L106.4,144.5 L108.4,143.7 L110.4,142.8 L112.4,141.8 L114.4,140.8 L116.4,139.8 L118.4,138.7 L120.4,137.6 L122.4,136.5 L124.4,135.3 L126.4,133.8 L128.4,132.3 L130.4,130.7 L132.4,129.1 L134.4,127.5 L136.4,125.9 L138.4,124.4 L140.4,122.9 L142.4,121.4 L144.4,119.9 L144.7,119.6 L144.7,199.3 L144.4,199.2 L142.4,198.6 L140.4,197.9 L138.4,197.3 L136.4,196.6 L134.4,195.9 L132.4,195.3 L130.4,194.6 L128.4,194.0 L126.4,193.3 L124.4,193.1 L122.4,193.1 L120.4,193.0 L118.4,192.9 L116.4,192.8 L114.4,192.7 L112.4,192.6 L110.4,192.5 L108.4,192.4 L106.4,192.2 L104.4,192.1 L102.4,192.0 L100.4,191.9 L98.4,191.8 L96.4,191.6 L94.4,191.5 L92.4,191.4 L90.4,191.3 L88.4,191.2 L86.4,191.1 L84.4,191.0 L82.4,190.9 L80.4,190.8 L78.4,190.7 L76.4,190.7 L74.4,190.7 L72.4,190.8 L70.4,190.9 L68.4,191.0 L66.4,191.1 L64.4,191.2 L62.4,191.3 L60.4,191.4 L58.4,191.5 L56.4,191.6 L54.4,191.8 L52.4,191.9 L50.4,192.0 L48.4,192.1 L46.4,192.2 L44.4,192.3 L42.4,192.4 L40.4,192.5 L38.4,192.6 L36.4,192.7 L34.4,192.8 L32.4,192.8 L30.4,192.9 L28.4,193.0 L26.4,193.1 L24.4,193.2 L22.4,193.3 L20.4,193.4 L18.4,193.5 L16.4,193.6 Z" fill="#707078" fill-opacity="0.040"/><path d="M16.4,132.0 L18.4,132.8 L20.4,133.6 L22.4,134.3 L24.4,135.1 L26.4,135.9 L28.4,136.7 L30.4,137.5 L32.4,138.2 L34.4,139.0 L36.4,139.8 L38.4,140.6 L40.4,141.4 L42.4,142.3 L44.4,143.6 L46.4,144.9 L48.4,146.3 L50.4,147.6 L52.4,148.9 L54.4,150.3 L56.4,151.6 L58.4,152.3 L60.4,152.7 L62.4,153.1 L64.4,153.6 L66.4,154.0 L68.4,154.4 L70.4,154.8 L72.4,155.2 L74.4,155.7 L76.4,156.0 L78.4,155.8 L80.4,155.6 L82.4,155.5 L84.4,155.3 L86.4,155.1 L88.4,155.0 L90.4,154.8 L92.4,154.6 L94.4,154.5 L96.4,154.3 L98.4,154.1 L100.4,153.8 L102.4,153.0 L104.4,152.2 L106.4,151.3 L108.4,150.5 L110.4,149.7 L112.4,148.8 L114.4,148.0 L116.4,147.2 L118.4,146.3 L120.4,145.5 L122.4,144.7 L124.4,143.8 L126.4,142.7 L128.4,141.7 L130.4,140.6 L132.4,139.5 L134.4,138.5 L136.4,137.4 L138.4,136.3 L140.4,135.3 L142.4,134.2 L144.4,133.2 L144.7,133.0 L144.7,198.0 L144.4,197.9 L142.4,197.3 L140.4,196.6 L138.4,196.0 L136.4,195.3 L134.4,194.7 L132.4,194.1 L130.4,193.4 L128.4,192.8 L126.4,192.1 L124.4,191.9 L122.4,191.9 L120.4,191.8 L118.4,191.7 L116.4,191.6 L114.4,191.5 L112.4,191.5 L110.4,191.4 L108.4,191.3 L106.4,191.2 L104.4,191.1 L102.4,191.1 L100.4,191.0 L98.4,190.9 L96.4,190.8 L94.4,190.7 L92.4,190.7 L90.4,190.6 L88.4,190.5 L86.4,190.4 L84.4,190.3 L82.4,190.3 L80.4,190.2 L78.4,190.1 L76.4,190.0 L74.4,190.1 L72.4,190.1 L70.4,190.2 L68.4,190.3 L66.4,190.3 L64.4,190.4 L62.4,190.5 L60.4,190.5 L58.4,190.6 L56.4,190.7 L54.4,190.7 L52.4,190.8 L50.4,190.9 L48.4,190.9 L46.4,191.0 L44.4,191.1 L42.4,191.1 L40.4,191.2 L38.4,191.3 L36.4,191.3 L34.4,191.4 L32.4,191.5 L30.4,191.5 L28.4,191.6 L26.4,191.7 L24.4,191.7 L22.4,191.8 L20.4,191.9 L18.4,191.9 L16.4,192.0 Z" fill="#707078" fill-opacity="0.035"/><path d="M16.4,134.7 L18.4,135.5 L20.4,136.2 L22.4,137.0 L24.4,137.8 L26.4,138.5 L28.4,139.3 L30.4,140.0 L32.4,140.8 L34.4,141.6 L36.4,142.3 L38.4,143.1 L40.4,143.8 L42.4,144.7 L44.4,146.0 L46.4,147.2 L48.4,148.5 L50.4,149.7 L52.4,151.0 L54.4,152.3 L56.4,153.5 L58.4,154.2 L60.4,154.7 L62.4,155.1 L64.4,155.6 L66.4,156.0 L68.4,156.5 L70.4,156.9 L72.4,157.4 L74.4,157.8 L76.4,158.1 L78.4,158.0 L80.4,157.8 L82.4,157.6 L84.4,157.4 L86.4,157.3 L88.4,157.1 L90.4,156.9 L92.4,156.7 L94.4,156.5 L96.4,156.3 L98.4,156.1 L100.4,155.8 L102.4,154.9 L104.4,154.1 L106.4,153.3 L108.4,152.4 L110.4,151.6 L112.4,150.8 L114.4,150.1 L116.4,149.3 L118.4,148.5 L120.4,147.7 L122.4,147.0 L124.4,146.2 L126.4,145.3 L128.4,144.3 L130.4,143.4 L132.4,142.5 L134.4,141.6 L136.4,140.7 L138.4,139.8 L140.4,138.8 L142.4,137.9 L144.4,137.0 L144.7,136.8 L144.7,195.3 L144.4,195.2 L142.4,194.6 L140.4,194.0 L138.4,193.4 L136.4,192.8 L134.4,192.2 L132.4,191.6 L130.4,191.0 L128.4,190.3 L126.4,189.7 L124.4,189.5 L122.4,189.5 L120.4,189.4 L118.4,189.3 L116.4,189.3 L114.4,189.2 L112.4,189.2 L110.4,189.2 L108.4,189.2 L106.4,189.2 L104.4,189.2 L102.4,189.2 L100.4,189.2 L98.4,189.2 L96.4,189.2 L94.4,189.1 L92.4,189.1 L90.4,189.1 L88.4,189.0 L86.4,189.0 L84.4,189.0 L82.4,188.9 L80.4,188.9 L78.4,188.8 L76.4,188.7 L74.4,188.7 L72.4,188.8 L70.4,188.8 L68.4,188.8 L66.4,188.8 L64.4,188.7 L62.4,188.7 L60.4,188.7 L58.4,188.7 L56.4,188.7 L54.4,188.7 L52.4,188.7 L50.4,188.7 L48.4,188.7 L46.4,188.7 L44.4,188.7 L42.4,188.7 L40.4,188.7 L38.4,188.7 L36.4,188.7 L34.4,188.7 L32.4,188.7 L30.4,188.7 L28.4,188.7 L26.4,188.7 L24.4,188.7 L22.4,188.7 L20.4,188.7 L18.4,188.7 L16.4,188.7 Z" fill="#707078" fill-opacity="0.035"/><path d="M16.4,137.5 L18.4,138.2 L20.4,138.9 L22.4,139.7 L24.4,140.4 L26.4,141.1 L28.4,141.9 L30.4,142.6 L32.4,143.3 L34.4,144.1 L36.4,144.8 L38.4,145.6 L40.4,146.3 L42.4,147.1 L44.4,148.3 L46.4,149.5 L48.4,150.7 L50.4,151.9 L52.4,153.1 L54.4,154.3 L56.4,155.5 L58.4,156.2 L60.4,156.6 L62.4,157.1 L64.4,157.6 L66.4,158.1 L68.4,158.6 L70.4,159.0 L72.4,159.5 L74.4,159.9 L76.4,160.2 L78.4,160.1 L80.4,160.0 L82.4,159.8 L84.4,159.6 L86.4,159.4 L88.4,159.2 L90.4,159.0 L92.4,158.7 L94.4,158.5 L96.4,158.3 L98.4,158.1 L100.4,157.7 L102.4,156.9 L104.4,156.1 L106.4,155.2 L108.4,154.4 L110.4,153.6 L112.4,152.9 L114.4,152.1 L116.4,151.4 L118.4,150.7 L120.4,150.0 L122.4,149.3 L124.4,148.6 L126.4,147.8 L128.4,147.0 L130.4,146.3 L132.4,145.5 L134.4,144.8 L136.4,144.0 L138.4,143.2 L140.4,142.4 L142.4,141.6 L144.4,140.8 L144.7,140.6 L144.7,192.6 L144.4,192.6 L142.4,192.0 L140.4,191.4 L138.4,190.9 L136.4,190.3 L134.4,189.7 L132.4,189.1 L130.4,188.5 L128.4,187.9 L126.4,187.3 L124.4,187.1 L122.4,187.1 L120.4,187.0 L118.4,187.0 L116.4,187.0 L114.4,187.0 L112.4,187.0 L110.4,187.0 L108.4,187.0 L106.4,187.1 L104.4,187.2 L102.4,187.3 L100.4,187.4 L98.4,187.5 L96.4,187.5 L94.4,187.5 L92.4,187.6 L90.4,187.6 L88.4,187.6 L86.4,187.6 L84.4,187.6 L82.4,187.6 L80.4,187.6 L78.4,187.5 L76.4,187.4 L74.4,187.4 L72.4,187.4 L70.4,187.3 L68.4,187.3 L66.4,187.2 L64.4,187.1 L62.4,187.0 L60.4,186.9 L58.4,186.8 L56.4,186.7 L54.4,186.6 L52.4,186.5 L50.4,186.5 L48.4,186.4 L46.4,186.3 L44.4,186.3 L42.4,186.2 L40.4,186.2 L38.4,186.1 L36.4,186.0 L34.4,186.0 L32.4,185.9 L30.4,185.9 L28.4,185.8 L26.4,185.7 L24.4,185.7 L22.4,185.6 L20.4,185.6 L18.4,185.5 L16.4,185.5 Z" fill="#707078" fill-opacity="0.035"/><path d="M16.4,140.2 L18.4,140.9 L20.4,141.6 L22.4,142.3 L24.4,143.0 L26.4,143.8 L28.4,144.5 L30.4,145.2 L32.4,145.9 L34.4,146.6 L36.4,147.3 L38.4,148.0 L40.4,148.8 L42.4,149.6 L44.4,150.7 L46.4,151.8 L48.4,152.9 L50.4,154.0 L52.4,155.1 L54.4,156.2 L56.4,157.4 L58.4,158.1 L60.4,158.6 L62.4,159.1 L64.4,159.7 L66.4,160.2 L68.4,160.7 L70.4,161.2 L72.4,161.6 L74.4,162.0 L76.4,162.3 L78.4,162.3 L80.4,162.1 L82.4,161.9 L84.4,161.7 L86.4,161.5 L88.4,161.3 L90.4,161.0 L92.4,160.8 L94.4,160.5 L96.4,160.3 L98.4,160.0 L100.4,159.6 L102.4,158.8 L104.4,158.0 L106.4,157.1 L108.4,156.3 L110.4,155.6 L112.4,154.9 L114.4,154.2 L116.4,153.5 L118.4,152.9 L120.4,152.2 L122.4,151.6 L124.4,151.0 L126.4,150.3 L128.4,149.7 L130.4,149.1 L132.4,148.5 L134.4,147.9 L136.4,147.3 L138.4,146.6 L140.4,145.9 L142.4,145.2 L144.4,144.6 L144.7,144.5 L144.7,190.0 L144.4,189.9 L142.4,189.4 L140.4,188.8 L138.4,188.3 L136.4,187.8 L134.4,187.3 L132.4,186.7 L130.4,186.1 L128.4,185.5 L126.4,184.9 L124.4,184.7 L122.4,184.7 L120.4,184.6 L118.4,184.6 L116.4,184.6 L114.4,184.7 L112.4,184.7 L110.4,184.8 L108.4,184.9 L106.4,185.1 L104.4,185.3 L102.4,185.5 L100.4,185.6 L98.4,185.7 L96.4,185.8 L94.4,185.9 L92.4,186.0 L90.4,186.1 L88.4,186.1 L86.4,186.2 L84.4,186.2 L82.4,186.3 L80.4,186.3 L78.4,186.3 L76.4,186.2 L74.4,186.1 L72.4,186.0 L70.4,185.9 L68.4,185.8 L66.4,185.6 L64.4,185.4 L62.4,185.3 L60.4,185.1 L58.4,184.9 L56.4,184.7 L54.4,184.6 L52.4,184.4 L50.4,184.3 L48.4,184.1 L46.4,184.0 L44.4,183.9 L42.4,183.8 L40.4,183.6 L38.4,183.5 L36.4,183.4 L34.4,183.3 L32.4,183.1 L30.4,183.0 L28.4,182.9 L26.4,182.8 L24.4,182.7 L22.4,182.5 L20.4,182.4 L18.4,182.3 L16.4,182.2 Z" fill="#707078" fill-opacity="0.035"/><path d="M16.4,142.9 L18.4,143.6 L20.4,144.3 L22.4,145.0 L24.4,145.7 L26.4,146.4 L28.4,147.1 L30.4,147.8 L32.4,148.4 L34.4,149.1 L36.4,149.8 L38.4,150.5 L40.4,151.2 L42.4,152.0 L44.4,153.0 L46.4,154.1 L48.4,155.1 L50.4,156.1 L52.4,157.2 L54.4,158.2 L56.4,159.3 L58.4,160.0 L60.4,160.6 L62.4,161.1 L64.4,161.7 L66.4,162.2 L68.4,162.8 L70.4,163.3 L72.4,163.7 L74.4,164.1 L76.4,164.4 L78.4,164.4 L80.4,164.3 L82.4,164.1 L84.4,163.9 L86.4,163.6 L88.4,163.4 L90.4,163.1 L92.4,162.8 L94.4,162.6 L96.4,162.3 L98.4,162.0 L100.4,161.6 L102.4,160.8 L104.4,159.9 L106.4,159.1 L108.4,158.3 L110.4,157.6 L112.4,156.9 L114.4,156.3 L116.4,155.6 L118.4,155.0 L120.4,154.5 L122.4,154.0 L124.4,153.4 L126.4,152.9 L128.4,152.4 L130.4,152.0 L132.4,151.5 L134.4,151.0 L136.4,150.5 L138.4,150.0 L140.4,149.5 L142.4,148.9 L144.4,148.4 L144.7,148.3 L144.7,187.3 L144.4,187.2 L142.4,186.7 L140.4,186.3 L138.4,185.8 L136.4,185.3 L134.4,184.8 L132.4,184.2 L130.4,183.6 L128.4,183.1 L126.4,182.5 L124.4,182.3 L122.4,182.3 L120.4,182.3 L118.4,182.3 L116.4,182.3 L114.4,182.4 L112.4,182.5 L110.4,182.6 L108.4,182.8 L106.4,183.0 L104.4,183.3 L102.4,183.6 L100.4,183.9 L98.4,184.0 L96.4,184.2 L94.4,184.3 L92.4,184.5 L90.4,184.6 L88.4,184.7 L86.4,184.8 L84.4,184.9 L82.4,185.0 L80.4,185.0 L78.4,185.0 L76.4,184.9 L74.4,184.8 L72.4,184.7 L70.4,184.5 L68.4,184.3 L66.4,184.0 L64.4,183.8 L62.4,183.5 L60.4,183.3 L58.4,183.0 L56.4,182.7 L54.4,182.5 L52.4,182.3 L50.4,182.1 L48.4,181.9 L46.4,181.7 L44.4,181.5 L42.4,181.3 L40.4,181.1 L38.4,180.9 L36.4,180.7 L34.4,180.6 L32.4,180.4 L30.4,180.2 L28.4,180.0 L26.4,179.8 L24.4,179.6 L22.4,179.5 L20.4,179.3 L18.4,179.1 L16.4,178.9 Z" fill="#707078" fill-opacity="0.035"/><path d="M16.4,145.7 L18.4,146.3 L20.4,147.0 L22.4,147.7 L24.4,148.3 L26.4,149.0 L28.4,149.7 L30.4,150.3 L32.4,151.0 L34.4,151.7 L36.4,152.3 L38.4,153.0 L40.4,153.7 L42.4,154.4 L44.4,155.4 L46.4,156.3 L48.4,157.3 L50.4,158.3 L52.4,159.2 L54.4,160.2 L56.4,161.2 L58.4,161.9 L60.4,162.5 L62.4,163.1 L64.4,163.7 L66.4,164.3 L68.4,164.8 L70.4,165.4 L72.4,165.8 L74.4,166.3 L76.4,166.6 L78.4,166.6 L80.4,166.4 L82.4,166.3 L84.4,166.0 L86.4,165.7 L88.4,165.5 L90.4,165.2 L92.4,164.9 L94.4,164.6 L96.4,164.3 L98.4,163.9 L100.4,163.5 L102.4,162.7 L104.4,161.9 L106.4,161.0 L108.4,160.2 L110.4,159.5 L112.4,158.9 L114.4,158.3 L116.4,157.8 L118.4,157.2 L120.4,156.7 L122.4,156.3 L124.4,155.9 L126.4,155.4 L128.4,155.1 L130.4,154.8 L132.4,154.5 L134.4,154.2 L136.4,153.8 L138.4,153.4 L140.4,153.0 L142.4,152.6 L144.4,152.2 L144.7,152.1 L144.7,184.6 L144.4,184.5 L142.4,184.1 L140.4,183.7 L138.4,183.2 L136.4,182.8 L134.4,182.3 L132.4,181.8 L130.4,181.2 L128.4,180.6 L126.4,180.1 L124.4,179.9 L122.4,179.9 L120.4,179.9 L118.4,179.9 L116.4,180.0 L114.4,180.1 L112.4,180.2 L110.4,180.4 L108.4,180.6 L106.4,181.0 L104.4,181.4 L102.4,181.8 L100.4,182.1 L98.4,182.3 L96.4,182.5 L94.4,182.7 L92.4,182.9 L90.4,183.1 L88.4,183.2 L86.4,183.4 L84.4,183.5 L82.4,183.6 L80.4,183.7 L78.4,183.7 L76.4,183.6 L74.4,183.5 L72.4,183.3 L70.4,183.1 L68.4,182.8 L66.4,182.5 L64.4,182.1 L62.4,181.8 L60.4,181.4 L58.4,181.1 L56.4,180.8 L54.4,180.5 L52.4,180.2 L50.4,179.9 L48.4,179.6 L46.4,179.4 L44.4,179.1 L42.4,178.9 L40.4,178.6 L38.4,178.4 L36.4,178.1 L34.4,177.9 L32.4,177.6 L30.4,177.4 L28.4,177.1 L26.4,176.9 L24.4,176.6 L22.4,176.4 L20.4,176.1 L18.4,175.9 L16.4,175.7 Z" fill="#707078" fill-opacity="0.035"/><path d="M16.4,148.4 L18.4,149.0 L20.4,149.7 L22.4,150.3 L24.4,151.0 L26.4,151.6 L28.4,152.3 L30.4,152.9 L32.4,153.5 L34.4,154.2 L36.4,154.8 L38.4,155.5 L40.4,156.2 L42.4,156.9 L44.4,157.7 L46.4,158.6 L48.4,159.5 L50.4,160.4 L52.4,161.3 L54.4,162.2 L56.4,163.2 L58.4,163.9 L60.4,164.5 L62.4,165.1 L64.4,165.7 L66.4,166.4 L68.4,166.9 L70.4,167.5 L72.4,168.0 L74.4,168.4 L76.4,168.7 L78.4,168.7 L80.4,168.6 L82.4,168.4 L84.4,168.1 L86.4,167.9 L88.4,167.6 L90.4,167.3 L92.4,167.0 L94.4,166.6 L96.4,166.3 L98.4,165.9 L100.4,165.4 L102.4,164.7 L104.4,163.8 L106.4,163.0 L108.4,162.2 L110.4,161.5 L112.4,160.9 L114.4,160.4 L116.4,159.9 L118.4,159.4 L120.4,159.0 L122.4,158.6 L124.4,158.3 L126.4,158.0 L128.4,157.8 L130.4,157.6 L132.4,157.5 L134.4,157.3 L136.4,157.1 L138.4,156.8 L140.4,156.5 L142.4,156.2 L144.4,156.0 L144.7,155.9 L144.7,181.9 L144.4,181.9 L142.4,181.5 L140.4,181.1 L138.4,180.7 L136.4,180.3 L134.4,179.8 L132.4,179.3 L130.4,178.8 L128.4,178.2 L126.4,177.7 L124.4,177.5 L122.4,177.5 L120.4,177.5 L118.4,177.6 L116.4,177.7 L114.4,177.8 L112.4,178.0 L110.4,178.2 L108.4,178.5 L106.4,178.9 L104.4,179.4 L102.4,179.9 L100.4,180.3 L98.4,180.6 L96.4,180.9 L94.4,181.1 L92.4,181.4 L90.4,181.6 L88.4,181.8 L86.4,182.0 L84.4,182.2 L82.4,182.3 L80.4,182.4 L78.4,182.4 L76.4,182.3 L74.4,182.1 L72.4,181.9 L70.4,181.6 L68.4,181.3 L66.4,180.9 L64.4,180.5 L62.4,180.1 L60.4,179.6 L58.4,179.2 L56.4,178.8 L54.4,178.4 L52.4,178.1 L50.4,177.7 L48.4,177.4 L46.4,177.0 L44.4,176.7 L42.4,176.4 L40.4,176.1 L38.4,175.8 L36.4,175.5 L34.4,175.1 L32.4,174.8 L30.4,174.5 L28.4,174.2 L26.4,173.9 L24.4,173.6 L22.4,173.3 L20.4,173.0 L18.4,172.7 L16.4,172.4 Z" fill="#707078" fill-opacity="0.035"/><path d="M16.4,151.1 L18.4,151.7 L20.4,152.4 L22.4,153.0 L24.4,153.6 L26.4,154.2 L28.4,154.8 L30.4,155.5 L32.4,156.1 L34.4,156.7 L36.4,157.4 L38.4,158.0 L40.4,158.6 L42.4,159.3 L44.4,160.1 L46.4,160.9 L48.4,161.7 L50.4,162.5 L52.4,163.4 L54.4,164.2 L56.4,165.1 L58.4,165.8 L60.4,166.5 L62.4,167.1 L64.4,167.8 L66.4,168.4 L68.4,169.0 L70.4,169.6 L72.4,170.1 L74.4,170.5 L76.4,170.8 L78.4,170.9 L80.4,170.8 L82.4,170.6 L84.4,170.3 L86.4,170.0 L88.4,169.7 L90.4,169.3 L92.4,169.0 L94.4,168.6 L96.4,168.3 L98.4,167.9 L100.4,167.4 L102.4,166.6 L104.4,165.8 L106.4,164.9 L108.4,164.1 L110.4,163.5 L112.4,162.9 L114.4,162.4 L116.4,162.0 L118.4,161.6 L120.4,161.2 L122.4,160.9 L124.4,160.7 L126.4,160.5 L128.4,160.5 L130.4,160.5 L132.4,160.5 L134.4,160.5 L136.4,160.4 L138.4,160.2 L140.4,160.1 L142.4,159.9 L144.4,159.8 L144.7,159.7 L144.7,179.2 L144.4,179.2 L142.4,178.8 L140.4,178.5 L138.4,178.1 L136.4,177.7 L134.4,177.3 L132.4,176.8 L130.4,176.3 L128.4,175.8 L126.4,175.3 L124.4,175.1 L122.4,175.1 L120.4,175.1 L118.4,175.2 L116.4,175.3 L114.4,175.5 L112.4,175.7 L110.4,176.0 L108.4,176.4 L106.4,176.9 L104.4,177.5 L102.4,178.0 L100.4,178.5 L98.4,178.9 L96.4,179.2 L94.4,179.5 L92.4,179.8 L90.4,180.1 L88.4,180.3 L86.4,180.6 L84.4,180.8 L82.4,181.0 L80.4,181.1 L78.4,181.2 L76.4,181.0 L74.4,180.8 L72.4,180.6 L70.4,180.2 L68.4,179.8 L66.4,179.3 L64.4,178.8 L62.4,178.3 L60.4,177.8 L58.4,177.3 L56.4,176.8 L54.4,176.4 L52.4,175.9 L50.4,175.5 L48.4,175.1 L46.4,174.7 L44.4,174.3 L42.4,174.0 L40.4,173.6 L38.4,173.2 L36.4,172.8 L34.4,172.4 L32.4,172.1 L30.4,171.7 L28.4,171.3 L26.4,171.0 L24.4,170.6 L22.4,170.2 L20.4,169.8 L18.4,169.5 L16.4,169.1 Z" fill="#707078" fill-opacity="0.035"/><path d="M16.4,153.8 L18.4,154.4 L20.4,155.0 L22.4,155.6 L24.4,156.2 L26.4,156.8 L28.4,157.4 L30.4,158.0 L32.4,158.6 L34.4,159.3 L36.4,159.9 L38.4,160.5 L40.4,161.1 L42.4,161.7 L44.4,162.5 L46.4,163.2 L48.4,163.9 L50.4,164.7 L52.4,165.4 L54.4,166.2 L56.4,167.0 L58.4,167.7 L60.4,168.4 L62.4,169.1 L64.4,169.8 L66.4,170.5 L68.4,171.1 L70.4,171.7 L72.4,172.2 L74.4,172.6 L76.4,172.9 L78.4,173.0 L80.4,172.9 L82.4,172.7 L84.4,172.4 L86.4,172.1 L88.4,171.8 L90.4,171.4 L92.4,171.1 L94.4,170.7 L96.4,170.3 L98.4,169.8 L100.4,169.3 L102.4,168.6 L104.4,167.7 L106.4,166.8 L108.4,166.1 L110.4,165.5 L112.4,165.0 L114.4,164.5 L116.4,164.1 L118.4,163.8 L120.4,163.5 L122.4,163.3 L124.4,163.1 L126.4,163.0 L128.4,163.1 L130.4,163.3 L132.4,163.5 L134.4,163.6 L136.4,163.6 L138.4,163.6 L140.4,163.6 L142.4,163.6 L144.4,163.6 L144.7,163.6 L144.7,176.6 L144.4,176.5 L142.4,176.2 L140.4,175.9 L138.4,175.6 L136.4,175.2 L134.4,174.9 L132.4,174.4 L130.4,173.9 L128.4,173.4 L126.4,172.9 L124.4,172.7 L122.4,172.7 L120.4,172.7 L118.4,172.8 L116.4,173.0 L114.4,173.2 L112.4,173.5 L110.4,173.8 L108.4,174.2 L106.4,174.8 L104.4,175.5 L102.4,176.2 L100.4,176.7 L98.4,177.2 L96.4,177.6 L94.4,177.9 L92.4,178.3 L90.4,178.6 L88.4,178.9 L86.4,179.2 L84.4,179.4 L82.4,179.7 L80.4,179.8 L78.4,179.9 L76.4,179.7 L74.4,179.5 L72.4,179.2 L70.4,178.8 L68.4,178.3 L66.4,177.8 L64.4,177.2 L62.4,176.6 L60.4,176.0 L58.4,175.4 L56.4,174.8 L54.4,174.3 L52.4,173.8 L50.4,173.3 L48.4,172.9 L46.4,172.4 L44.4,171.9 L42.4,171.5 L40.4,171.1 L38.4,170.6 L36.4,170.2 L34.4,169.7 L32.4,169.3 L30.4,168.9 L28.4,168.4 L26.4,168.0 L24.4,167.6 L22.4,167.1 L20.4,166.7 L18.4,166.3 L16.4,165.8 Z" fill="#707078" fill-opacity="0.035"/><path d="M16.4,156.6 L18.4,157.2 L20.4,157.7 L22.4,158.3 L24.4,158.9 L26.4,159.5 L28.4,160.0 L30.4,160.6 L32.4,161.2 L34.4,161.8 L36.4,162.4 L38.4,163.0 L40.4,163.6 L42.4,164.2 L44.4,164.8 L46.4,165.5 L48.4,166.1 L50.4,166.8 L52.4,167.5 L54.4,168.2 L56.4,168.9 L58.4,169.7 L60.4,170.4 L62.4,171.1 L64.4,171.8 L66.4,172.5 L68.4,173.2 L70.4,173.8 L72.4,174.3 L74.4,174.8 L76.4,175.0 L78.4,175.2 L80.4,175.1 L82.4,174.9 L84.4,174.6 L86.4,174.2 L88.4,173.9 L90.4,173.5 L92.4,173.1 L94.4,172.7 L96.4,172.3 L98.4,171.8 L100.4,171.2 L102.4,170.5 L104.4,169.6 L106.4,168.8 L108.4,168.0 L110.4,167.4 L112.4,167.0 L114.4,166.6 L116.4,166.2 L118.4,165.9 L120.4,165.7 L122.4,165.6 L124.4,165.5 L126.4,165.6 L128.4,165.8 L130.4,166.1 L132.4,166.5 L134.4,166.8 L136.4,166.9 L138.4,167.1 L140.4,167.2 L142.4,167.3 L144.4,167.4 L144.7,167.4 L144.7,173.9 L144.4,173.8 L142.4,173.6 L140.4,173.3 L138.4,173.0 L136.4,172.7 L134.4,172.4 L132.4,171.9 L130.4,171.4 L128.4,170.9 L126.4,170.5 L124.4,170.3 L122.4,170.3 L120.4,170.3 L118.4,170.5 L116.4,170.7 L114.4,170.9 L112.4,171.2 L110.4,171.6 L108.4,172.1 L106.4,172.8 L104.4,173.5 L102.4,174.3 L100.4,175.0 L98.4,175.5 L96.4,175.9 L94.4,176.3 L92.4,176.7 L90.4,177.1 L88.4,177.4 L86.4,177.8 L84.4,178.1 L82.4,178.4 L80.4,178.6 L78.4,178.6 L76.4,178.5 L74.4,178.2 L72.4,177.8 L70.4,177.3 L68.4,176.8 L66.4,176.2 L64.4,175.5 L62.4,174.9 L60.4,174.2 L58.4,173.5 L56.4,172.9 L54.4,172.3 L52.4,171.7 L50.4,171.1 L48.4,170.6 L46.4,170.1 L44.4,169.6 L42.4,169.0 L40.4,168.5 L38.4,168.0 L36.4,167.5 L34.4,167.0 L32.4,166.5 L30.4,166.0 L28.4,165.5 L26.4,165.0 L24.4,164.5 L22.4,164.1 L20.4,163.6 L18.4,163.1 L16.4,162.6 Z" fill="#707078" fill-opacity="0.035"/><path d="M16.4,153.7 L41.1,159.5 L57.0,170.7 L76.2,172.8 L101.4,169.2 L124.4,164.2 L144.7,173.1 L144.7,176.3 L124.4,167.3 L101.4,172.3 L76.2,175.9 L57.0,173.8 L41.1,162.6 L16.4,156.8 Z" fill="#707078" fill-opacity="0.045"/><path d="M16.4,155.3 L41.1,161.1 L57.0,172.2 L76.2,174.3 L101.4,170.8 L124.4,165.7 L144.7,174.7" fill="none" stroke="#606068" stroke-opacity="0.40" stroke-width="0.5"/><path d="M16.4,153.1 L41.1,165.1 L57.0,167.3 L76.2,174.0 L101.4,166.3 L124.4,160.0 L144.7,168.7 L144.7,177.7 L124.4,169.0 L101.4,175.3 L76.2,183.0 L57.0,176.3 L41.1,174.1 L16.4,162.1 Z" fill="#707078" fill-opacity="0.045"/><path d="M16.4,157.6 L41.1,169.6 L57.0,171.8 L76.2,178.5 L101.4,170.8 L124.4,164.5 L144.7,173.2" fill="none" stroke="#606068" stroke-opacity="0.40" stroke-width="0.5"/><path d="M16.4,171.5 L41.1,174.1 L57.0,182.3 L76.2,180.6 L101.4,180.1 L124.4,174.7 L144.7,187.1 L144.7,193.3 L124.4,180.9 L101.4,186.3 L76.2,186.8 L57.0,188.5 L41.1,180.4 L16.4,177.7 Z" fill="#707078" fill-opacity="0.045"/><path d="M16.4,174.6 L41.1,177.3 L57.0,185.4 L76.2,183.7 L101.4,183.2 L124.4,177.8 L144.7,190.2" fill="none" stroke="#606068" stroke-opacity="0.40" stroke-width="0.5"/><path d="M16.4,135.9 L41.1,148.0 L57.0,157.8 L76.2,155.5 L101.4,156.3 L124.4,143.3 L144.7,147.6 L144.7,155.4 L124.4,151.2 L101.4,164.2 L76.2,163.4 L57.0,165.6 L41.1,155.8 L16.4,143.7 Z" fill="#707078" fill-opacity="0.045"/><path d="M16.4,139.8 L41.1,151.9 L57.0,161.7 L76.2,159.5 L101.4,160.2 L124.4,147.2 L144.7,151.5" fill="none" stroke="#606068" stroke-opacity="0.40" stroke-width="0.5"/><path d="M16.4,138.8 L41.1,156.4 L57.0,160.1 L76.2,168.0 L101.4,158.8 L124.4,154.9 L144.7,143.0 L144.7,148.2 L124.4,160.2 L101.4,164.1 L76.2,173.3 L57.0,165.4 L41.1,161.6 L16.4,144.0 Z" fill="#707078" fill-opacity="0.045"/><path d="M16.4,141.4 L41.1,159.0 L57.0,162.8 L76.2,170.6 L101.4,161.4 L124.4,157.6 L144.7,145.6" fill="none" stroke="#606068" stroke-opacity="0.40" stroke-width="0.5"/><path d="M16.4,140.5 L41.1,155.1 L57.0,159.2 L76.2,161.0 L101.4,161.0 L124.4,155.8 L144.7,155.7 L144.7,163.4 L124.4,163.5 L101.4,168.7 L76.2,168.7 L57.0,166.9 L41.1,162.8 L16.4,148.2 Z" fill="#707078" fill-opacity="0.045"/><path d="M16.4,144.4 L41.1,159.0 L57.0,163.0 L76.2,164.8 L101.4,164.9 L124.4,159.6 L144.7,159.5" fill="none" stroke="#606068" stroke-opacity="0.20" stroke-width="0.5"/><path d="M16.4,165.3 L41.1,170.7 L57.0,174.1 L76.2,180.4 L101.4,174.7 L124.4,168.6 L144.7,178.7 L144.7,183.7 L124.4,173.6 L101.4,179.7 L76.2,185.4 L57.0,179.0 L41.1,175.7 L16.4,170.3 Z" fill="#707078" fill-opacity="0.045"/><path d="M16.4,167.8 L41.1,173.2 L57.0,176.6 L76.2,182.9 L101.4,177.2 L124.4,171.1 L144.7,181.2" fill="none" stroke="#606068" stroke-opacity="0.20" stroke-width="0.5"/><path d="M16.4,135.1 L41.1,147.1 L57.0,157.5 L76.2,156.1 L101.4,156.4 L124.4,147.2 L144.7,143.3 L144.7,150.1 L124.4,154.0 L101.4,163.2 L76.2,162.9 L57.0,164.3 L41.1,153.9 L16.4,141.9 Z" fill="#707078" fill-opacity="0.045"/><path d="M16.4,138.5 L41.1,150.5 L57.0,160.9 L76.2,159.5 L101.4,159.8 L124.4,150.6 L144.7,146.7" fill="none" stroke="#606068" stroke-opacity="0.20" stroke-width="0.5"/><path d="M16.4,150.3 L41.1,160.2 L57.0,158.8 L76.2,164.5 L101.4,167.9 L124.4,157.2 L144.7,153.9 L144.7,159.4 L124.4,162.6 L101.4,173.3 L76.2,169.9 L57.0,164.2 L41.1,165.6 L16.4,155.7 Z" fill="#707078" fill-opacity="0.045"/><path d="M16.4,153.0 L41.1,162.9 L57.0,161.5 L76.2,167.2 L101.4,170.6 L124.4,159.9 L144.7,156.7" fill="none" stroke="#606068" stroke-opacity="0.20" stroke-width="0.5"/><path d="M16.4,143.6 L41.1,155.5 L57.0,163.8 L76.2,171.0 L101.4,166.6 L124.4,161.6 L144.7,163.1 L144.7,167.4 L124.4,165.9 L101.4,170.9 L76.2,175.3 L57.0,168.1 L41.1,159.8 L16.4,147.9 Z" fill="#707078" fill-opacity="0.045"/><path d="M16.4,145.8 L41.1,157.7 L57.0,166.0 L76.2,173.1 L101.4,168.7 L124.4,163.8 L144.7,165.3" fill="none" stroke="#606068" stroke-opacity="0.20" stroke-width="0.5"/><path d="M16.4,139.9 L41.1,145.8 L57.0,153.5 L76.2,158.9 L101.4,161.7 L124.4,146.6 L144.7,152.4 L144.7,160.0 L124.4,154.2 L101.4,169.4 L76.2,166.6 L57.0,161.1 L41.1,153.4 L16.4,147.5 Z" fill="#707078" fill-opacity="0.045"/><path d="M16.4,143.7 L41.1,149.6 L57.0,157.3 L76.2,162.8 L101.4,165.5 L124.4,150.4 L144.7,156.2" fill="none" stroke="#606068" stroke-opacity="0.20" stroke-width="0.5"/><path d="M16.4,140.3 L41.1,151.4 L57.0,161.6 L76.2,166.8 L101.4,158.8 L124.4,154.9 L144.7,147.5 L144.7,152.1 L124.4,159.5 L101.4,163.4 L76.2,171.4 L57.0,166.2 L41.1,156.0 L16.4,144.9 Z" fill="#707078" fill-opacity="0.045"/><path d="M16.4,142.6 L41.1,153.7 L57.0,163.9 L76.2,169.1 L101.4,161.1 L124.4,157.2 L144.7,149.8" fill="none" stroke="#606068" stroke-opacity="0.20" stroke-width="0.5"/><path d="M16.4,170.9 L41.1,170.1 L57.0,175.4 L76.2,179.5 L101.4,176.6 L124.4,173.2 L144.7,177.8 L144.7,183.5 L124.4,178.9 L101.4,182.3 L76.2,185.2 L57.0,181.1 L41.1,175.8 L16.4,176.6 Z" fill="#707078" fill-opacity="0.045"/><path d="M16.4,173.7 L41.1,172.9 L57.0,178.2 L76.2,182.3 L101.4,179.5 L124.4,176.0 L144.7,180.7" fill="none" stroke="#606068" stroke-opacity="0.20" stroke-width="0.5"/><path d="M16.4,130.2 L41.1,143.6 L57.0,152.1 L76.2,157.5 L101.4,153.2 L124.4,147.6 L144.7,131.7 L144.7,138.1 L124.4,154.0 L101.4,159.6 L76.2,163.9 L57.0,158.5 L41.1,150.0 L16.4,136.6 Z" fill="#707078" fill-opacity="0.045"/><path d="M16.4,133.4 L41.1,146.8 L57.0,155.3 L76.2,160.7 L101.4,156.4 L124.4,150.8 L144.7,134.9" fill="none" stroke="#606068" stroke-opacity="0.20" stroke-width="0.5"/><path d="M16.4,150.8 L41.1,163.7 L57.0,166.2 L76.2,169.2 L101.4,168.1 L124.4,162.6 L144.7,168.4 L144.7,177.4 L124.4,171.6 L101.4,177.1 L76.2,178.2 L57.0,175.2 L41.1,172.7 L16.4,159.8 Z" fill="#707078" fill-opacity="0.045"/><path d="M16.4,155.3 L41.1,168.2 L57.0,170.7 L76.2,173.7 L101.4,172.6 L124.4,167.1 L144.7,172.9" fill="none" stroke="#606068" stroke-opacity="0.20" stroke-width="0.5"/><path d="M16.4,148.1 L41.1,155.2 L57.0,159.9 L76.2,165.8 L101.4,162.1 L124.4,158.6 L144.7,152.8 L144.7,160.0 L124.4,165.9 L101.4,169.3 L76.2,173.0 L57.0,167.2 L41.1,162.5 L16.4,155.3 Z" fill="#707078" fill-opacity="0.045"/><path d="M16.4,151.7 L41.1,158.8 L57.0,163.6 L76.2,169.4 L101.4,165.7 L124.4,162.3 L144.7,156.4" fill="none" stroke="#606068" stroke-opacity="0.20" stroke-width="0.5"/><path d="M16.4,145.0 L41.1,153.0 L57.0,159.4 L76.2,164.4 L101.4,161.2 L124.4,159.0 L144.7,155.9 L144.7,164.8 L124.4,167.9 L101.4,170.1 L76.2,173.3 L57.0,168.3 L41.1,161.9 L16.4,154.0 Z" fill="#707078" fill-opacity="0.045"/><path d="M16.4,149.5 L41.1,157.4 L57.0,163.8 L76.2,168.8 L101.4,165.7 L124.4,163.5 L144.7,160.3" fill="none" stroke="#606068" stroke-opacity="0.20" stroke-width="0.5"/><path d="M16.4,142.6 L41.1,148.1 L57.0,160.5 L76.2,165.2 L101.4,159.7 L124.4,150.6 L144.7,155.7 L144.7,161.6 L124.4,156.4 L101.4,165.6 L76.2,171.1 L57.0,166.3 L41.1,153.9 L16.4,148.4 Z" fill="#707078" fill-opacity="0.045"/><path d="M16.4,145.5 L41.1,151.0 L57.0,163.4 L76.2,168.2 L101.4,162.7 L124.4,153.5 L144.7,158.7" fill="none" stroke="#606068" stroke-opacity="0.20" stroke-width="0.5"/><path d="M16.4,134.6 L41.1,139.8 L57.0,156.6 L76.2,154.6 L101.4,152.4 L124.4,151.3 L144.7,139.2 L144.7,146.8 L124.4,158.8 L101.4,160.0 L76.2,162.2 L57.0,164.1 L41.1,147.4 L16.4,142.1 Z" fill="#707078" fill-opacity="0.045"/><path d="M16.4,138.3 L41.1,143.6 L57.0,160.4 L76.2,158.4 L101.4,156.2 L124.4,155.0 L144.7,143.0" fill="none" stroke="#606068" stroke-opacity="0.20" stroke-width="0.5"/><path d="M16.4,162.3 L41.1,165.8 L57.0,170.5 L76.2,177.6 L101.4,177.4 L124.4,170.4 L144.7,178.0 L144.7,184.3 L124.4,176.6 L101.4,183.7 L76.2,183.8 L57.0,176.7 L41.1,172.0 L16.4,168.5 Z" fill="#707078" fill-opacity="0.045"/><path d="M16.4,165.4 L41.1,168.9 L57.0,173.6 L76.2,180.7 L101.4,180.5 L124.4,173.5 L144.7,181.2" fill="none" stroke="#606068" stroke-opacity="0.20" stroke-width="0.5"/><path d="M16.4,164.3 L41.1,167.5 L57.0,169.4 L76.2,174.2 L101.4,174.1 L124.4,174.2 L144.7,170.5 L144.7,175.6 L124.4,179.2 L101.4,179.1 L76.2,179.2 L57.0,174.4 L41.1,172.5 L16.4,169.3 Z" fill="#707078" fill-opacity="0.045"/><path d="M16.4,166.8 L41.1,170.0 L57.0,171.9 L76.2,176.7 L101.4,176.6 L124.4,176.7 L144.7,173.1" fill="none" stroke="#606068" stroke-opacity="0.20" stroke-width="0.5"/><path d="M16.4,143.5 L41.1,159.6 L57.0,160.2 L76.2,169.0 L101.4,164.9 L124.4,158.5 L144.7,154.5 L144.7,158.9 L124.4,163.0 L101.4,169.4 L76.2,173.5 L57.0,164.6 L41.1,164.1 L16.4,148.0 Z" fill="#707078" fill-opacity="0.045"/><path d="M16.4,145.8 L41.1,161.9 L57.0,162.4 L76.2,171.3 L101.4,167.2 L124.4,160.7 L144.7,156.7" fill="none" stroke="#606068" stroke-opacity="0.20" stroke-width="0.5"/><path d="M16.4,159.7 L41.1,167.6 L57.0,170.7 L76.2,173.3 L101.4,171.9 L124.4,168.4 L144.7,170.2 L144.7,174.5 L124.4,172.7 L101.4,176.2 L76.2,177.6 L57.0,175.0 L41.1,171.9 L16.4,164.0 Z" fill="#707078" fill-opacity="0.045"/><path d="M16.4,161.8 L41.1,169.7 L57.0,172.9 L76.2,175.4 L101.4,174.0 L124.4,170.6 L144.7,172.4" fill="none" stroke="#606068" stroke-opacity="0.20" stroke-width="0.5"/><path d="M16.4,129.6 L41.1,142.5 L57.0,150.7 L76.2,153.8 L101.4,150.6 L124.4,142.2 L144.7,131.1 L144.7,138.7 L124.4,149.8 L101.4,158.2 L76.2,161.3 L57.0,158.3 L41.1,150.0 L16.4,137.1 Z" fill="#707078" fill-opacity="0.045"/><path d="M16.4,133.4 L41.1,146.3 L57.0,154.5 L76.2,157.5 L101.4,154.4 L124.4,146.0 L144.7,134.9" fill="none" stroke="#606068" stroke-opacity="0.20" stroke-width="0.5"/><path d="M16.4,168.2 L41.1,176.3 L57.0,175.5 L76.2,180.2 L101.4,174.8 L124.4,170.6 L144.7,173.7 L144.7,179.2 L124.4,176.1 L101.4,180.2 L76.2,185.7 L57.0,180.9 L41.1,181.7 L16.4,173.6 Z" fill="#707078" fill-opacity="0.045"/><path d="M16.4,170.9 L41.1,179.0 L57.0,178.2 L76.2,183.0 L101.4,177.5 L124.4,173.3 L144.7,176.5" fill="none" stroke="#606068" stroke-opacity="0.20" stroke-width="0.5"/><path d="M16.4,155.7 L41.1,157.2 L57.0,162.7 L76.2,171.3 L101.4,167.9 L124.4,158.6 L144.7,158.8 L144.7,166.6 L124.4,166.4 L101.4,175.7 L76.2,179.1 L57.0,170.5 L41.1,165.0 L16.4,163.5 Z" fill="#707078" fill-opacity="0.045"/><path d="M16.4,159.6 L41.1,161.1 L57.0,166.6 L76.2,175.2 L101.4,171.8 L124.4,162.5 L144.7,162.7" fill="none" stroke="#606068" stroke-opacity="0.20" stroke-width="0.5"/><path d="M16.4,163.1 L41.1,168.1 L57.0,172.1 L76.2,177.3 L101.4,174.0 L124.4,167.2 L144.7,171.6 L144.7,179.9 L124.4,175.5 L101.4,182.3 L76.2,185.7 L57.0,180.4 L41.1,176.4 L16.4,171.4 Z" fill="#707078" fill-opacity="0.045"/><path d="M16.4,167.3 L41.1,172.2 L57.0,176.3 L76.2,181.5 L101.4,178.1 L124.4,171.4 L144.7,175.7" fill="none" stroke="#606068" stroke-opacity="0.20" stroke-width="0.5"/><path d="M16.4,161.2 L41.1,159.2 L57.0,171.5 L76.2,174.8 L101.4,167.8 L124.4,166.9 L144.7,161.9 L144.7,169.4 L124.4,174.3 L101.4,175.3 L76.2,182.2 L57.0,178.9 L41.1,166.7 L16.4,168.6 Z" fill="#707078" fill-opacity="0.045"/><path d="M16.4,164.9 L41.1,163.0 L57.0,175.2 L76.2,178.5 L101.4,171.6 L124.4,170.6 L144.7,165.6" fill="none" stroke="#606068" stroke-opacity="0.20" stroke-width="0.5"/><path d="M16.4,155.0 L41.1,161.4 L57.0,169.8 L76.2,177.0 L101.4,174.3 L124.4,164.1 L144.7,166.2 L144.7,173.1 L124.4,171.1 L101.4,181.3 L76.2,183.9 L57.0,176.7 L41.1,168.3 L16.4,161.9 Z" fill="#707078" fill-opacity="0.045"/><path d="M16.4,158.5 L41.1,164.9 L57.0,173.2 L76.2,180.5 L101.4,177.8 L124.4,167.6 L144.7,169.6" fill="none" stroke="#606068" stroke-opacity="0.20" stroke-width="0.5"/><path d="M16.4,143.5 L41.1,157.3 L57.0,163.9 L76.2,163.9 L101.4,160.7 L124.4,157.2 L144.7,157.8 L144.7,161.2 L124.4,160.7 L101.4,164.2 L76.2,167.3 L57.0,167.4 L41.1,160.8 L16.4,147.0 Z" fill="#707078" fill-opacity="0.045"/><path d="M16.4,145.2 L41.1,159.0 L57.0,165.7 L76.2,165.6 L101.4,162.5 L124.4,158.9 L144.7,159.5" fill="none" stroke="#606068" stroke-opacity="0.20" stroke-width="0.5"/><path d="M16.4,152.4 L41.1,166.7 L57.0,170.0 L76.2,176.8 L101.4,169.7 L124.4,169.7 L144.7,166.3 L144.7,172.3 L124.4,175.6 L101.4,175.7 L76.2,182.8 L57.0,175.9 L41.1,172.7 L16.4,158.4 Z" fill="#707078" fill-opacity="0.045"/><path d="M16.4,155.4 L41.1,169.7 L57.0,172.9 L76.2,179.8 L101.4,172.7 L124.4,172.6 L144.7,169.3" fill="none" stroke="#606068" stroke-opacity="0.20" stroke-width="0.5"/><path d="M16.4,160.2 L41.1,165.9 L57.0,165.7 L76.2,171.0 L101.4,168.5 L124.4,168.3 L144.7,172.0 L144.7,177.2 L124.4,173.5 L101.4,173.7 L76.2,176.2 L57.0,170.9 L41.1,171.0 L16.4,165.4 Z" fill="#707078" fill-opacity="0.045"/><path d="M16.4,162.8 L41.1,168.4 L57.0,168.3 L76.2,173.6 L101.4,171.1 L124.4,170.9 L144.7,174.6" fill="none" stroke="#606068" stroke-opacity="0.20" stroke-width="0.5"/><path d="M16.4,133.1 L41.1,149.3 L57.0,154.0 L76.2,160.7 L101.4,156.9 L124.4,151.5 L144.7,139.5 L144.7,147.1 L124.4,159.2 L101.4,164.6 L76.2,168.4 L57.0,161.7 L41.1,157.0 L16.4,140.8 Z" fill="#707078" fill-opacity="0.045"/><path d="M16.4,136.9 L41.1,153.1 L57.0,157.8 L76.2,164.6 L101.4,160.7 L124.4,155.3 L144.7,143.3" fill="none" stroke="#606068" stroke-opacity="0.20" stroke-width="0.5"/><path d="M16.4,134.5 L41.1,144.0 L57.0,151.7 L76.2,160.3 L101.4,151.7 L124.4,142.9 L144.7,141.4 L144.7,146.9 L124.4,148.3 L101.4,157.1 L76.2,165.7 L57.0,157.1 L41.1,149.4 L16.4,139.9 Z" fill="#707078" fill-opacity="0.045"/><path d="M16.4,137.2 L41.1,146.7 L57.0,154.4 L76.2,163.0 L101.4,154.4 L124.4,145.6 L144.7,144.1" fill="none" stroke="#606068" stroke-opacity="0.20" stroke-width="0.5"/><path d="M100.0,184.0 L124.4,181.0 L144.7,206.0" fill="none" stroke="#606068" stroke-opacity="0.38" stroke-width="0.5"/><path d="M90.0,160.0 L124.4,152.0 L144.7,136.0" fill="none" stroke="#606068" stroke-opacity="0.38" stroke-width="0.5"/><path d="M16.4,155.7 L18.4,156.2 L20.4,156.8 L22.4,157.3 L24.4,157.9 L26.4,158.4 L28.4,159.0 L30.4,159.5 L32.4,160.1 L34.4,160.6 L36.4,161.2 L38.4,161.7 L40.4,162.3 L42.4,162.9 L44.4,163.4 L46.4,164.0 L48.4,164.6 L50.4,165.2 L52.4,165.8 L54.4,166.4 L56.4,167.1 L58.4,167.8 L60.4,168.6 L62.4,169.3 L64.4,170.1 L66.4,170.8 L68.4,171.5 L70.4,172.1 L72.4,172.6 L74.4,173.0 L76.4,173.3 L78.4,173.4 L80.4,173.4 L82.4,173.1 L84.4,172.8 L86.4,172.4 L88.4,172.0 L90.4,171.6 L92.4,171.2 L94.4,170.7 L96.4,170.2 L98.4,169.7 L100.4,169.1 L102.4,168.4 L104.4,167.5 L106.4,166.6 L108.4,165.8 L110.4,165.3 L112.4,164.8 L114.4,164.4 L116.4,164.1 L118.4,163.9 L120.4,163.7 L122.4,163.6 L124.4,163.6 L126.4,163.8 L128.4,164.2 L130.4,164.7 L132.4,165.2 L134.4,165.6 L136.4,166.0 L138.4,166.2 L140.4,166.5 L142.4,166.7 L144.4,167.0 L144.7,167.0 L144.7,175.4 L144.4,175.4 L142.4,175.1 L140.4,174.9 L138.4,174.7 L136.4,174.4 L134.4,174.1 L132.4,173.7 L130.4,173.2 L128.4,172.8 L126.4,172.4 L124.4,172.2 L122.4,172.2 L120.4,172.2 L118.4,172.4 L116.4,172.6 L114.4,172.8 L112.4,173.2 L110.4,173.6 L108.4,174.1 L106.4,174.8 L104.4,175.7 L102.4,176.5 L100.4,177.2 L98.4,177.8 L96.4,178.3 L94.4,178.7 L92.4,179.1 L90.4,179.5 L88.4,179.9 L86.4,180.3 L84.4,180.6 L82.4,180.9 L80.4,181.1 L78.4,181.2 L76.4,181.0 L74.4,180.7 L72.4,180.3 L70.4,179.8 L68.4,179.1 L66.4,178.4 L64.4,177.7 L62.4,176.9 L60.4,176.1 L58.4,175.4 L56.4,174.6 L54.4,174.0 L52.4,173.3 L50.4,172.7 L48.4,172.1 L46.4,171.5 L44.4,170.9 L42.4,170.3 L40.4,169.7 L38.4,169.1 L36.4,168.6 L34.4,168.0 L32.4,167.4 L30.4,166.8 L28.4,166.3 L26.4,165.7 L24.4,165.2 L22.4,164.6 L20.4,164.0 L18.4,163.5 L16.4,162.9 Z" fill="#e47cb6" fill-opacity="0.8"/><path d="M16.4,159.3 L18.4,159.9 L20.4,160.4 L22.4,161.0 L24.4,161.5 L26.4,162.1 L28.4,162.6 L30.4,163.2 L32.4,163.7 L34.4,164.3 L36.4,164.9 L38.4,165.4 L40.4,166.0 L42.4,166.6 L44.4,167.2 L46.4,167.7 L48.4,168.3 L50.4,168.9 L52.4,169.6 L54.4,170.2 L56.4,170.9 L58.4,171.6 L60.4,172.4 L62.4,173.1 L64.4,173.9 L66.4,174.6 L68.4,175.3 L70.4,175.9 L72.4,176.4 L74.4,176.9 L76.4,177.2 L78.4,177.3 L80.4,177.3 L82.4,177.0 L84.4,176.7 L86.4,176.3 L88.4,176.0 L90.4,175.6 L92.4,175.2 L94.4,174.7 L96.4,174.3 L98.4,173.7 L100.4,173.2 L102.4,172.5 L104.4,171.6 L106.4,170.7 L108.4,170.0 L110.4,169.4 L112.4,169.0 L114.4,168.6 L116.4,168.3 L118.4,168.1 L120.4,168.0 L122.4,167.9 L124.4,167.9 L126.4,168.1 L128.4,168.5 L130.4,169.0 L132.4,169.5 L134.4,169.9 L136.4,170.2 L138.4,170.5 L140.4,170.7 L142.4,170.9 L144.4,171.2 L144.7,171.2" fill="none" stroke="#8c1f5c" stroke-width="1.1"/><line x1="16.4" y1="182.7" x2="144.70000000000002" y2="182.7" stroke="#333" stroke-width="0.7" stroke-dasharray="1.7,2.05"/><text transform="translate(49.05,217.80) scale(1,1.15)" font-size="4.4" text-anchor="middle" fill="#3a3a3a" stroke="#3a3a3a" stroke-width="0.08" font-family="Liberation Sans, sans-serif">USCC</text><text transform="translate(67.15,217.80) scale(1,1.15)" font-size="4.4" text-anchor="middle" fill="#3a3a3a" stroke="#3a3a3a" stroke-width="0.08" font-family="Liberation Sans, sans-serif">UCC1</text><text transform="translate(134.55,217.80) scale(1,1.15)" font-size="4.4" text-anchor="middle" fill="#3a3a3a" stroke="#3a3a3a" stroke-width="0.08" font-family="Liberation Sans, sans-serif">UCC2</text></g><rect x="16.4" y="120.3" width="128.3" height="99.6" fill="none" stroke="#c4c4c4" stroke-width="0.6"/><g clip-path="url(#cp11)"><rect x="181.30" y="120.3" width="15.90" height="99.6" fill="#f0f0fd"/><rect x="198.30" y="120.3" width="18.10" height="99.6" fill="#f0f0fd"/><rect x="264.60" y="120.3" width="20.30" height="99.6" fill="#f0f0fd"/><path d="M156.6,137.8 L158.6,138.3 L160.6,138.8 L162.6,139.3 L164.6,139.8 L166.6,140.3 L168.6,140.8 L170.6,141.3 L172.6,141.8 L174.6,142.3 L176.6,142.8 L178.6,143.3 L180.6,143.8 L182.6,144.2 L184.6,144.7 L186.6,145.1 L188.6,145.7 L190.6,146.2 L192.6,146.7 L194.6,147.2 L196.6,147.7 L198.6,148.2 L200.6,148.7 L202.6,149.3 L204.6,149.8 L206.6,150.3 L208.6,150.6 L210.6,150.3 L212.6,150.1 L214.6,149.9 L216.6,149.8 L218.6,149.7 L220.6,149.7 L222.6,149.7 L224.6,149.6 L226.6,149.6 L228.6,149.6 L230.6,149.6 L232.6,149.6 L234.6,149.6 L236.6,149.6 L238.6,149.6 L240.6,149.6 L242.6,149.6 L244.6,149.6 L246.6,149.6 L248.6,149.6 L250.6,149.7 L252.6,149.8 L254.6,149.8 L256.6,149.8 L258.6,149.8 L260.6,149.5 L262.6,148.6 L264.6,147.7 L266.6,146.8 L268.6,145.9 L270.6,145.0 L272.6,144.1 L274.6,143.2 L276.6,142.3 L278.6,141.4 L280.6,140.5 L282.6,139.7 L284.6,138.8 L284.9,138.6 L284.9,197.9 L284.6,197.9 L282.6,197.8 L280.6,197.8 L278.6,197.7 L276.6,197.7 L274.6,197.6 L272.6,197.5 L270.6,197.5 L268.6,197.4 L266.6,197.4 L264.6,197.3 L262.6,197.2 L260.6,197.2 L258.6,197.1 L256.6,197.0 L254.6,197.0 L252.6,196.9 L250.6,196.8 L248.6,196.7 L246.6,196.7 L244.6,196.6 L242.6,196.5 L240.6,196.4 L238.6,196.4 L236.6,196.3 L234.6,196.2 L232.6,196.1 L230.6,196.1 L228.6,196.0 L226.6,195.9 L224.6,195.9 L222.6,195.8 L220.6,195.7 L218.6,195.7 L216.6,195.8 L214.6,195.8 L212.6,195.9 L210.6,195.9 L208.6,196.0 L206.6,196.0 L204.6,196.1 L202.6,196.2 L200.6,196.2 L198.6,196.3 L196.6,196.4 L194.6,196.4 L192.6,196.5 L190.6,196.6 L188.6,196.6 L186.6,196.7 L184.6,196.7 L182.6,196.8 L180.6,196.8 L178.6,196.9 L176.6,196.9 L174.6,197.0 L172.6,197.0 L170.6,197.1 L168.6,197.1 L166.6,197.1 L164.6,197.2 L162.6,197.2 L160.6,197.3 L158.6,197.3 L156.6,197.3 Z" fill="#707078" fill-opacity="0.040"/><path d="M156.6,146.0 L158.6,146.4 L160.6,146.8 L162.6,147.2 L164.6,147.6 L166.6,148.0 L168.6,148.4 L170.6,148.9 L172.6,149.3 L174.6,149.7 L176.6,150.1 L178.6,150.5 L180.6,150.9 L182.6,151.3 L184.6,151.7 L186.6,152.2 L188.6,152.7 L190.6,153.3 L192.6,153.8 L194.6,154.3 L196.6,154.9 L198.6,155.4 L200.6,156.0 L202.6,156.5 L204.6,157.1 L206.6,157.6 L208.6,158.0 L210.6,157.9 L212.6,157.9 L214.6,157.9 L216.6,157.8 L218.6,157.8 L220.6,157.8 L222.6,157.7 L224.6,157.7 L226.6,157.6 L228.6,157.6 L230.6,157.6 L232.6,157.5 L234.6,157.5 L236.6,157.4 L238.6,157.4 L240.6,157.4 L242.6,157.3 L244.6,157.3 L246.6,157.3 L248.6,157.2 L250.6,157.2 L252.6,157.1 L254.6,157.1 L256.6,157.1 L258.6,157.0 L260.6,156.8 L262.6,156.2 L264.6,155.5 L266.6,154.9 L268.6,154.2 L270.6,153.6 L272.6,153.0 L274.6,152.3 L276.6,151.7 L278.6,151.0 L280.6,150.4 L282.6,149.7 L284.6,149.1 L284.9,149.0 L284.9,197.0 L284.6,197.0 L282.6,196.9 L280.6,196.9 L278.6,196.8 L276.6,196.7 L274.6,196.7 L272.6,196.6 L270.6,196.6 L268.6,196.5 L266.6,196.4 L264.6,196.4 L262.6,196.3 L260.6,196.3 L258.6,196.2 L256.6,196.1 L254.6,196.1 L252.6,196.0 L250.6,195.9 L248.6,195.9 L246.6,195.8 L244.6,195.8 L242.6,195.7 L240.6,195.6 L238.6,195.6 L236.6,195.5 L234.6,195.4 L232.6,195.4 L230.6,195.3 L228.6,195.3 L226.6,195.2 L224.6,195.1 L222.6,195.1 L220.6,195.0 L218.6,195.0 L216.6,195.1 L214.6,195.1 L212.6,195.1 L210.6,195.1 L208.6,195.2 L206.6,195.2 L204.6,195.2 L202.6,195.3 L200.6,195.3 L198.6,195.3 L196.6,195.4 L194.6,195.4 L192.6,195.4 L190.6,195.5 L188.6,195.5 L186.6,195.5 L184.6,195.6 L182.6,195.6 L180.6,195.6 L178.6,195.7 L176.6,195.7 L174.6,195.7 L172.6,195.7 L170.6,195.8 L168.6,195.8 L166.6,195.8 L164.6,195.9 L162.6,195.9 L160.6,195.9 L158.6,196.0 L156.6,196.0 Z" fill="#707078" fill-opacity="0.035"/><path d="M156.6,148.3 L158.6,148.7 L160.6,149.1 L162.6,149.5 L164.6,149.9 L166.6,150.2 L168.6,150.6 L170.6,151.0 L172.6,151.4 L174.6,151.8 L176.6,152.2 L178.6,152.5 L180.6,152.9 L182.6,153.3 L184.6,153.7 L186.6,154.2 L188.6,154.7 L190.6,155.3 L192.6,155.8 L194.6,156.4 L196.6,156.9 L198.6,157.5 L200.6,158.1 L202.6,158.6 L204.6,159.2 L206.6,159.7 L208.6,160.1 L210.6,160.1 L212.6,160.1 L214.6,160.1 L216.6,160.1 L218.6,160.1 L220.6,160.1 L222.6,160.0 L224.6,160.0 L226.6,159.9 L228.6,159.9 L230.6,159.8 L232.6,159.8 L234.6,159.7 L236.6,159.7 L238.6,159.7 L240.6,159.6 L242.6,159.6 L244.6,159.5 L246.6,159.4 L248.6,159.4 L250.6,159.3 L252.6,159.2 L254.6,159.2 L256.6,159.1 L258.6,159.1 L260.6,158.9 L262.6,158.3 L264.6,157.8 L266.6,157.2 L268.6,156.6 L270.6,156.1 L272.6,155.5 L274.6,154.9 L276.6,154.3 L278.6,153.8 L280.6,153.2 L282.6,152.6 L284.6,152.0 L284.9,152.0 L284.9,195.2 L284.6,195.2 L282.6,195.1 L280.6,195.0 L278.6,195.0 L276.6,194.9 L274.6,194.8 L272.6,194.8 L270.6,194.7 L268.6,194.7 L266.6,194.6 L264.6,194.5 L262.6,194.5 L260.6,194.4 L258.6,194.3 L256.6,194.3 L254.6,194.2 L252.6,194.2 L250.6,194.2 L248.6,194.2 L246.6,194.2 L244.6,194.1 L242.6,194.1 L240.6,194.0 L238.6,194.0 L236.6,194.0 L234.6,193.9 L232.6,193.9 L230.6,193.8 L228.6,193.8 L226.6,193.7 L224.6,193.7 L222.6,193.6 L220.6,193.6 L218.6,193.6 L216.6,193.6 L214.6,193.6 L212.6,193.6 L210.6,193.6 L208.6,193.6 L206.6,193.5 L204.6,193.5 L202.6,193.5 L200.6,193.4 L198.6,193.4 L196.6,193.4 L194.6,193.3 L192.6,193.3 L190.6,193.3 L188.6,193.2 L186.6,193.2 L184.6,193.2 L182.6,193.2 L180.6,193.2 L178.6,193.2 L176.6,193.2 L174.6,193.2 L172.6,193.2 L170.6,193.2 L168.6,193.2 L166.6,193.3 L164.6,193.3 L162.6,193.3 L160.6,193.3 L158.6,193.3 L156.6,193.3 Z" fill="#707078" fill-opacity="0.035"/><path d="M156.6,150.7 L158.6,151.0 L160.6,151.4 L162.6,151.7 L164.6,152.1 L166.6,152.4 L168.6,152.8 L170.6,153.2 L172.6,153.5 L174.6,153.9 L176.6,154.2 L178.6,154.6 L180.6,155.0 L182.6,155.4 L184.6,155.7 L186.6,156.2 L188.6,156.7 L190.6,157.3 L192.6,157.8 L194.6,158.4 L196.6,159.0 L198.6,159.6 L200.6,160.1 L202.6,160.7 L204.6,161.2 L206.6,161.8 L208.6,162.2 L210.6,162.3 L212.6,162.4 L214.6,162.4 L216.6,162.4 L218.6,162.4 L220.6,162.4 L222.6,162.3 L224.6,162.3 L226.6,162.2 L228.6,162.2 L230.6,162.1 L232.6,162.1 L234.6,162.0 L236.6,161.9 L238.6,161.9 L240.6,161.8 L242.6,161.8 L244.6,161.7 L246.6,161.6 L248.6,161.5 L250.6,161.4 L252.6,161.3 L254.6,161.3 L256.6,161.2 L258.6,161.2 L260.6,161.0 L262.6,160.5 L264.6,160.0 L266.6,159.5 L268.6,159.0 L270.6,158.5 L272.6,158.0 L274.6,157.5 L276.6,157.0 L278.6,156.5 L280.6,156.0 L282.6,155.5 L284.6,155.0 L284.9,154.9 L284.9,193.3 L284.6,193.3 L282.6,193.3 L280.6,193.2 L278.6,193.1 L276.6,193.1 L274.6,193.0 L272.6,193.0 L270.6,192.9 L268.6,192.8 L266.6,192.8 L264.6,192.7 L262.6,192.6 L260.6,192.6 L258.6,192.5 L256.6,192.5 L254.6,192.4 L252.6,192.4 L250.6,192.5 L248.6,192.5 L246.6,192.5 L244.6,192.5 L242.6,192.5 L240.6,192.4 L238.6,192.4 L236.6,192.4 L234.6,192.4 L232.6,192.3 L230.6,192.3 L228.6,192.3 L226.6,192.3 L224.6,192.2 L222.6,192.2 L220.6,192.2 L218.6,192.2 L216.6,192.2 L214.6,192.2 L212.6,192.1 L210.6,192.1 L208.6,192.0 L206.6,191.9 L204.6,191.8 L202.6,191.7 L200.6,191.6 L198.6,191.5 L196.6,191.4 L194.6,191.3 L192.6,191.1 L190.6,191.0 L188.6,190.9 L186.6,190.9 L184.6,190.8 L182.6,190.8 L180.6,190.7 L178.6,190.7 L176.6,190.7 L174.6,190.7 L172.6,190.7 L170.6,190.7 L168.6,190.7 L166.6,190.7 L164.6,190.7 L162.6,190.7 L160.6,190.7 L158.6,190.7 L156.6,190.7 Z" fill="#707078" fill-opacity="0.035"/><path d="M156.6,153.0 L158.6,153.3 L160.6,153.7 L162.6,154.0 L164.6,154.3 L166.6,154.6 L168.6,155.0 L170.6,155.3 L172.6,155.6 L174.6,156.0 L176.6,156.3 L178.6,156.7 L180.6,157.0 L182.6,157.4 L184.6,157.8 L186.6,158.2 L188.6,158.7 L190.6,159.3 L192.6,159.9 L194.6,160.5 L196.6,161.0 L198.6,161.6 L200.6,162.2 L202.6,162.8 L204.6,163.3 L206.6,163.9 L208.6,164.3 L210.6,164.5 L212.6,164.6 L214.6,164.7 L216.6,164.7 L218.6,164.7 L220.6,164.7 L222.6,164.6 L224.6,164.6 L226.6,164.5 L228.6,164.4 L230.6,164.4 L232.6,164.3 L234.6,164.3 L236.6,164.2 L238.6,164.1 L240.6,164.1 L242.6,164.0 L244.6,163.9 L246.6,163.8 L248.6,163.7 L250.6,163.6 L252.6,163.4 L254.6,163.3 L256.6,163.3 L258.6,163.2 L260.6,163.1 L262.6,162.7 L264.6,162.3 L266.6,161.8 L268.6,161.4 L270.6,161.0 L272.6,160.5 L274.6,160.1 L276.6,159.7 L278.6,159.2 L280.6,158.8 L282.6,158.4 L284.6,157.9 L284.9,157.9 L284.9,191.5 L284.6,191.5 L282.6,191.4 L280.6,191.4 L278.6,191.3 L276.6,191.2 L274.6,191.2 L272.6,191.1 L270.6,191.1 L268.6,191.0 L266.6,190.9 L264.6,190.8 L262.6,190.8 L260.6,190.7 L258.6,190.7 L256.6,190.6 L254.6,190.6 L252.6,190.7 L250.6,190.7 L248.6,190.8 L246.6,190.8 L244.6,190.8 L242.6,190.8 L240.6,190.8 L238.6,190.8 L236.6,190.8 L234.6,190.8 L232.6,190.8 L230.6,190.8 L228.6,190.8 L226.6,190.8 L224.6,190.8 L222.6,190.8 L220.6,190.8 L218.6,190.8 L216.6,190.8 L214.6,190.7 L212.6,190.6 L210.6,190.5 L208.6,190.4 L206.6,190.2 L204.6,190.1 L202.6,189.9 L200.6,189.7 L198.6,189.6 L196.6,189.4 L194.6,189.2 L192.6,189.0 L190.6,188.8 L188.6,188.7 L186.6,188.5 L184.6,188.4 L182.6,188.4 L180.6,188.3 L178.6,188.3 L176.6,188.2 L174.6,188.2 L172.6,188.2 L170.6,188.1 L168.6,188.1 L166.6,188.1 L164.6,188.1 L162.6,188.1 L160.6,188.0 L158.6,188.0 L156.6,188.0 Z" fill="#707078" fill-opacity="0.035"/><path d="M156.6,155.3 L158.6,155.6 L160.6,155.9 L162.6,156.2 L164.6,156.5 L166.6,156.8 L168.6,157.1 L170.6,157.4 L172.6,157.7 L174.6,158.1 L176.6,158.4 L178.6,158.7 L180.6,159.0 L182.6,159.4 L184.6,159.8 L186.6,160.2 L188.6,160.7 L190.6,161.3 L192.6,161.9 L194.6,162.5 L196.6,163.1 L198.6,163.7 L200.6,164.3 L202.6,164.8 L204.6,165.4 L206.6,166.0 L208.6,166.5 L210.6,166.7 L212.6,166.8 L214.6,166.9 L216.6,167.0 L218.6,167.0 L220.6,167.0 L222.6,166.9 L224.6,166.9 L226.6,166.8 L228.6,166.7 L230.6,166.6 L232.6,166.6 L234.6,166.5 L236.6,166.4 L238.6,166.4 L240.6,166.3 L242.6,166.2 L244.6,166.1 L246.6,166.0 L248.6,165.9 L250.6,165.7 L252.6,165.6 L254.6,165.4 L256.6,165.4 L258.6,165.3 L260.6,165.2 L262.6,164.8 L264.6,164.5 L266.6,164.2 L268.6,163.8 L270.6,163.4 L272.6,163.1 L274.6,162.7 L276.6,162.4 L278.6,162.0 L280.6,161.6 L282.6,161.3 L284.6,160.9 L284.9,160.8 L284.9,189.6 L284.6,189.6 L282.6,189.6 L280.6,189.5 L278.6,189.5 L276.6,189.4 L274.6,189.3 L272.6,189.3 L270.6,189.2 L268.6,189.2 L266.6,189.1 L264.6,189.0 L262.6,188.9 L260.6,188.9 L258.6,188.8 L256.6,188.8 L254.6,188.8 L252.6,188.9 L250.6,189.0 L248.6,189.1 L246.6,189.1 L244.6,189.2 L242.6,189.2 L240.6,189.2 L238.6,189.3 L236.6,189.3 L234.6,189.3 L232.6,189.3 L230.6,189.3 L228.6,189.3 L226.6,189.3 L224.6,189.3 L222.6,189.4 L220.6,189.3 L218.6,189.4 L216.6,189.3 L214.6,189.3 L212.6,189.1 L210.6,189.0 L208.6,188.8 L206.6,188.6 L204.6,188.3 L202.6,188.1 L200.6,187.9 L198.6,187.6 L196.6,187.4 L194.6,187.1 L192.6,186.9 L190.6,186.6 L188.6,186.4 L186.6,186.2 L184.6,186.1 L182.6,186.0 L180.6,185.9 L178.6,185.8 L176.6,185.7 L174.6,185.7 L172.6,185.6 L170.6,185.6 L168.6,185.6 L166.6,185.5 L164.6,185.5 L162.6,185.5 L160.6,185.4 L158.6,185.4 L156.6,185.3 Z" fill="#707078" fill-opacity="0.035"/><path d="M156.6,157.7 L158.6,157.9 L160.6,158.2 L162.6,158.5 L164.6,158.8 L166.6,159.0 L168.6,159.3 L170.6,159.6 L172.6,159.9 L174.6,160.2 L176.6,160.5 L178.6,160.8 L180.6,161.1 L182.6,161.4 L184.6,161.8 L186.6,162.2 L188.6,162.7 L190.6,163.3 L192.6,163.9 L194.6,164.5 L196.6,165.1 L198.6,165.8 L200.6,166.3 L202.6,166.9 L204.6,167.5 L206.6,168.1 L208.6,168.6 L210.6,168.8 L212.6,169.1 L214.6,169.2 L216.6,169.3 L218.6,169.3 L220.6,169.3 L222.6,169.2 L224.6,169.2 L226.6,169.1 L228.6,169.0 L230.6,168.9 L232.6,168.9 L234.6,168.8 L236.6,168.7 L238.6,168.6 L240.6,168.5 L242.6,168.4 L244.6,168.3 L246.6,168.2 L248.6,168.0 L250.6,167.8 L252.6,167.7 L254.6,167.5 L256.6,167.4 L258.6,167.4 L260.6,167.3 L262.6,167.0 L264.6,166.7 L266.6,166.5 L268.6,166.2 L270.6,165.9 L272.6,165.6 L274.6,165.3 L276.6,165.0 L278.6,164.7 L280.6,164.4 L282.6,164.1 L284.6,163.8 L284.9,163.8 L284.9,187.8 L284.6,187.8 L282.6,187.7 L280.6,187.7 L278.6,187.6 L276.6,187.6 L274.6,187.5 L272.6,187.4 L270.6,187.4 L268.6,187.3 L266.6,187.2 L264.6,187.2 L262.6,187.1 L260.6,187.0 L258.6,187.0 L256.6,187.0 L254.6,187.0 L252.6,187.1 L250.6,187.2 L248.6,187.4 L246.6,187.5 L244.6,187.5 L242.6,187.6 L240.6,187.6 L238.6,187.7 L236.6,187.7 L234.6,187.8 L232.6,187.8 L230.6,187.8 L228.6,187.8 L226.6,187.9 L224.6,187.9 L222.6,187.9 L220.6,187.9 L218.6,187.9 L216.6,187.9 L214.6,187.8 L212.6,187.7 L210.6,187.4 L208.6,187.2 L206.6,186.9 L204.6,186.6 L202.6,186.3 L200.6,186.0 L198.6,185.7 L196.6,185.4 L194.6,185.1 L192.6,184.7 L190.6,184.4 L188.6,184.1 L186.6,183.9 L184.6,183.7 L182.6,183.6 L180.6,183.4 L178.6,183.3 L176.6,183.3 L174.6,183.2 L172.6,183.1 L170.6,183.1 L168.6,183.0 L166.6,182.9 L164.6,182.9 L162.6,182.8 L160.6,182.8 L158.6,182.7 L156.6,182.7 Z" fill="#707078" fill-opacity="0.035"/><path d="M156.6,160.0 L158.6,160.2 L160.6,160.5 L162.6,160.8 L164.6,161.0 L166.6,161.2 L168.6,161.5 L170.6,161.7 L172.6,162.0 L174.6,162.3 L176.6,162.5 L178.6,162.8 L180.6,163.1 L182.6,163.4 L184.6,163.8 L186.6,164.2 L188.6,164.7 L190.6,165.3 L192.6,165.9 L194.6,166.6 L196.6,167.2 L198.6,167.8 L200.6,168.4 L202.6,169.0 L204.6,169.6 L206.6,170.2 L208.6,170.7 L210.6,171.0 L212.6,171.3 L214.6,171.5 L216.6,171.6 L218.6,171.6 L220.6,171.6 L222.6,171.5 L224.6,171.5 L226.6,171.4 L228.6,171.3 L230.6,171.2 L232.6,171.1 L234.6,171.0 L236.6,170.9 L238.6,170.9 L240.6,170.7 L242.6,170.6 L244.6,170.5 L246.6,170.4 L248.6,170.2 L250.6,170.0 L252.6,169.8 L254.6,169.6 L256.6,169.5 L258.6,169.5 L260.6,169.4 L262.6,169.2 L264.6,169.0 L266.6,168.8 L268.6,168.6 L270.6,168.4 L272.6,168.1 L274.6,167.9 L276.6,167.7 L278.6,167.5 L280.6,167.2 L282.6,167.0 L284.6,166.8 L284.9,166.8 L284.9,186.0 L284.6,186.0 L282.6,185.9 L280.6,185.8 L278.6,185.8 L276.6,185.7 L274.6,185.7 L272.6,185.6 L270.6,185.6 L268.6,185.5 L266.6,185.4 L264.6,185.3 L262.6,185.2 L260.6,185.2 L258.6,185.1 L256.6,185.1 L254.6,185.2 L252.6,185.3 L250.6,185.5 L248.6,185.7 L246.6,185.8 L244.6,185.9 L242.6,186.0 L240.6,186.1 L238.6,186.1 L236.6,186.2 L234.6,186.2 L232.6,186.3 L230.6,186.3 L228.6,186.3 L226.6,186.4 L224.6,186.4 L222.6,186.5 L220.6,186.5 L218.6,186.5 L216.6,186.5 L214.6,186.4 L212.6,186.2 L210.6,185.9 L208.6,185.6 L206.6,185.2 L204.6,184.9 L202.6,184.5 L200.6,184.1 L198.6,183.8 L196.6,183.4 L194.6,183.0 L192.6,182.6 L190.6,182.2 L188.6,181.8 L186.6,181.5 L184.6,181.3 L182.6,181.2 L180.6,181.0 L178.6,180.9 L176.6,180.8 L174.6,180.7 L172.6,180.6 L170.6,180.5 L168.6,180.4 L166.6,180.4 L164.6,180.3 L162.6,180.2 L160.6,180.2 L158.6,180.1 L156.6,180.0 Z" fill="#707078" fill-opacity="0.035"/><path d="M156.6,162.3 L158.6,162.6 L160.6,162.8 L162.6,163.0 L164.6,163.2 L166.6,163.4 L168.6,163.7 L170.6,163.9 L172.6,164.1 L174.6,164.3 L176.6,164.6 L178.6,164.9 L180.6,165.2 L182.6,165.5 L184.6,165.8 L186.6,166.2 L188.6,166.7 L190.6,167.3 L192.6,167.9 L194.6,168.6 L196.6,169.3 L198.6,169.9 L200.6,170.5 L202.6,171.1 L204.6,171.7 L206.6,172.3 L208.6,172.8 L210.6,173.2 L212.6,173.5 L214.6,173.7 L216.6,173.9 L218.6,173.9 L220.6,173.9 L222.6,173.9 L224.6,173.8 L226.6,173.6 L228.6,173.5 L230.6,173.5 L232.6,173.4 L234.6,173.3 L236.6,173.2 L238.6,173.1 L240.6,173.0 L242.6,172.9 L244.6,172.7 L246.6,172.6 L248.6,172.4 L250.6,172.1 L252.6,171.9 L254.6,171.7 L256.6,171.6 L258.6,171.5 L260.6,171.5 L262.6,171.4 L264.6,171.2 L266.6,171.1 L268.6,171.0 L270.6,170.8 L272.6,170.7 L274.6,170.5 L276.6,170.4 L278.6,170.2 L280.6,170.1 L282.6,169.9 L284.6,169.7 L284.9,169.7 L284.9,184.1 L284.6,184.1 L282.6,184.1 L280.6,184.0 L278.6,183.9 L276.6,183.9 L274.6,183.8 L272.6,183.8 L270.6,183.7 L268.6,183.7 L266.6,183.6 L264.6,183.5 L262.6,183.4 L260.6,183.3 L258.6,183.3 L256.6,183.3 L254.6,183.4 L252.6,183.5 L250.6,183.7 L248.6,184.0 L246.6,184.1 L244.6,184.3 L242.6,184.4 L240.6,184.5 L238.6,184.5 L236.6,184.6 L234.6,184.7 L232.6,184.7 L230.6,184.8 L228.6,184.8 L226.6,184.9 L224.6,185.0 L222.6,185.1 L220.6,185.1 L218.6,185.1 L216.6,185.0 L214.6,184.9 L212.6,184.7 L210.6,184.4 L208.6,184.0 L206.6,183.6 L204.6,183.1 L202.6,182.7 L200.6,182.3 L198.6,181.9 L196.6,181.4 L194.6,180.9 L192.6,180.4 L190.6,180.0 L188.6,179.6 L186.6,179.2 L184.6,179.0 L182.6,178.7 L180.6,178.6 L178.6,178.4 L176.6,178.3 L174.6,178.2 L172.6,178.1 L170.6,178.0 L168.6,177.9 L166.6,177.8 L164.6,177.7 L162.6,177.6 L160.6,177.5 L158.6,177.4 L156.6,177.3 Z" fill="#707078" fill-opacity="0.035"/><path d="M156.6,164.6 L158.6,164.9 L160.6,165.1 L162.6,165.3 L164.6,165.5 L166.6,165.6 L168.6,165.8 L170.6,166.0 L172.6,166.2 L174.6,166.4 L176.6,166.7 L178.6,166.9 L180.6,167.2 L182.6,167.5 L184.6,167.8 L186.6,168.2 L188.6,168.7 L190.6,169.3 L192.6,170.0 L194.6,170.6 L196.6,171.3 L198.6,171.9 L200.6,172.5 L202.6,173.1 L204.6,173.8 L206.6,174.4 L208.6,174.9 L210.6,175.4 L212.6,175.7 L214.6,176.0 L216.6,176.2 L218.6,176.2 L220.6,176.2 L222.6,176.2 L224.6,176.1 L226.6,175.9 L228.6,175.8 L230.6,175.7 L232.6,175.6 L234.6,175.5 L236.6,175.4 L238.6,175.3 L240.6,175.2 L242.6,175.1 L244.6,174.9 L246.6,174.8 L248.6,174.5 L250.6,174.2 L252.6,174.0 L254.6,173.7 L256.6,173.6 L258.6,173.6 L260.6,173.6 L262.6,173.5 L264.6,173.5 L266.6,173.4 L268.6,173.4 L270.6,173.3 L272.6,173.2 L274.6,173.1 L276.6,173.0 L278.6,173.0 L280.6,172.9 L282.6,172.8 L284.6,172.7 L284.9,172.7 L284.9,182.3 L284.6,182.3 L282.6,182.2 L280.6,182.2 L278.6,182.1 L276.6,182.1 L274.6,182.0 L272.6,181.9 L270.6,181.9 L268.6,181.8 L266.6,181.7 L264.6,181.6 L262.6,181.6 L260.6,181.5 L258.6,181.4 L256.6,181.4 L254.6,181.5 L252.6,181.7 L250.6,182.0 L248.6,182.3 L246.6,182.5 L244.6,182.6 L242.6,182.7 L240.6,182.9 L238.6,183.0 L236.6,183.1 L234.6,183.1 L232.6,183.2 L230.6,183.3 L228.6,183.4 L226.6,183.4 L224.6,183.5 L222.6,183.6 L220.6,183.7 L218.6,183.7 L216.6,183.6 L214.6,183.5 L212.6,183.2 L210.6,182.8 L208.6,182.4 L206.6,181.9 L204.6,181.4 L202.6,180.9 L200.6,180.4 L198.6,179.9 L196.6,179.4 L194.6,178.8 L192.6,178.3 L190.6,177.8 L188.6,177.3 L186.6,176.9 L184.6,176.6 L182.6,176.3 L180.6,176.1 L178.6,176.0 L176.6,175.8 L174.6,175.7 L172.6,175.5 L170.6,175.4 L168.6,175.3 L166.6,175.2 L164.6,175.1 L162.6,175.0 L160.6,174.9 L158.6,174.8 L156.6,174.6 Z" fill="#707078" fill-opacity="0.035"/><path d="M156.6,167.0 L158.6,167.2 L160.6,167.3 L162.6,167.5 L164.6,167.7 L166.6,167.8 L168.6,168.0 L170.6,168.2 L172.6,168.4 L174.6,168.5 L176.6,168.7 L178.6,169.0 L180.6,169.2 L182.6,169.5 L184.6,169.8 L186.6,170.2 L188.6,170.7 L190.6,171.3 L192.6,172.0 L194.6,172.7 L196.6,173.4 L198.6,174.0 L200.6,174.6 L202.6,175.2 L204.6,175.9 L206.6,176.5 L208.6,177.1 L210.6,177.6 L212.6,178.0 L214.6,178.3 L216.6,178.5 L218.6,178.5 L220.6,178.5 L222.6,178.5 L224.6,178.3 L226.6,178.2 L228.6,178.1 L230.6,178.0 L232.6,177.9 L234.6,177.8 L236.6,177.7 L238.6,177.6 L240.6,177.4 L242.6,177.3 L244.6,177.1 L246.6,176.9 L248.6,176.7 L250.6,176.4 L252.6,176.1 L254.6,175.8 L256.6,175.7 L258.6,175.7 L260.6,175.7 L262.6,175.7 L264.6,175.7 L266.6,175.7 L268.6,175.8 L270.6,175.8 L272.6,175.7 L274.6,175.7 L276.6,175.7 L278.6,175.7 L280.6,175.7 L282.6,175.7 L284.6,175.6 L284.9,175.6 L284.9,180.4 L284.6,180.4 L282.6,180.4 L280.6,180.3 L278.6,180.3 L276.6,180.2 L274.6,180.2 L272.6,180.1 L270.6,180.1 L268.6,180.0 L266.6,179.9 L264.6,179.8 L262.6,179.7 L260.6,179.6 L258.6,179.6 L256.6,179.6 L254.6,179.7 L252.6,179.9 L250.6,180.2 L248.6,180.6 L246.6,180.8 L244.6,181.0 L242.6,181.1 L240.6,181.3 L238.6,181.4 L236.6,181.5 L234.6,181.6 L232.6,181.7 L230.6,181.8 L228.6,181.9 L226.6,182.0 L224.6,182.1 L222.6,182.2 L220.6,182.3 L218.6,182.3 L216.6,182.2 L214.6,182.0 L212.6,181.7 L210.6,181.3 L208.6,180.8 L206.6,180.2 L204.6,179.7 L202.6,179.1 L200.6,178.5 L198.6,178.0 L196.6,177.4 L194.6,176.8 L192.6,176.1 L190.6,175.5 L188.6,175.0 L186.6,174.5 L184.6,174.2 L182.6,173.9 L180.6,173.7 L178.6,173.5 L176.6,173.3 L174.6,173.1 L172.6,173.0 L170.6,172.9 L168.6,172.7 L166.6,172.6 L164.6,172.5 L162.6,172.4 L160.6,172.3 L158.6,172.1 L156.6,172.0 Z" fill="#707078" fill-opacity="0.035"/><path d="M156.6,173.9 L181.3,178.5 L197.2,182.1 L216.4,183.1 L241.6,182.5 L264.6,181.8 L284.9,182.6 L284.9,187.1 L264.6,186.4 L241.6,187.1 L216.4,187.7 L197.2,186.7 L181.3,183.1 L156.6,178.5 Z" fill="#707078" fill-opacity="0.045"/><path d="M156.6,176.2 L181.3,180.8 L197.2,184.4 L216.4,185.4 L241.6,184.8 L264.6,184.1 L284.9,184.9" fill="none" stroke="#606068" stroke-opacity="0.40" stroke-width="0.5"/><path d="M156.6,170.2 L181.3,175.5 L197.2,175.8 L216.4,179.7 L241.6,178.1 L264.6,176.0 L284.9,181.9 L284.9,186.3 L264.6,180.5 L241.6,182.6 L216.4,184.1 L197.2,180.3 L181.3,180.0 L156.6,174.6 Z" fill="#707078" fill-opacity="0.045"/><path d="M156.6,172.4 L181.3,177.7 L197.2,178.1 L216.4,181.9 L241.6,180.3 L264.6,178.2 L284.9,184.1" fill="none" stroke="#606068" stroke-opacity="0.40" stroke-width="0.5"/><path d="M156.6,159.7 L181.3,165.8 L197.2,166.1 L216.4,168.5 L241.6,168.0 L264.6,171.9 L284.9,170.1 L284.9,173.1 L264.6,174.9 L241.6,171.1 L216.4,171.6 L197.2,169.1 L181.3,168.8 L156.6,162.7 Z" fill="#707078" fill-opacity="0.045"/><path d="M156.6,161.2 L181.3,167.3 L197.2,167.6 L216.4,170.0 L241.6,169.5 L264.6,173.4 L284.9,171.6" fill="none" stroke="#606068" stroke-opacity="0.40" stroke-width="0.5"/><path d="M156.6,147.9 L181.3,149.6 L197.2,153.9 L216.4,156.6 L241.6,156.4 L264.6,154.2 L284.9,148.1 L284.9,152.9 L264.6,159.1 L241.6,161.2 L216.4,161.4 L197.2,158.7 L181.3,154.5 L156.6,152.8 Z" fill="#707078" fill-opacity="0.045"/><path d="M156.6,150.4 L181.3,152.1 L197.2,156.3 L216.4,159.0 L241.6,158.8 L264.6,156.6 L284.9,150.5" fill="none" stroke="#606068" stroke-opacity="0.40" stroke-width="0.5"/><path d="M156.6,178.4 L181.3,175.0 L197.2,184.0 L216.4,182.8 L241.6,182.7 L264.6,185.5 L284.9,185.8 L284.9,192.9 L264.6,192.6 L241.6,189.8 L216.4,189.9 L197.2,191.2 L181.3,182.1 L156.6,185.5 Z" fill="#707078" fill-opacity="0.045"/><path d="M156.6,182.0 L181.3,178.5 L197.2,187.6 L216.4,186.3 L241.6,186.2 L264.6,189.0 L284.9,189.3" fill="none" stroke="#606068" stroke-opacity="0.40" stroke-width="0.5"/><path d="M156.6,166.5 L181.3,167.7 L197.2,174.9 L216.4,175.0 L241.6,175.0 L264.6,173.8 L284.9,175.9 L284.9,183.8 L264.6,181.7 L241.6,182.8 L216.4,182.9 L197.2,182.8 L181.3,175.6 L156.6,174.3 Z" fill="#707078" fill-opacity="0.045"/><path d="M156.6,170.4 L181.3,171.7 L197.2,178.9 L216.4,179.0 L241.6,178.9 L264.6,177.8 L284.9,179.9" fill="none" stroke="#606068" stroke-opacity="0.20" stroke-width="0.5"/><path d="M156.6,154.8 L181.3,162.2 L197.2,165.9 L216.4,170.1 L241.6,169.8 L264.6,163.0 L284.9,160.8 L284.9,165.0 L264.6,167.3 L241.6,174.1 L216.4,174.3 L197.2,170.1 L181.3,166.4 L156.6,159.1 Z" fill="#707078" fill-opacity="0.045"/><path d="M156.6,157.0 L181.3,164.3 L197.2,168.0 L216.4,172.2 L241.6,172.0 L264.6,165.1 L284.9,162.9" fill="none" stroke="#606068" stroke-opacity="0.20" stroke-width="0.5"/><path d="M156.6,147.4 L181.3,150.5 L197.2,154.3 L216.4,158.7 L241.6,159.4 L264.6,153.6 L284.9,157.6 L284.9,164.8 L264.6,160.7 L241.6,166.6 L216.4,165.8 L197.2,161.5 L181.3,157.6 L156.6,154.5 Z" fill="#707078" fill-opacity="0.045"/><path d="M156.6,151.0 L181.3,154.1 L197.2,157.9 L216.4,162.3 L241.6,163.0 L264.6,157.1 L284.9,161.2" fill="none" stroke="#606068" stroke-opacity="0.20" stroke-width="0.5"/><path d="M156.6,152.1 L181.3,153.4 L197.2,162.7 L216.4,164.4 L241.6,164.9 L264.6,162.1 L284.9,154.6 L284.9,158.5 L264.6,165.9 L241.6,168.8 L216.4,168.2 L197.2,166.5 L181.3,157.2 L156.6,156.0 Z" fill="#707078" fill-opacity="0.045"/><path d="M156.6,154.0 L181.3,155.3 L197.2,164.6 L216.4,166.3 L241.6,166.9 L264.6,164.0 L284.9,156.6" fill="none" stroke="#606068" stroke-opacity="0.20" stroke-width="0.5"/><path d="M156.6,166.0 L181.3,173.2 L197.2,178.2 L216.4,176.1 L241.6,178.6 L264.6,181.0 L284.9,177.6 L284.9,181.5 L264.6,184.9 L241.6,182.5 L216.4,180.0 L197.2,182.1 L181.3,177.1 L156.6,169.8 Z" fill="#707078" fill-opacity="0.045"/><path d="M156.6,167.9 L181.3,175.2 L197.2,180.1 L216.4,178.0 L241.6,180.6 L264.6,183.0 L284.9,179.5" fill="none" stroke="#606068" stroke-opacity="0.20" stroke-width="0.5"/><path d="M156.6,172.6 L181.3,174.8 L197.2,179.5 L216.4,182.0 L241.6,181.2 L264.6,181.1 L284.9,184.4 L284.9,192.0 L264.6,188.7 L241.6,188.8 L216.4,189.6 L197.2,187.1 L181.3,182.4 L156.6,180.2 Z" fill="#707078" fill-opacity="0.045"/><path d="M156.6,176.4 L181.3,178.6 L197.2,183.3 L216.4,185.8 L241.6,185.0 L264.6,184.9 L284.9,188.2" fill="none" stroke="#606068" stroke-opacity="0.20" stroke-width="0.5"/><path d="M156.6,159.0 L181.3,162.2 L197.2,164.7 L216.4,170.1 L241.6,169.7 L264.6,163.9 L284.9,160.3 L284.9,164.2 L264.6,167.8 L241.6,173.6 L216.4,174.0 L197.2,168.6 L181.3,166.2 L156.6,162.9 Z" fill="#707078" fill-opacity="0.045"/><path d="M156.6,160.9 L181.3,164.2 L197.2,166.7 L216.4,172.1 L241.6,171.7 L264.6,165.8 L284.9,162.2" fill="none" stroke="#606068" stroke-opacity="0.20" stroke-width="0.5"/><path d="M156.6,171.6 L181.3,171.4 L197.2,176.8 L216.4,183.0 L241.6,184.1 L264.6,178.1 L284.9,177.9 L284.9,185.5 L264.6,185.6 L241.6,191.7 L216.4,190.6 L197.2,184.3 L181.3,179.0 L156.6,179.2 Z" fill="#707078" fill-opacity="0.045"/><path d="M156.6,175.4 L181.3,175.2 L197.2,180.5 L216.4,186.8 L241.6,187.9 L264.6,181.8 L284.9,181.7" fill="none" stroke="#606068" stroke-opacity="0.20" stroke-width="0.5"/><path d="M156.6,153.5 L181.3,160.8 L197.2,161.6 L216.4,171.7 L241.6,172.4 L264.6,163.8 L284.9,162.9 L284.9,170.7 L264.6,171.6 L241.6,180.1 L216.4,179.5 L197.2,169.4 L181.3,168.6 L156.6,161.3 Z" fill="#707078" fill-opacity="0.045"/><path d="M156.6,157.4 L181.3,164.7 L197.2,165.5 L216.4,175.6 L241.6,176.2 L264.6,167.7 L284.9,166.8" fill="none" stroke="#606068" stroke-opacity="0.20" stroke-width="0.5"/><path d="M156.6,180.2 L181.3,178.3 L197.2,184.9 L216.4,185.2 L241.6,183.2 L264.6,180.0 L284.9,182.2 L284.9,187.6 L264.6,185.4 L241.6,188.5 L216.4,190.6 L197.2,190.2 L181.3,183.6 L156.6,185.6 Z" fill="#707078" fill-opacity="0.045"/><path d="M156.6,182.9 L181.3,180.9 L197.2,187.5 L216.4,187.9 L241.6,185.8 L264.6,182.7 L284.9,184.9" fill="none" stroke="#606068" stroke-opacity="0.20" stroke-width="0.5"/><path d="M156.6,167.4 L181.3,167.5 L197.2,169.6 L216.4,181.5 L241.6,173.9 L264.6,173.4 L284.9,180.0 L284.9,184.6 L264.6,177.9 L241.6,178.5 L216.4,186.1 L197.2,174.2 L181.3,172.0 L156.6,171.9 Z" fill="#707078" fill-opacity="0.045"/><path d="M156.6,169.7 L181.3,169.8 L197.2,171.9 L216.4,183.8 L241.6,176.2 L264.6,175.7 L284.9,182.3" fill="none" stroke="#606068" stroke-opacity="0.20" stroke-width="0.5"/><path d="M156.6,172.7 L181.3,174.6 L197.2,177.7 L216.4,178.1 L241.6,178.6 L264.6,179.8 L284.9,175.1 L284.9,183.1 L264.6,187.9 L241.6,186.6 L216.4,186.1 L197.2,185.7 L181.3,182.6 L156.6,180.7 Z" fill="#707078" fill-opacity="0.045"/><path d="M156.6,176.7 L181.3,178.6 L197.2,181.7 L216.4,182.1 L241.6,182.6 L264.6,183.9 L284.9,179.1" fill="none" stroke="#606068" stroke-opacity="0.20" stroke-width="0.5"/><path d="M156.6,166.3 L181.3,168.8 L197.2,174.6 L216.4,181.4 L241.6,176.8 L264.6,174.2 L284.9,174.8 L284.9,183.5 L264.6,182.9 L241.6,185.5 L216.4,190.1 L197.2,183.3 L181.3,177.5 L156.6,175.0 Z" fill="#707078" fill-opacity="0.045"/><path d="M156.6,170.7 L181.3,173.1 L197.2,179.0 L216.4,185.7 L241.6,181.2 L264.6,178.6 L284.9,179.1" fill="none" stroke="#606068" stroke-opacity="0.20" stroke-width="0.5"/><path d="M156.6,170.0 L181.3,180.2 L197.2,180.0 L216.4,181.9 L241.6,180.7 L264.6,180.6 L284.9,178.4 L284.9,186.1 L264.6,188.2 L241.6,188.3 L216.4,189.5 L197.2,187.7 L181.3,187.9 L156.6,177.7 Z" fill="#707078" fill-opacity="0.045"/><path d="M156.6,173.9 L181.3,184.1 L197.2,183.8 L216.4,185.7 L241.6,184.5 L264.6,184.4 L284.9,182.3" fill="none" stroke="#606068" stroke-opacity="0.20" stroke-width="0.5"/><path d="M156.6,152.2 L181.3,158.0 L197.2,165.7 L216.4,164.1 L241.6,160.9 L264.6,165.8 L284.9,153.5 L284.9,156.6 L264.6,168.9 L241.6,164.0 L216.4,167.2 L197.2,168.8 L181.3,161.1 L156.6,155.3 Z" fill="#707078" fill-opacity="0.045"/><path d="M156.6,153.7 L181.3,159.6 L197.2,167.3 L216.4,165.7 L241.6,162.4 L264.6,167.3 L284.9,155.0" fill="none" stroke="#606068" stroke-opacity="0.20" stroke-width="0.5"/><path d="M156.6,166.0 L181.3,168.6 L197.2,173.9 L216.4,180.8 L241.6,180.1 L264.6,179.5 L284.9,176.1 L284.9,179.2 L264.6,182.6 L241.6,183.2 L216.4,183.9 L197.2,177.1 L181.3,171.7 L156.6,169.1 Z" fill="#707078" fill-opacity="0.045"/><path d="M156.6,167.6 L181.3,170.1 L197.2,175.5 L216.4,182.4 L241.6,181.6 L264.6,181.1 L284.9,177.6" fill="none" stroke="#606068" stroke-opacity="0.20" stroke-width="0.5"/><path d="M156.6,176.6 L181.3,180.5 L197.2,186.1 L216.4,185.5 L241.6,181.9 L264.6,183.9 L284.9,186.4 L284.9,190.2 L264.6,187.8 L241.6,185.7 L216.4,189.3 L197.2,189.9 L181.3,184.3 L156.6,180.4 Z" fill="#707078" fill-opacity="0.045"/><path d="M156.6,178.5 L181.3,182.4 L197.2,188.0 L216.4,187.4 L241.6,183.8 L264.6,185.8 L284.9,188.3" fill="none" stroke="#606068" stroke-opacity="0.20" stroke-width="0.5"/><path d="M156.6,169.4 L181.3,170.9 L197.2,176.5 L216.4,177.1 L241.6,174.3 L264.6,175.3 L284.9,174.5 L284.9,179.3 L264.6,180.0 L241.6,179.1 L216.4,181.9 L197.2,181.2 L181.3,175.6 L156.6,174.1 Z" fill="#707078" fill-opacity="0.045"/><path d="M156.6,171.7 L181.3,173.2 L197.2,178.8 L216.4,179.5 L241.6,176.7 L264.6,177.6 L284.9,176.9" fill="none" stroke="#606068" stroke-opacity="0.20" stroke-width="0.5"/><path d="M156.6,146.5 L181.3,150.1 L197.2,157.5 L216.4,157.0 L241.6,156.5 L264.6,154.6 L284.9,151.1 L284.9,155.1 L264.6,158.6 L241.6,160.5 L216.4,161.0 L197.2,161.5 L181.3,154.1 L156.6,150.5 Z" fill="#707078" fill-opacity="0.045"/><path d="M156.6,148.5 L181.3,152.1 L197.2,159.5 L216.4,159.0 L241.6,158.5 L264.6,156.6 L284.9,153.1" fill="none" stroke="#606068" stroke-opacity="0.20" stroke-width="0.5"/><path d="M156.6,144.9 L181.3,151.7 L197.2,154.3 L216.4,156.7 L241.6,156.2 L264.6,158.3 L284.9,148.2 L284.9,152.7 L264.6,162.8 L241.6,160.7 L216.4,161.2 L197.2,158.8 L181.3,156.2 L156.6,149.4 Z" fill="#707078" fill-opacity="0.045"/><path d="M156.6,147.2 L181.3,153.9 L197.2,156.5 L216.4,159.0 L241.6,158.5 L264.6,160.5 L284.9,150.5" fill="none" stroke="#606068" stroke-opacity="0.20" stroke-width="0.5"/><path d="M156.6,179.5 L181.3,182.5 L197.2,186.5 L216.4,184.9 L241.6,187.3 L264.6,187.5 L284.9,187.9 L284.9,192.1 L264.6,191.7 L241.6,191.5 L216.4,189.1 L197.2,190.6 L181.3,186.6 L156.6,183.7 Z" fill="#707078" fill-opacity="0.045"/><path d="M156.6,181.6 L181.3,184.6 L197.2,188.6 L216.4,187.0 L241.6,189.4 L264.6,189.6 L284.9,190.0" fill="none" stroke="#606068" stroke-opacity="0.20" stroke-width="0.5"/><path d="M156.6,154.4 L181.3,153.0 L197.2,159.1 L216.4,164.2 L241.6,160.2 L264.6,163.1 L284.9,164.1 L284.9,171.1 L264.6,170.1 L241.6,167.1 L216.4,171.1 L197.2,166.1 L181.3,160.0 L156.6,161.4 Z" fill="#707078" fill-opacity="0.045"/><path d="M156.6,157.9 L181.3,156.5 L197.2,162.6 L216.4,167.6 L241.6,163.7 L264.6,166.6 L284.9,167.6" fill="none" stroke="#606068" stroke-opacity="0.20" stroke-width="0.5"/><path d="M156.6,177.5 L181.3,178.1 L197.2,185.2 L216.4,188.6 L241.6,183.2 L264.6,187.7 L284.9,183.1 L284.9,188.9 L264.6,193.5 L241.6,189.1 L216.4,194.5 L197.2,191.0 L181.3,184.0 L156.6,183.4 Z" fill="#707078" fill-opacity="0.045"/><path d="M156.6,180.5 L181.3,181.1 L197.2,188.1 L216.4,191.5 L241.6,186.1 L264.6,190.6 L284.9,186.0" fill="none" stroke="#606068" stroke-opacity="0.20" stroke-width="0.5"/><path d="M156.6,148.1 L181.3,158.4 L197.2,161.1 L216.4,163.9 L241.6,165.2 L264.6,156.9 L284.9,160.1 L284.9,164.5 L264.6,161.4 L241.6,169.6 L216.4,168.3 L197.2,165.5 L181.3,162.8 L156.6,152.5 Z" fill="#707078" fill-opacity="0.045"/><path d="M156.6,150.3 L181.3,160.6 L197.2,163.3 L216.4,166.1 L241.6,167.4 L264.6,159.1 L284.9,162.3" fill="none" stroke="#606068" stroke-opacity="0.20" stroke-width="0.5"/><path d="M156.6,177.3 L181.3,171.8 L197.2,180.0 L216.4,180.5 L241.6,182.8 L264.6,177.2 L284.9,178.1 L284.9,186.7 L264.6,185.9 L241.6,191.5 L216.4,189.2 L197.2,188.6 L181.3,180.4 L156.6,185.9 Z" fill="#707078" fill-opacity="0.045"/><path d="M156.6,181.6 L181.3,176.1 L197.2,184.3 L216.4,184.8 L241.6,187.2 L264.6,181.6 L284.9,182.4" fill="none" stroke="#606068" stroke-opacity="0.20" stroke-width="0.5"/><path d="M156.6,179.8 L181.3,180.0 L197.2,185.0 L216.4,184.4 L241.6,186.6 L264.6,184.6 L284.9,183.3 L284.9,191.2 L264.6,192.6 L241.6,194.5 L216.4,192.4 L197.2,192.9 L181.3,187.9 L156.6,187.8 Z" fill="#707078" fill-opacity="0.045"/><path d="M156.6,183.8 L181.3,184.0 L197.2,188.9 L216.4,188.4 L241.6,190.5 L264.6,188.6 L284.9,187.2" fill="none" stroke="#606068" stroke-opacity="0.20" stroke-width="0.5"/><path d="M156.6,172.3 L181.3,167.6 L197.2,177.6 L216.4,180.3 L241.6,179.6 L264.6,178.7 L284.9,178.1 L284.9,181.8 L264.6,182.4 L241.6,183.3 L216.4,184.0 L197.2,181.3 L181.3,171.3 L156.6,176.0 Z" fill="#707078" fill-opacity="0.045"/><path d="M156.6,174.2 L181.3,169.4 L197.2,179.4 L216.4,182.1 L241.6,181.5 L264.6,180.5 L284.9,179.9" fill="none" stroke="#606068" stroke-opacity="0.20" stroke-width="0.5"/><path d="M156.6,165.3 L181.3,166.1 L197.2,173.3 L216.4,179.9 L241.6,178.6 L264.6,177.8 L284.9,178.8 L284.9,183.6 L264.6,182.6 L241.6,183.4 L216.4,184.7 L197.2,178.1 L181.3,170.9 L156.6,170.1 Z" fill="#707078" fill-opacity="0.045"/><path d="M156.6,167.7 L181.3,168.5 L197.2,175.7 L216.4,182.3 L241.6,181.0 L264.6,180.2 L284.9,181.2" fill="none" stroke="#606068" stroke-opacity="0.20" stroke-width="0.5"/><path d="M156.6,161.5 L181.3,165.5 L197.2,168.4 L216.4,176.8 L241.6,177.6 L264.6,173.6 L284.9,172.8 L284.9,181.8 L264.6,182.6 L241.6,186.6 L216.4,185.8 L197.2,177.4 L181.3,174.5 L156.6,170.5 Z" fill="#707078" fill-opacity="0.045"/><path d="M156.6,166.0 L181.3,170.0 L197.2,172.9 L216.4,181.3 L241.6,182.1 L264.6,178.1 L284.9,177.3" fill="none" stroke="#606068" stroke-opacity="0.20" stroke-width="0.5"/><path d="M156.6,166.3 L158.6,166.5 L160.6,166.6 L162.6,166.8 L164.6,166.9 L166.6,167.0 L168.6,167.1 L170.6,167.3 L172.6,167.4 L174.6,167.6 L176.6,167.8 L178.6,168.0 L180.6,168.2 L182.6,168.4 L184.6,168.7 L186.6,169.1 L188.6,169.6 L190.6,170.2 L192.6,170.9 L194.6,171.6 L196.6,172.3 L198.6,172.9 L200.6,173.5 L202.6,174.1 L204.6,174.8 L206.6,175.4 L208.6,176.0 L210.6,176.5 L212.6,177.0 L214.6,177.3 L216.6,177.6 L218.6,177.7 L220.6,177.7 L222.6,177.6 L224.6,177.5 L226.6,177.3 L228.6,177.2 L230.6,177.1 L232.6,177.0 L234.6,176.9 L236.6,176.8 L238.6,176.7 L240.6,176.5 L242.6,176.4 L244.6,176.2 L246.6,176.0 L248.6,175.7 L250.6,175.4 L252.6,175.0 L254.6,174.8 L256.6,174.7 L258.6,174.6 L260.6,174.7 L262.6,174.7 L264.6,174.8 L266.6,175.0 L268.6,175.0 L270.6,175.1 L272.6,175.2 L274.6,175.2 L276.6,175.3 L278.6,175.3 L280.6,175.4 L282.6,175.4 L284.6,175.5 L284.9,175.5 L284.9,181.7 L284.6,181.7 L282.6,181.6 L280.6,181.6 L278.6,181.5 L276.6,181.5 L274.6,181.4 L272.6,181.4 L270.6,181.3 L268.6,181.3 L266.6,181.2 L264.6,181.1 L262.6,181.0 L260.6,180.9 L258.6,180.9 L256.6,180.9 L254.6,181.0 L252.6,181.3 L250.6,181.6 L248.6,182.0 L246.6,182.3 L244.6,182.5 L242.6,182.7 L240.6,182.8 L238.6,183.0 L236.6,183.1 L234.6,183.2 L232.6,183.3 L230.6,183.4 L228.6,183.5 L226.6,183.7 L224.6,183.8 L222.6,184.0 L220.6,184.0 L218.6,184.0 L216.6,184.0 L214.6,183.7 L212.6,183.4 L210.6,182.9 L208.6,182.4 L206.6,181.7 L204.6,181.1 L202.6,180.5 L200.6,179.8 L198.6,179.2 L196.6,178.5 L194.6,177.8 L192.6,177.1 L190.6,176.4 L188.6,175.8 L186.6,175.3 L184.6,174.9 L182.6,174.6 L180.6,174.3 L178.6,174.1 L176.6,173.9 L174.6,173.7 L172.6,173.5 L170.6,173.4 L168.6,173.2 L166.6,173.1 L164.6,172.9 L162.6,172.8 L160.6,172.6 L158.6,172.5 L156.6,172.3 Z" fill="#e47cb6" fill-opacity="0.8"/><path d="M156.6,169.3 L158.6,169.5 L160.6,169.6 L162.6,169.8 L164.6,169.9 L166.6,170.0 L168.6,170.2 L170.6,170.3 L172.6,170.5 L174.6,170.6 L176.6,170.8 L178.6,171.0 L180.6,171.3 L182.6,171.5 L184.6,171.8 L186.6,172.2 L188.6,172.7 L190.6,173.3 L192.6,174.0 L194.6,174.7 L196.6,175.4 L198.6,176.1 L200.6,176.7 L202.6,177.3 L204.6,177.9 L206.6,178.6 L208.6,179.2 L210.6,179.7 L212.6,180.2 L214.6,180.5 L216.6,180.8 L218.6,180.8 L220.6,180.8 L222.6,180.8 L224.6,180.6 L226.6,180.5 L228.6,180.4 L230.6,180.3 L232.6,180.2 L234.6,180.1 L236.6,179.9 L238.6,179.8 L240.6,179.7 L242.6,179.5 L244.6,179.3 L246.6,179.1 L248.6,178.8 L250.6,178.5 L252.6,178.2 L254.6,177.9 L256.6,177.8 L258.6,177.8 L260.6,177.8 L262.6,177.9 L264.6,178.0 L266.6,178.1 L268.6,178.2 L270.6,178.2 L272.6,178.3 L274.6,178.3 L276.6,178.4 L278.6,178.4 L280.6,178.5 L282.6,178.5 L284.6,178.6 L284.9,178.6" fill="none" stroke="#8c1f5c" stroke-width="1.1"/><line x1="156.6" y1="182.7" x2="284.9" y2="182.7" stroke="#333" stroke-width="0.7" stroke-dasharray="1.7,2.05"/><text transform="translate(189.25,217.80) scale(1,1.15)" font-size="4.4" text-anchor="middle" fill="#3a3a3a" stroke="#3a3a3a" stroke-width="0.08" font-family="Liberation Sans, sans-serif">USCC</text><text transform="translate(207.35,217.80) scale(1,1.15)" font-size="4.4" text-anchor="middle" fill="#3a3a3a" stroke="#3a3a3a" stroke-width="0.08" font-family="Liberation Sans, sans-serif">UCC1</text><text transform="translate(274.75,217.80) scale(1,1.15)" font-size="4.4" text-anchor="middle" fill="#3a3a3a" stroke="#3a3a3a" stroke-width="0.08" font-family="Liberation Sans, sans-serif">UCC2</text></g><rect x="156.6" y="120.3" width="128.3" height="99.6" fill="none" stroke="#c4c4c4" stroke-width="0.6"/><g clip-path="url(#cp12)"><rect x="321.60" y="120.3" width="15.90" height="99.6" fill="#f0f0fd"/><rect x="338.60" y="120.3" width="18.10" height="99.6" fill="#f0f0fd"/><rect x="404.90" y="120.3" width="20.30" height="99.6" fill="#f0f0fd"/><path d="M296.9,142.1 L298.9,142.6 L300.9,143.1 L302.9,143.6 L304.9,144.1 L306.9,144.6 L308.9,145.2 L310.9,145.7 L312.9,146.2 L314.9,146.7 L316.9,147.2 L318.9,147.7 L320.9,148.1 L322.9,148.6 L324.9,149.0 L326.9,149.4 L328.9,149.6 L330.9,149.9 L332.9,150.2 L334.9,150.5 L336.9,150.8 L338.9,151.1 L340.9,151.5 L342.9,151.8 L344.9,152.3 L346.9,152.7 L348.9,153.2 L350.9,153.7 L352.9,153.8 L354.9,153.4 L356.9,152.9 L358.9,152.6 L360.9,152.2 L362.9,151.8 L364.9,151.4 L366.9,151.1 L368.9,150.8 L370.9,150.4 L372.9,150.1 L374.9,149.8 L376.9,149.5 L378.9,149.2 L380.9,148.5 L382.9,147.2 L384.9,145.9 L386.9,144.6 L388.9,143.3 L390.9,142.0 L392.9,140.7 L394.9,139.5 L396.9,138.2 L398.9,136.9 L400.9,135.6 L402.9,134.3 L404.9,132.9 L406.9,132.1 L408.9,131.4 L410.9,130.6 L412.9,129.8 L414.9,129.0 L416.9,128.2 L418.9,127.4 L420.9,126.6 L422.9,125.8 L424.9,125.0 L425.2,124.9 L425.2,195.1 L424.9,195.1 L422.9,195.1 L420.9,195.1 L418.9,195.0 L416.9,195.0 L414.9,195.0 L412.9,194.9 L410.9,194.9 L408.9,194.8 L406.9,194.8 L404.9,194.8 L402.9,194.7 L400.9,194.7 L398.9,194.6 L396.9,194.6 L394.9,194.5 L392.9,194.5 L390.9,194.4 L388.9,194.4 L386.9,194.3 L384.9,194.3 L382.9,194.2 L380.9,194.2 L378.9,194.1 L376.9,194.1 L374.9,194.1 L372.9,194.0 L370.9,194.0 L368.9,193.9 L366.9,193.9 L364.9,193.8 L362.9,193.8 L360.9,193.8 L358.9,193.7 L356.9,193.7 L354.9,193.7 L352.9,193.7 L350.9,193.6 L348.9,193.6 L346.9,193.6 L344.9,193.5 L342.9,193.5 L340.9,193.5 L338.9,193.5 L336.9,193.5 L334.9,193.5 L332.9,193.5 L330.9,193.5 L328.9,193.5 L326.9,193.5 L324.9,193.5 L322.9,193.5 L320.9,193.5 L318.9,193.5 L316.9,193.5 L314.9,193.5 L312.9,193.5 L310.9,193.4 L308.9,193.4 L306.9,193.4 L304.9,193.4 L302.9,193.4 L300.9,193.4 L298.9,193.4 L296.9,193.4 Z" fill="#707078" fill-opacity="0.040"/><path d="M296.9,148.0 L298.9,148.5 L300.9,149.0 L302.9,149.4 L304.9,149.9 L306.9,150.4 L308.9,150.9 L310.9,151.4 L312.9,151.8 L314.9,152.3 L316.9,152.8 L318.9,153.3 L320.9,153.8 L322.9,154.3 L324.9,154.7 L326.9,155.2 L328.9,155.6 L330.9,155.9 L332.9,156.3 L334.9,156.7 L336.9,157.1 L338.9,157.5 L340.9,157.9 L342.9,158.2 L344.9,158.6 L346.9,159.0 L348.9,159.4 L350.9,159.8 L352.9,159.9 L354.9,159.6 L356.9,159.3 L358.9,159.0 L360.9,158.7 L362.9,158.4 L364.9,158.2 L366.9,157.9 L368.9,157.6 L370.9,157.3 L372.9,157.0 L374.9,156.7 L376.9,156.4 L378.9,156.2 L380.9,155.5 L382.9,154.5 L384.9,153.5 L386.9,152.4 L388.9,151.4 L390.9,150.3 L392.9,149.3 L394.9,148.3 L396.9,147.2 L398.9,146.2 L400.9,145.1 L402.9,144.1 L404.9,143.1 L406.9,142.4 L408.9,141.8 L410.9,141.2 L412.9,140.7 L414.9,140.1 L416.9,139.5 L418.9,138.9 L420.9,138.3 L422.9,137.7 L424.9,137.1 L425.2,137.0 L425.2,194.0 L424.9,194.0 L422.9,194.0 L420.9,193.9 L418.9,193.9 L416.9,193.9 L414.9,193.8 L412.9,193.8 L410.9,193.8 L408.9,193.7 L406.9,193.7 L404.9,193.7 L402.9,193.7 L400.9,193.6 L398.9,193.6 L396.9,193.6 L394.9,193.5 L392.9,193.5 L390.9,193.5 L388.9,193.4 L386.9,193.4 L384.9,193.4 L382.9,193.3 L380.9,193.3 L378.9,193.3 L376.9,193.2 L374.9,193.2 L372.9,193.2 L370.9,193.2 L368.9,193.1 L366.9,193.1 L364.9,193.1 L362.9,193.0 L360.9,193.0 L358.9,193.0 L356.9,192.9 L354.9,192.9 L352.9,192.9 L350.9,192.8 L348.9,192.8 L346.9,192.8 L344.9,192.7 L342.9,192.7 L340.9,192.7 L338.9,192.7 L336.9,192.6 L334.9,192.6 L332.9,192.6 L330.9,192.5 L328.9,192.5 L326.9,192.5 L324.9,192.4 L322.9,192.4 L320.9,192.4 L318.9,192.3 L316.9,192.3 L314.9,192.3 L312.9,192.2 L310.9,192.2 L308.9,192.2 L306.9,192.2 L304.9,192.1 L302.9,192.1 L300.9,192.1 L298.9,192.0 L296.9,192.0 Z" fill="#707078" fill-opacity="0.035"/><path d="M296.9,149.7 L298.9,150.2 L300.9,150.6 L302.9,151.1 L304.9,151.6 L306.9,152.1 L308.9,152.5 L310.9,153.0 L312.9,153.5 L314.9,153.9 L316.9,154.4 L318.9,154.9 L320.9,155.4 L322.9,155.9 L324.9,156.4 L326.9,156.8 L328.9,157.2 L330.9,157.7 L332.9,158.1 L334.9,158.5 L336.9,158.9 L338.9,159.3 L340.9,159.7 L342.9,160.1 L344.9,160.5 L346.9,160.8 L348.9,161.2 L350.9,161.5 L352.9,161.6 L354.9,161.4 L356.9,161.1 L358.9,160.9 L360.9,160.6 L362.9,160.3 L364.9,160.1 L366.9,159.8 L368.9,159.5 L370.9,159.3 L372.9,159.0 L374.9,158.7 L376.9,158.4 L378.9,158.1 L380.9,157.5 L382.9,156.6 L384.9,155.6 L386.9,154.6 L388.9,153.7 L390.9,152.7 L392.9,151.7 L394.9,150.8 L396.9,149.8 L398.9,148.8 L400.9,147.9 L402.9,146.9 L404.9,145.9 L406.9,145.4 L408.9,144.8 L410.9,144.3 L412.9,143.8 L414.9,143.2 L416.9,142.7 L418.9,142.1 L420.9,141.6 L422.9,141.1 L424.9,140.5 L425.2,140.4 L425.2,191.8 L424.9,191.7 L422.9,191.7 L420.9,191.7 L418.9,191.7 L416.9,191.6 L414.9,191.6 L412.9,191.6 L410.9,191.6 L408.9,191.5 L406.9,191.5 L404.9,191.5 L402.9,191.5 L400.9,191.5 L398.9,191.5 L396.9,191.5 L394.9,191.5 L392.9,191.5 L390.9,191.5 L388.9,191.5 L386.9,191.5 L384.9,191.5 L382.9,191.5 L380.9,191.5 L378.9,191.5 L376.9,191.5 L374.9,191.5 L372.9,191.5 L370.9,191.5 L368.9,191.5 L366.9,191.5 L364.9,191.5 L362.9,191.5 L360.9,191.4 L358.9,191.4 L356.9,191.4 L354.9,191.4 L352.9,191.3 L350.9,191.3 L348.9,191.2 L346.9,191.2 L344.9,191.2 L342.9,191.1 L340.9,191.0 L338.9,191.0 L336.9,190.9 L334.9,190.8 L332.9,190.7 L330.9,190.6 L328.9,190.5 L326.9,190.4 L324.9,190.3 L322.9,190.2 L320.9,190.1 L318.9,190.0 L316.9,190.0 L314.9,189.9 L312.9,189.8 L310.9,189.8 L308.9,189.7 L306.9,189.6 L304.9,189.6 L302.9,189.5 L300.9,189.4 L298.9,189.4 L296.9,189.3 Z" fill="#707078" fill-opacity="0.035"/><path d="M296.9,151.4 L298.9,151.8 L300.9,152.3 L302.9,152.8 L304.9,153.2 L306.9,153.7 L308.9,154.2 L310.9,154.6 L312.9,155.1 L314.9,155.6 L316.9,156.0 L318.9,156.5 L320.9,157.0 L322.9,157.5 L324.9,158.0 L326.9,158.5 L328.9,158.9 L330.9,159.4 L332.9,159.8 L334.9,160.3 L336.9,160.7 L338.9,161.1 L340.9,161.5 L342.9,161.9 L344.9,162.3 L346.9,162.6 L348.9,163.0 L350.9,163.3 L352.9,163.4 L354.9,163.1 L356.9,162.9 L358.9,162.7 L360.9,162.5 L362.9,162.2 L364.9,162.0 L366.9,161.7 L368.9,161.5 L370.9,161.2 L372.9,161.0 L374.9,160.7 L376.9,160.4 L378.9,160.1 L380.9,159.5 L382.9,158.7 L384.9,157.8 L386.9,156.9 L388.9,156.0 L390.9,155.1 L392.9,154.2 L394.9,153.3 L396.9,152.4 L398.9,151.5 L400.9,150.6 L402.9,149.7 L404.9,148.8 L406.9,148.3 L408.9,147.8 L410.9,147.3 L412.9,146.8 L414.9,146.4 L416.9,145.9 L418.9,145.4 L420.9,144.9 L422.9,144.5 L424.9,144.0 L425.2,143.9 L425.2,189.5 L424.9,189.5 L422.9,189.5 L420.9,189.5 L418.9,189.4 L416.9,189.4 L414.9,189.4 L412.9,189.4 L410.9,189.4 L408.9,189.3 L406.9,189.3 L404.9,189.3 L402.9,189.4 L400.9,189.4 L398.9,189.4 L396.9,189.5 L394.9,189.5 L392.9,189.5 L390.9,189.6 L388.9,189.6 L386.9,189.7 L384.9,189.7 L382.9,189.7 L380.9,189.8 L378.9,189.8 L376.9,189.8 L374.9,189.9 L372.9,189.9 L370.9,189.9 L368.9,189.9 L366.9,189.9 L364.9,189.9 L362.9,189.9 L360.9,189.9 L358.9,189.9 L356.9,189.8 L354.9,189.8 L352.9,189.8 L350.9,189.7 L348.9,189.7 L346.9,189.6 L344.9,189.6 L342.9,189.5 L340.9,189.4 L338.9,189.3 L336.9,189.1 L334.9,189.0 L332.9,188.8 L330.9,188.7 L328.9,188.5 L326.9,188.3 L324.9,188.2 L322.9,188.0 L320.9,187.9 L318.9,187.7 L316.9,187.6 L314.9,187.5 L312.9,187.4 L310.9,187.3 L308.9,187.2 L306.9,187.1 L304.9,187.0 L302.9,186.9 L300.9,186.8 L298.9,186.7 L296.9,186.6 Z" fill="#707078" fill-opacity="0.035"/><path d="M296.9,153.1 L298.9,153.5 L300.9,154.0 L302.9,154.4 L304.9,154.9 L306.9,155.3 L308.9,155.8 L310.9,156.2 L312.9,156.7 L314.9,157.2 L316.9,157.6 L318.9,158.1 L320.9,158.6 L322.9,159.1 L324.9,159.6 L326.9,160.1 L328.9,160.6 L330.9,161.1 L332.9,161.6 L334.9,162.1 L336.9,162.5 L338.9,163.0 L340.9,163.4 L342.9,163.7 L344.9,164.1 L346.9,164.4 L348.9,164.7 L350.9,165.0 L352.9,165.1 L354.9,164.9 L356.9,164.7 L358.9,164.5 L360.9,164.3 L362.9,164.1 L364.9,163.9 L366.9,163.7 L368.9,163.4 L370.9,163.2 L372.9,162.9 L374.9,162.7 L376.9,162.4 L378.9,162.1 L380.9,161.6 L382.9,160.7 L384.9,159.9 L386.9,159.1 L388.9,158.3 L390.9,157.5 L392.9,156.6 L394.9,155.8 L396.9,155.0 L398.9,154.1 L400.9,153.3 L402.9,152.5 L404.9,151.7 L406.9,151.3 L408.9,150.8 L410.9,150.4 L412.9,149.9 L414.9,149.5 L416.9,149.1 L418.9,148.7 L420.9,148.3 L422.9,147.8 L424.9,147.4 L425.2,147.3 L425.2,187.2 L424.9,187.2 L422.9,187.2 L420.9,187.2 L418.9,187.2 L416.9,187.2 L414.9,187.2 L412.9,187.2 L410.9,187.1 L408.9,187.1 L406.9,187.2 L404.9,187.2 L402.9,187.2 L400.9,187.3 L398.9,187.3 L396.9,187.4 L394.9,187.5 L392.9,187.6 L390.9,187.6 L388.9,187.7 L386.9,187.8 L384.9,187.9 L382.9,187.9 L380.9,188.0 L378.9,188.1 L376.9,188.1 L374.9,188.2 L372.9,188.2 L370.9,188.3 L368.9,188.3 L366.9,188.3 L364.9,188.3 L362.9,188.3 L360.9,188.3 L358.9,188.3 L356.9,188.3 L354.9,188.3 L352.9,188.2 L350.9,188.2 L348.9,188.1 L346.9,188.0 L344.9,188.0 L342.9,187.9 L340.9,187.7 L338.9,187.6 L336.9,187.4 L334.9,187.2 L332.9,187.0 L330.9,186.7 L328.9,186.5 L326.9,186.3 L324.9,186.0 L322.9,185.8 L320.9,185.6 L318.9,185.5 L316.9,185.3 L314.9,185.1 L312.9,185.0 L310.9,184.8 L308.9,184.7 L306.9,184.6 L304.9,184.4 L302.9,184.3 L300.9,184.2 L298.9,184.0 L296.9,183.9 Z" fill="#707078" fill-opacity="0.035"/><path d="M296.9,154.8 L298.9,155.2 L300.9,155.7 L302.9,156.1 L304.9,156.5 L306.9,157.0 L308.9,157.4 L310.9,157.9 L312.9,158.3 L314.9,158.8 L316.9,159.2 L318.9,159.7 L320.9,160.2 L322.9,160.7 L324.9,161.3 L326.9,161.8 L328.9,162.3 L330.9,162.8 L332.9,163.4 L334.9,163.9 L336.9,164.3 L338.9,164.8 L340.9,165.2 L342.9,165.6 L344.9,165.9 L346.9,166.2 L348.9,166.5 L350.9,166.8 L352.9,166.9 L354.9,166.7 L356.9,166.6 L358.9,166.4 L360.9,166.2 L362.9,166.0 L364.9,165.8 L366.9,165.6 L368.9,165.4 L370.9,165.1 L372.9,164.9 L374.9,164.6 L376.9,164.3 L378.9,164.1 L380.9,163.6 L382.9,162.8 L384.9,162.1 L386.9,161.3 L388.9,160.6 L390.9,159.8 L392.9,159.1 L394.9,158.3 L396.9,157.5 L398.9,156.8 L400.9,156.1 L402.9,155.3 L404.9,154.6 L406.9,154.2 L408.9,153.8 L410.9,153.4 L412.9,153.0 L414.9,152.7 L416.9,152.3 L418.9,152.0 L420.9,151.6 L422.9,151.2 L424.9,150.9 L425.2,150.8 L425.2,185.0 L424.9,185.0 L422.9,185.0 L420.9,185.0 L418.9,185.0 L416.9,185.0 L414.9,184.9 L412.9,184.9 L410.9,184.9 L408.9,184.9 L406.9,185.0 L404.9,185.0 L402.9,185.1 L400.9,185.2 L398.9,185.2 L396.9,185.4 L394.9,185.5 L392.9,185.6 L390.9,185.7 L388.9,185.8 L386.9,185.9 L384.9,186.0 L382.9,186.1 L380.9,186.2 L378.9,186.3 L376.9,186.4 L374.9,186.5 L372.9,186.6 L370.9,186.7 L368.9,186.7 L366.9,186.7 L364.9,186.8 L362.9,186.8 L360.9,186.8 L358.9,186.8 L356.9,186.7 L354.9,186.7 L352.9,186.7 L350.9,186.6 L348.9,186.5 L346.9,186.5 L344.9,186.4 L342.9,186.2 L340.9,186.1 L338.9,185.9 L336.9,185.7 L334.9,185.4 L332.9,185.1 L330.9,184.8 L328.9,184.5 L326.9,184.2 L324.9,183.9 L322.9,183.6 L320.9,183.4 L318.9,183.2 L316.9,183.0 L314.9,182.8 L312.9,182.6 L310.9,182.4 L308.9,182.2 L306.9,182.0 L304.9,181.9 L302.9,181.7 L300.9,181.5 L298.9,181.3 L296.9,181.2 Z" fill="#707078" fill-opacity="0.035"/><path d="M296.9,156.4 L298.9,156.9 L300.9,157.3 L302.9,157.8 L304.9,158.2 L306.9,158.6 L308.9,159.1 L310.9,159.5 L312.9,159.9 L314.9,160.4 L316.9,160.9 L318.9,161.3 L320.9,161.8 L322.9,162.3 L324.9,162.9 L326.9,163.5 L328.9,164.0 L330.9,164.6 L332.9,165.1 L334.9,165.6 L336.9,166.1 L338.9,166.6 L340.9,167.0 L342.9,167.4 L344.9,167.7 L346.9,168.0 L348.9,168.3 L350.9,168.5 L352.9,168.6 L354.9,168.5 L356.9,168.4 L358.9,168.2 L360.9,168.1 L362.9,167.9 L364.9,167.7 L366.9,167.5 L368.9,167.3 L370.9,167.1 L372.9,166.9 L374.9,166.6 L376.9,166.3 L378.9,166.0 L380.9,165.6 L382.9,164.9 L384.9,164.2 L386.9,163.6 L388.9,162.9 L390.9,162.2 L392.9,161.5 L394.9,160.8 L396.9,160.1 L398.9,159.5 L400.9,158.8 L402.9,158.2 L404.9,157.5 L406.9,157.1 L408.9,156.8 L410.9,156.5 L412.9,156.1 L414.9,155.8 L416.9,155.5 L418.9,155.2 L420.9,154.9 L422.9,154.6 L424.9,154.3 L425.2,154.2 L425.2,182.8 L424.9,182.8 L422.9,182.8 L420.9,182.7 L418.9,182.7 L416.9,182.7 L414.9,182.7 L412.9,182.7 L410.9,182.7 L408.9,182.7 L406.9,182.8 L404.9,182.8 L402.9,182.9 L400.9,183.0 L398.9,183.2 L396.9,183.3 L394.9,183.5 L392.9,183.6 L390.9,183.8 L388.9,183.9 L386.9,184.1 L384.9,184.2 L382.9,184.3 L380.9,184.5 L378.9,184.6 L376.9,184.7 L374.9,184.8 L372.9,185.0 L370.9,185.0 L368.9,185.1 L366.9,185.2 L364.9,185.2 L362.9,185.2 L360.9,185.2 L358.9,185.2 L356.9,185.2 L354.9,185.2 L352.9,185.1 L350.9,185.0 L348.9,185.0 L346.9,184.9 L344.9,184.8 L342.9,184.6 L340.9,184.4 L338.9,184.2 L336.9,183.9 L334.9,183.6 L332.9,183.2 L330.9,182.9 L328.9,182.5 L326.9,182.1 L324.9,181.7 L322.9,181.4 L320.9,181.1 L318.9,180.9 L316.9,180.6 L314.9,180.4 L312.9,180.1 L310.9,179.9 L308.9,179.7 L306.9,179.5 L304.9,179.3 L302.9,179.1 L300.9,178.9 L298.9,178.7 L296.9,178.4 Z" fill="#707078" fill-opacity="0.035"/><path d="M296.9,158.1 L298.9,158.6 L300.9,159.0 L302.9,159.4 L304.9,159.9 L306.9,160.3 L308.9,160.7 L310.9,161.1 L312.9,161.6 L314.9,162.0 L316.9,162.5 L318.9,162.9 L320.9,163.4 L322.9,164.0 L324.9,164.5 L326.9,165.1 L328.9,165.7 L330.9,166.3 L332.9,166.9 L334.9,167.4 L336.9,168.0 L338.9,168.4 L340.9,168.9 L342.9,169.2 L344.9,169.5 L346.9,169.8 L348.9,170.0 L350.9,170.3 L352.9,170.3 L354.9,170.3 L356.9,170.2 L358.9,170.1 L360.9,170.0 L362.9,169.8 L364.9,169.7 L366.9,169.5 L368.9,169.3 L370.9,169.1 L372.9,168.8 L374.9,168.6 L376.9,168.3 L378.9,168.0 L380.9,167.6 L382.9,167.0 L384.9,166.4 L386.9,165.8 L388.9,165.2 L390.9,164.6 L392.9,163.9 L394.9,163.3 L396.9,162.7 L398.9,162.1 L400.9,161.5 L402.9,161.0 L404.9,160.4 L406.9,160.1 L408.9,159.8 L410.9,159.5 L412.9,159.2 L414.9,159.0 L416.9,158.7 L418.9,158.5 L420.9,158.2 L422.9,158.0 L424.9,157.7 L425.2,157.7 L425.2,180.5 L424.9,180.5 L422.9,180.5 L420.9,180.5 L418.9,180.5 L416.9,180.5 L414.9,180.5 L412.9,180.5 L410.9,180.5 L408.9,180.5 L406.9,180.6 L404.9,180.7 L402.9,180.8 L400.9,180.9 L398.9,181.1 L396.9,181.3 L394.9,181.4 L392.9,181.6 L390.9,181.8 L388.9,182.0 L386.9,182.2 L384.9,182.4 L382.9,182.5 L380.9,182.7 L378.9,182.9 L376.9,183.0 L374.9,183.2 L372.9,183.3 L370.9,183.4 L368.9,183.5 L366.9,183.6 L364.9,183.6 L362.9,183.7 L360.9,183.7 L358.9,183.7 L356.9,183.6 L354.9,183.6 L352.9,183.5 L350.9,183.5 L348.9,183.4 L346.9,183.3 L344.9,183.2 L342.9,183.0 L340.9,182.8 L338.9,182.5 L336.9,182.2 L334.9,181.8 L332.9,181.4 L330.9,180.9 L328.9,180.5 L326.9,180.0 L324.9,179.6 L322.9,179.2 L320.9,178.9 L318.9,178.6 L316.9,178.3 L314.9,178.0 L312.9,177.7 L310.9,177.5 L308.9,177.2 L306.9,177.0 L304.9,176.7 L302.9,176.5 L300.9,176.2 L298.9,176.0 L296.9,175.7 Z" fill="#707078" fill-opacity="0.035"/><path d="M296.9,159.8 L298.9,160.3 L300.9,160.7 L302.9,161.1 L304.9,161.5 L306.9,161.9 L308.9,162.3 L310.9,162.8 L312.9,163.2 L314.9,163.6 L316.9,164.1 L318.9,164.6 L320.9,165.0 L322.9,165.6 L324.9,166.2 L326.9,166.8 L328.9,167.4 L330.9,168.0 L332.9,168.6 L334.9,169.2 L336.9,169.8 L338.9,170.3 L340.9,170.7 L342.9,171.1 L344.9,171.4 L346.9,171.6 L348.9,171.8 L350.9,172.0 L352.9,172.1 L354.9,172.1 L356.9,172.0 L358.9,171.9 L360.9,171.8 L362.9,171.7 L364.9,171.6 L366.9,171.4 L368.9,171.2 L370.9,171.0 L372.9,170.8 L374.9,170.6 L376.9,170.3 L378.9,170.0 L380.9,169.6 L382.9,169.1 L384.9,168.5 L386.9,168.0 L388.9,167.5 L390.9,166.9 L392.9,166.4 L394.9,165.8 L396.9,165.3 L398.9,164.8 L400.9,164.3 L402.9,163.8 L404.9,163.3 L406.9,163.0 L408.9,162.8 L410.9,162.5 L412.9,162.3 L414.9,162.1 L416.9,161.9 L418.9,161.8 L420.9,161.6 L422.9,161.4 L424.9,161.2 L425.2,161.2 L425.2,178.2 L424.9,178.3 L422.9,178.3 L420.9,178.3 L418.9,178.3 L416.9,178.3 L414.9,178.3 L412.9,178.3 L410.9,178.3 L408.9,178.3 L406.9,178.4 L404.9,178.5 L402.9,178.6 L400.9,178.8 L398.9,179.0 L396.9,179.2 L394.9,179.4 L392.9,179.7 L390.9,179.9 L388.9,180.1 L386.9,180.3 L384.9,180.5 L382.9,180.7 L380.9,180.9 L378.9,181.1 L376.9,181.3 L374.9,181.5 L372.9,181.7 L370.9,181.8 L368.9,181.9 L366.9,182.0 L364.9,182.0 L362.9,182.1 L360.9,182.1 L358.9,182.1 L356.9,182.1 L354.9,182.0 L352.9,182.0 L350.9,181.9 L348.9,181.8 L346.9,181.7 L344.9,181.6 L342.9,181.4 L340.9,181.1 L338.9,180.8 L336.9,180.4 L334.9,180.0 L332.9,179.5 L330.9,179.0 L328.9,178.5 L326.9,178.0 L324.9,177.5 L322.9,177.0 L320.9,176.6 L318.9,176.3 L316.9,175.9 L314.9,175.6 L312.9,175.3 L310.9,175.0 L308.9,174.7 L306.9,174.4 L304.9,174.2 L302.9,173.9 L300.9,173.6 L298.9,173.3 L296.9,173.0 Z" fill="#707078" fill-opacity="0.035"/><path d="M296.9,161.5 L298.9,161.9 L300.9,162.4 L302.9,162.8 L304.9,163.2 L306.9,163.6 L308.9,164.0 L310.9,164.4 L312.9,164.8 L314.9,165.2 L316.9,165.7 L318.9,166.2 L320.9,166.7 L322.9,167.2 L324.9,167.8 L326.9,168.4 L328.9,169.1 L330.9,169.7 L332.9,170.4 L334.9,171.0 L336.9,171.6 L338.9,172.1 L340.9,172.5 L342.9,172.9 L344.9,173.2 L346.9,173.4 L348.9,173.6 L350.9,173.8 L352.9,173.8 L354.9,173.8 L356.9,173.8 L358.9,173.8 L360.9,173.7 L362.9,173.6 L364.9,173.5 L366.9,173.3 L368.9,173.2 L370.9,173.0 L372.9,172.8 L374.9,172.5 L376.9,172.3 L378.9,172.0 L380.9,171.6 L382.9,171.1 L384.9,170.7 L386.9,170.3 L388.9,169.8 L390.9,169.3 L392.9,168.8 L394.9,168.4 L396.9,167.9 L398.9,167.4 L400.9,167.0 L402.9,166.6 L404.9,166.2 L406.9,166.0 L408.9,165.8 L410.9,165.6 L412.9,165.4 L414.9,165.3 L416.9,165.2 L418.9,165.0 L420.9,164.9 L422.9,164.8 L424.9,164.6 L425.2,164.6 L425.2,176.0 L424.9,176.0 L422.9,176.0 L420.9,176.0 L418.9,176.0 L416.9,176.0 L414.9,176.0 L412.9,176.1 L410.9,176.1 L408.9,176.1 L406.9,176.2 L404.9,176.3 L402.9,176.5 L400.9,176.7 L398.9,176.9 L396.9,177.2 L394.9,177.4 L392.9,177.7 L390.9,177.9 L388.9,178.2 L386.9,178.5 L384.9,178.7 L382.9,178.9 L380.9,179.2 L378.9,179.4 L376.9,179.6 L374.9,179.8 L372.9,180.0 L370.9,180.2 L368.9,180.3 L366.9,180.4 L364.9,180.5 L362.9,180.5 L360.9,180.6 L358.9,180.6 L356.9,180.5 L354.9,180.5 L352.9,180.4 L350.9,180.4 L348.9,180.3 L346.9,180.2 L344.9,180.0 L342.9,179.8 L340.9,179.5 L338.9,179.1 L336.9,178.7 L334.9,178.2 L332.9,177.6 L330.9,177.1 L328.9,176.5 L326.9,175.9 L324.9,175.3 L322.9,174.8 L320.9,174.4 L318.9,174.0 L316.9,173.6 L314.9,173.2 L312.9,172.9 L310.9,172.6 L308.9,172.2 L306.9,171.9 L304.9,171.6 L302.9,171.3 L300.9,171.0 L298.9,170.7 L296.9,170.3 Z" fill="#707078" fill-opacity="0.035"/><path d="M296.9,163.2 L298.9,163.6 L300.9,164.0 L302.9,164.4 L304.9,164.8 L306.9,165.2 L308.9,165.6 L310.9,166.0 L312.9,166.4 L314.9,166.9 L316.9,167.3 L318.9,167.8 L320.9,168.3 L322.9,168.8 L324.9,169.4 L326.9,170.1 L328.9,170.8 L330.9,171.5 L332.9,172.1 L334.9,172.8 L336.9,173.4 L338.9,173.9 L340.9,174.4 L342.9,174.7 L344.9,175.0 L346.9,175.2 L348.9,175.4 L350.9,175.5 L352.9,175.6 L354.9,175.6 L356.9,175.6 L358.9,175.6 L360.9,175.6 L362.9,175.5 L364.9,175.4 L366.9,175.3 L368.9,175.1 L370.9,175.0 L372.9,174.7 L374.9,174.5 L376.9,174.2 L378.9,173.9 L380.9,173.6 L382.9,173.2 L384.9,172.9 L386.9,172.5 L388.9,172.1 L390.9,171.7 L392.9,171.3 L394.9,170.9 L396.9,170.5 L398.9,170.1 L400.9,169.7 L402.9,169.4 L404.9,169.1 L406.9,168.9 L408.9,168.8 L410.9,168.6 L412.9,168.5 L414.9,168.4 L416.9,168.4 L418.9,168.3 L420.9,168.2 L422.9,168.2 L424.9,168.1 L425.2,168.1 L425.2,173.8 L424.9,173.8 L422.9,173.8 L420.9,173.8 L418.9,173.8 L416.9,173.8 L414.9,173.8 L412.9,173.8 L410.9,173.9 L408.9,173.9 L406.9,174.0 L404.9,174.2 L402.9,174.4 L400.9,174.6 L398.9,174.8 L396.9,175.1 L394.9,175.4 L392.9,175.7 L390.9,176.0 L388.9,176.3 L386.9,176.6 L384.9,176.9 L382.9,177.1 L380.9,177.4 L378.9,177.6 L376.9,177.9 L374.9,178.1 L372.9,178.4 L370.9,178.5 L368.9,178.7 L366.9,178.8 L364.9,178.9 L362.9,179.0 L360.9,179.0 L358.9,179.0 L356.9,179.0 L354.9,178.9 L352.9,178.9 L350.9,178.8 L348.9,178.7 L346.9,178.6 L344.9,178.4 L342.9,178.2 L340.9,177.8 L338.9,177.4 L336.9,176.9 L334.9,176.4 L332.9,175.8 L330.9,175.1 L328.9,174.5 L326.9,173.8 L324.9,173.2 L322.9,172.6 L320.9,172.1 L318.9,171.7 L316.9,171.2 L314.9,170.8 L312.9,170.5 L310.9,170.1 L308.9,169.7 L306.9,169.4 L304.9,169.0 L302.9,168.7 L300.9,168.3 L298.9,168.0 L296.9,167.6 Z" fill="#707078" fill-opacity="0.035"/><path d="M296.9,157.1 L321.6,164.2 L337.5,169.1 L356.7,172.1 L381.9,164.8 L404.9,166.0 L425.2,166.7 L425.2,171.3 L404.9,170.6 L381.9,169.3 L356.7,176.6 L337.5,173.7 L321.6,168.8 L296.9,161.7 Z" fill="#707078" fill-opacity="0.045"/><path d="M296.9,159.4 L321.6,166.5 L337.5,171.4 L356.7,174.4 L381.9,167.0 L404.9,168.3 L425.2,169.0" fill="none" stroke="#606068" stroke-opacity="0.40" stroke-width="0.5"/><path d="M296.9,170.0 L321.6,174.5 L337.5,179.5 L356.7,179.6 L381.9,178.4 L404.9,173.7 L425.2,176.6 L425.2,180.0 L404.9,177.1 L381.9,181.8 L356.7,183.1 L337.5,182.9 L321.6,177.9 L296.9,173.4 Z" fill="#707078" fill-opacity="0.045"/><path d="M296.9,171.7 L321.6,176.2 L337.5,181.2 L356.7,181.4 L381.9,180.1 L404.9,175.4 L425.2,178.3" fill="none" stroke="#606068" stroke-opacity="0.40" stroke-width="0.5"/><path d="M296.9,168.3 L321.6,173.6 L337.5,174.9 L356.7,176.2 L381.9,177.3 L404.9,177.8 L425.2,172.0 L425.2,179.6 L404.9,185.4 L381.9,184.9 L356.7,183.7 L337.5,182.4 L321.6,181.1 L296.9,175.9 Z" fill="#707078" fill-opacity="0.045"/><path d="M296.9,172.1 L321.6,177.4 L337.5,178.6 L356.7,179.9 L381.9,181.1 L404.9,181.6 L425.2,175.8" fill="none" stroke="#606068" stroke-opacity="0.40" stroke-width="0.5"/><path d="M296.9,161.1 L321.6,169.3 L337.5,169.7 L356.7,172.4 L381.9,170.5 L404.9,164.4 L425.2,171.4 L425.2,177.6 L404.9,170.6 L381.9,176.7 L356.7,178.6 L337.5,176.0 L321.6,175.6 L296.9,167.4 Z" fill="#707078" fill-opacity="0.045"/><path d="M296.9,164.3 L321.6,172.4 L337.5,172.8 L356.7,175.5 L381.9,173.6 L404.9,167.5 L425.2,174.5" fill="none" stroke="#606068" stroke-opacity="0.40" stroke-width="0.5"/><path d="M296.9,154.7 L321.6,162.9 L337.5,169.5 L356.7,168.0 L381.9,169.5 L404.9,157.8 L425.2,164.7 L425.2,170.4 L404.9,163.5 L381.9,175.2 L356.7,173.8 L337.5,175.2 L321.6,168.6 L296.9,160.5 Z" fill="#707078" fill-opacity="0.045"/><path d="M296.9,157.6 L321.6,165.8 L337.5,172.3 L356.7,170.9 L381.9,172.3 L404.9,160.6 L425.2,167.6" fill="none" stroke="#606068" stroke-opacity="0.40" stroke-width="0.5"/><path d="M296.9,166.7 L321.6,167.9 L337.5,173.1 L356.7,176.0 L381.9,169.9 L404.9,165.4 L425.2,163.7 L425.2,168.2 L404.9,169.9 L381.9,174.4 L356.7,180.4 L337.5,177.5 L321.6,172.4 L296.9,171.2 Z" fill="#707078" fill-opacity="0.045"/><path d="M296.9,168.9 L321.6,170.2 L337.5,175.3 L356.7,178.2 L381.9,172.1 L404.9,167.7 L425.2,166.0" fill="none" stroke="#606068" stroke-opacity="0.20" stroke-width="0.5"/><path d="M296.9,181.2 L321.6,185.1 L337.5,182.1 L356.7,185.9 L381.9,186.7 L404.9,185.1 L425.2,184.1 L425.2,191.5 L404.9,192.5 L381.9,194.1 L356.7,193.3 L337.5,189.5 L321.6,192.6 L296.9,188.6 Z" fill="#707078" fill-opacity="0.045"/><path d="M296.9,184.9 L321.6,188.9 L337.5,185.8 L356.7,189.6 L381.9,190.4 L404.9,188.8 L425.2,187.8" fill="none" stroke="#606068" stroke-opacity="0.20" stroke-width="0.5"/><path d="M296.9,165.4 L321.6,167.2 L337.5,176.8 L356.7,177.5 L381.9,172.2 L404.9,167.4 L425.2,173.4 L425.2,176.8 L404.9,170.8 L381.9,175.6 L356.7,180.9 L337.5,180.2 L321.6,170.6 L296.9,168.8 Z" fill="#707078" fill-opacity="0.045"/><path d="M296.9,167.1 L321.6,168.9 L337.5,178.5 L356.7,179.2 L381.9,173.9 L404.9,169.1 L425.2,175.1" fill="none" stroke="#606068" stroke-opacity="0.20" stroke-width="0.5"/><path d="M296.9,160.7 L321.6,171.1 L337.5,172.6 L356.7,175.7 L381.9,175.2 L404.9,171.6 L425.2,170.2 L425.2,176.0 L404.9,177.4 L381.9,181.1 L356.7,181.5 L337.5,178.4 L321.6,176.9 L296.9,166.5 Z" fill="#707078" fill-opacity="0.045"/><path d="M296.9,163.6 L321.6,174.0 L337.5,175.5 L356.7,178.6 L381.9,178.1 L404.9,174.5 L425.2,173.1" fill="none" stroke="#606068" stroke-opacity="0.20" stroke-width="0.5"/><path d="M296.9,173.7 L321.6,174.5 L337.5,179.6 L356.7,184.8 L381.9,180.2 L404.9,178.4 L425.2,183.9 L425.2,189.2 L404.9,183.7 L381.9,185.5 L356.7,190.1 L337.5,184.9 L321.6,179.9 L296.9,179.0 Z" fill="#707078" fill-opacity="0.045"/><path d="M296.9,176.4 L321.6,177.2 L337.5,182.2 L356.7,187.4 L381.9,182.8 L404.9,181.1 L425.2,186.5" fill="none" stroke="#606068" stroke-opacity="0.20" stroke-width="0.5"/><path d="M296.9,157.2 L321.6,162.8 L337.5,170.0 L356.7,172.0 L381.9,166.5 L404.9,168.6 L425.2,163.7 L425.2,167.1 L404.9,172.0 L381.9,169.8 L356.7,175.3 L337.5,173.4 L321.6,166.2 L296.9,160.6 Z" fill="#707078" fill-opacity="0.045"/><path d="M296.9,158.9 L321.6,164.5 L337.5,171.7 L356.7,173.7 L381.9,168.2 L404.9,170.3 L425.2,165.4" fill="none" stroke="#606068" stroke-opacity="0.20" stroke-width="0.5"/><path d="M296.9,154.1 L321.6,162.4 L337.5,167.3 L356.7,167.0 L381.9,162.2 L404.9,161.6 L425.2,157.1 L425.2,163.2 L404.9,167.7 L381.9,168.3 L356.7,173.1 L337.5,173.4 L321.6,168.5 L296.9,160.1 Z" fill="#707078" fill-opacity="0.045"/><path d="M296.9,157.1 L321.6,165.5 L337.5,170.3 L356.7,170.0 L381.9,165.2 L404.9,164.7 L425.2,160.2" fill="none" stroke="#606068" stroke-opacity="0.20" stroke-width="0.5"/><path d="M296.9,162.9 L321.6,169.3 L337.5,172.6 L356.7,176.6 L381.9,174.6 L404.9,175.0 L425.2,172.8 L425.2,178.3 L404.9,180.6 L381.9,180.2 L356.7,182.2 L337.5,178.1 L321.6,174.9 L296.9,168.4 Z" fill="#707078" fill-opacity="0.045"/><path d="M296.9,165.7 L321.6,172.1 L337.5,175.4 L356.7,179.4 L381.9,177.4 L404.9,177.8 L425.2,175.5" fill="none" stroke="#606068" stroke-opacity="0.20" stroke-width="0.5"/><path d="M296.9,167.3 L321.6,165.5 L337.5,175.4 L356.7,175.4 L381.9,169.6 L404.9,169.5 L425.2,164.0 L425.2,168.6 L404.9,174.0 L381.9,174.2 L356.7,179.9 L337.5,180.0 L321.6,170.0 L296.9,171.8 Z" fill="#707078" fill-opacity="0.045"/><path d="M296.9,169.6 L321.6,167.8 L337.5,177.7 L356.7,177.6 L381.9,171.9 L404.9,171.8 L425.2,166.3" fill="none" stroke="#606068" stroke-opacity="0.20" stroke-width="0.5"/><path d="M296.9,162.7 L321.6,168.1 L337.5,172.8 L356.7,174.3 L381.9,169.1 L404.9,163.0 L425.2,171.6 L425.2,178.6 L404.9,170.0 L381.9,176.2 L356.7,181.3 L337.5,179.8 L321.6,175.1 L296.9,169.7 Z" fill="#707078" fill-opacity="0.045"/><path d="M296.9,166.2 L321.6,171.6 L337.5,176.3 L356.7,177.8 L381.9,172.6 L404.9,166.5 L425.2,175.1" fill="none" stroke="#606068" stroke-opacity="0.20" stroke-width="0.5"/><path d="M296.9,162.6 L321.6,171.1 L337.5,173.4 L356.7,175.7 L381.9,173.5 L404.9,167.7 L425.2,169.6 L425.2,174.4 L404.9,172.4 L381.9,178.3 L356.7,180.5 L337.5,178.2 L321.6,175.9 L296.9,167.4 Z" fill="#707078" fill-opacity="0.045"/><path d="M296.9,165.0 L321.6,173.5 L337.5,175.8 L356.7,178.1 L381.9,175.9 L404.9,170.0 L425.2,172.0" fill="none" stroke="#606068" stroke-opacity="0.20" stroke-width="0.5"/><path d="M296.9,161.4 L321.6,171.6 L337.5,171.8 L356.7,179.0 L381.9,174.1 L404.9,172.0 L425.2,170.2 L425.2,176.3 L404.9,178.1 L381.9,180.2 L356.7,185.1 L337.5,177.9 L321.6,177.7 L296.9,167.5 Z" fill="#707078" fill-opacity="0.045"/><path d="M296.9,164.4 L321.6,174.6 L337.5,174.9 L356.7,182.0 L381.9,177.2 L404.9,175.0 L425.2,173.3" fill="none" stroke="#606068" stroke-opacity="0.20" stroke-width="0.5"/><path d="M296.9,151.2 L321.6,160.4 L337.5,160.2 L356.7,162.8 L381.9,162.2 L404.9,148.6 L425.2,142.6 L425.2,147.2 L404.9,153.2 L381.9,166.9 L356.7,167.4 L337.5,164.8 L321.6,165.1 L296.9,155.9 Z" fill="#707078" fill-opacity="0.045"/><path d="M296.9,153.6 L321.6,162.7 L337.5,162.5 L356.7,165.1 L381.9,164.5 L404.9,150.9 L425.2,144.9" fill="none" stroke="#606068" stroke-opacity="0.20" stroke-width="0.5"/><path d="M296.9,175.2 L321.6,175.4 L337.5,179.9 L356.7,183.6 L381.9,180.2 L404.9,177.5 L425.2,177.0 L425.2,182.1 L404.9,182.6 L381.9,185.4 L356.7,188.7 L337.5,185.1 L321.6,180.5 L296.9,180.3 Z" fill="#707078" fill-opacity="0.045"/><path d="M296.9,177.8 L321.6,178.0 L337.5,182.5 L356.7,186.1 L381.9,182.8 L404.9,180.1 L425.2,179.6" fill="none" stroke="#606068" stroke-opacity="0.20" stroke-width="0.5"/><path d="M296.9,153.3 L321.6,161.6 L337.5,165.6 L356.7,163.5 L381.9,165.8 L404.9,157.1 L425.2,156.4 L425.2,162.9 L404.9,163.6 L381.9,172.3 L356.7,170.0 L337.5,172.1 L321.6,168.0 L296.9,159.8 Z" fill="#707078" fill-opacity="0.045"/><path d="M296.9,156.6 L321.6,164.8 L337.5,168.8 L356.7,166.7 L381.9,169.1 L404.9,160.4 L425.2,159.6" fill="none" stroke="#606068" stroke-opacity="0.20" stroke-width="0.5"/><path d="M296.9,157.1 L321.6,162.0 L337.5,167.6 L356.7,169.2 L381.9,163.3 L404.9,156.4 L425.2,147.1 L425.2,152.9 L404.9,162.1 L381.9,169.1 L356.7,175.0 L337.5,173.3 L321.6,167.7 L296.9,162.8 Z" fill="#707078" fill-opacity="0.045"/><path d="M296.9,159.9 L321.6,164.9 L337.5,170.5 L356.7,172.1 L381.9,166.2 L404.9,159.3 L425.2,150.0" fill="none" stroke="#606068" stroke-opacity="0.20" stroke-width="0.5"/><path d="M296.9,166.2 L321.6,168.8 L337.5,173.1 L356.7,175.5 L381.9,169.4 L404.9,169.0 L425.2,171.0 L425.2,177.2 L404.9,175.2 L381.9,175.6 L356.7,181.7 L337.5,179.3 L321.6,175.0 L296.9,172.4 Z" fill="#707078" fill-opacity="0.045"/><path d="M296.9,169.3 L321.6,171.9 L337.5,176.2 L356.7,178.6 L381.9,172.5 L404.9,172.1 L425.2,174.1" fill="none" stroke="#606068" stroke-opacity="0.20" stroke-width="0.5"/><path d="M296.9,174.1 L321.6,173.1 L337.5,180.3 L356.7,177.3 L381.9,178.2 L404.9,179.5 L425.2,174.0 L425.2,182.7 L404.9,188.3 L381.9,187.0 L356.7,186.0 L337.5,189.1 L321.6,181.8 L296.9,182.8 Z" fill="#707078" fill-opacity="0.045"/><path d="M296.9,178.4 L321.6,177.5 L337.5,184.7 L356.7,181.7 L381.9,182.6 L404.9,183.9 L425.2,178.4" fill="none" stroke="#606068" stroke-opacity="0.20" stroke-width="0.5"/><path d="M296.9,154.3 L321.6,159.2 L337.5,168.4 L356.7,168.9 L381.9,164.1 L404.9,161.0 L425.2,151.1 L425.2,156.6 L404.9,166.6 L381.9,169.6 L356.7,174.4 L337.5,173.9 L321.6,164.8 L296.9,159.9 Z" fill="#707078" fill-opacity="0.045"/><path d="M296.9,157.1 L321.6,162.0 L337.5,171.1 L356.7,171.7 L381.9,166.8 L404.9,163.8 L425.2,153.8" fill="none" stroke="#606068" stroke-opacity="0.20" stroke-width="0.5"/><path d="M296.9,186.0 L321.6,184.1 L337.5,188.5 L356.7,185.3 L381.9,182.2 L404.9,181.1 L425.2,180.6 L425.2,185.1 L404.9,185.6 L381.9,186.7 L356.7,189.8 L337.5,193.0 L321.6,188.6 L296.9,190.5 Z" fill="#707078" fill-opacity="0.045"/><path d="M296.9,188.2 L321.6,186.3 L337.5,190.8 L356.7,187.6 L381.9,184.4 L404.9,183.4 L425.2,182.8" fill="none" stroke="#606068" stroke-opacity="0.20" stroke-width="0.5"/><path d="M296.9,176.7 L321.6,171.8 L337.5,182.6 L356.7,183.4 L381.9,178.4 L404.9,173.5 L425.2,176.8 L425.2,180.2 L404.9,176.9 L381.9,181.8 L356.7,186.8 L337.5,185.9 L321.6,175.2 L296.9,180.1 Z" fill="#707078" fill-opacity="0.045"/><path d="M296.9,178.4 L321.6,173.5 L337.5,184.3 L356.7,185.1 L381.9,180.1 L404.9,175.2 L425.2,178.5" fill="none" stroke="#606068" stroke-opacity="0.20" stroke-width="0.5"/><path d="M296.9,177.7 L321.6,181.5 L337.5,186.4 L356.7,183.0 L381.9,187.2 L404.9,187.7 L425.2,180.5 L425.2,183.9 L404.9,191.1 L381.9,190.5 L356.7,186.4 L337.5,189.8 L321.6,184.8 L296.9,181.1 Z" fill="#707078" fill-opacity="0.045"/><path d="M296.9,179.4 L321.6,183.2 L337.5,188.1 L356.7,184.7 L381.9,188.9 L404.9,189.4 L425.2,182.2" fill="none" stroke="#606068" stroke-opacity="0.20" stroke-width="0.5"/><path d="M296.9,166.0 L321.6,166.2 L337.5,172.5 L356.7,176.0 L381.9,171.7 L404.9,172.7 L425.2,162.8 L425.2,170.5 L404.9,180.4 L381.9,179.4 L356.7,183.7 L337.5,180.2 L321.6,173.9 L296.9,173.7 Z" fill="#707078" fill-opacity="0.045"/><path d="M296.9,169.8 L321.6,170.0 L337.5,176.4 L356.7,179.8 L381.9,175.5 L404.9,176.6 L425.2,166.7" fill="none" stroke="#606068" stroke-opacity="0.20" stroke-width="0.5"/><path d="M296.9,166.7 L321.6,173.7 L337.5,175.0 L356.7,178.3 L381.9,177.9 L404.9,173.5 L425.2,177.0 L425.2,185.9 L404.9,182.4 L381.9,186.8 L356.7,187.3 L337.5,184.0 L321.6,182.6 L296.9,175.7 Z" fill="#707078" fill-opacity="0.045"/><path d="M296.9,171.2 L321.6,178.1 L337.5,179.5 L356.7,182.8 L381.9,182.4 L404.9,178.0 L425.2,181.5" fill="none" stroke="#606068" stroke-opacity="0.20" stroke-width="0.5"/><path d="M296.9,155.2 L321.6,158.2 L337.5,165.6 L356.7,167.8 L381.9,163.3 L404.9,152.8 L425.2,158.4 L425.2,167.0 L404.9,161.4 L381.9,172.0 L356.7,176.4 L337.5,174.2 L321.6,166.8 L296.9,163.8 Z" fill="#707078" fill-opacity="0.045"/><path d="M296.9,159.5 L321.6,162.5 L337.5,169.9 L356.7,172.1 L381.9,167.7 L404.9,157.1 L425.2,162.7" fill="none" stroke="#606068" stroke-opacity="0.20" stroke-width="0.5"/><path d="M296.9,171.4 L321.6,172.0 L337.5,173.4 L356.7,178.5 L381.9,176.2 L404.9,169.5 L425.2,173.2 L425.2,178.2 L404.9,174.6 L381.9,181.3 L356.7,183.6 L337.5,178.5 L321.6,177.1 L296.9,176.4 Z" fill="#707078" fill-opacity="0.045"/><path d="M296.9,173.9 L321.6,174.6 L337.5,176.0 L356.7,181.0 L381.9,178.7 L404.9,172.1 L425.2,175.7" fill="none" stroke="#606068" stroke-opacity="0.20" stroke-width="0.5"/><path d="M296.9,169.0 L321.6,171.7 L337.5,176.0 L356.7,180.1 L381.9,180.4 L404.9,170.6 L425.2,172.7 L425.2,180.8 L404.9,178.7 L381.9,188.5 L356.7,188.1 L337.5,184.1 L321.6,179.8 L296.9,177.0 Z" fill="#707078" fill-opacity="0.045"/><path d="M296.9,173.0 L321.6,175.8 L337.5,180.0 L356.7,184.1 L381.9,184.4 L404.9,174.6 L425.2,176.7" fill="none" stroke="#606068" stroke-opacity="0.20" stroke-width="0.5"/><path d="M296.9,154.5 L321.6,161.6 L337.5,160.4 L356.7,163.0 L381.9,166.1 L404.9,152.9 L425.2,150.8 L425.2,153.9 L404.9,156.0 L381.9,169.2 L356.7,166.1 L337.5,163.5 L321.6,164.7 L296.9,157.6 Z" fill="#707078" fill-opacity="0.045"/><path d="M296.9,156.0 L321.6,163.1 L337.5,161.9 L356.7,164.5 L381.9,167.7 L404.9,154.4 L425.2,152.4" fill="none" stroke="#606068" stroke-opacity="0.20" stroke-width="0.5"/><path d="M296.9,158.5 L321.6,165.1 L337.5,171.7 L356.7,169.2 L381.9,168.5 L404.9,168.3 L425.2,161.2 L425.2,169.6 L404.9,176.7 L381.9,176.9 L356.7,177.7 L337.5,180.1 L321.6,173.6 L296.9,167.0 Z" fill="#707078" fill-opacity="0.045"/><path d="M296.9,162.8 L321.6,169.3 L337.5,175.9 L356.7,173.4 L381.9,172.7 L404.9,172.5 L425.2,165.4" fill="none" stroke="#606068" stroke-opacity="0.20" stroke-width="0.5"/><path d="M296.9,161.2 L298.9,161.6 L300.9,162.0 L302.9,162.4 L304.9,162.8 L306.9,163.2 L308.9,163.6 L310.9,164.0 L312.9,164.5 L314.9,164.9 L316.9,165.3 L318.9,165.8 L320.9,166.3 L322.9,166.9 L324.9,167.6 L326.9,168.2 L328.9,169.0 L330.9,169.7 L332.9,170.4 L334.9,171.1 L336.9,171.8 L338.9,172.3 L340.9,172.8 L342.9,173.2 L344.9,173.4 L346.9,173.6 L348.9,173.8 L350.9,173.9 L352.9,174.0 L354.9,174.1 L356.9,174.2 L358.9,174.2 L360.9,174.2 L362.9,174.1 L364.9,174.0 L366.9,173.9 L368.9,173.8 L370.9,173.6 L372.9,173.4 L374.9,173.2 L376.9,172.9 L378.9,172.6 L380.9,172.3 L382.9,172.0 L384.9,171.8 L386.9,171.5 L388.9,171.1 L390.9,170.8 L392.9,170.5 L394.9,170.1 L396.9,169.8 L398.9,169.5 L400.9,169.2 L402.9,169.0 L404.9,168.8 L406.9,168.6 L408.9,168.5 L410.9,168.4 L412.9,168.4 L414.9,168.4 L416.9,168.4 L418.9,168.4 L420.9,168.4 L422.9,168.3 L424.9,168.3 L425.2,168.3 L425.2,174.7 L424.9,174.7 L422.9,174.7 L420.9,174.8 L418.9,174.8 L416.9,174.8 L414.9,174.8 L412.9,174.8 L410.9,174.9 L408.9,175.0 L406.9,175.1 L404.9,175.2 L402.9,175.4 L400.9,175.7 L398.9,176.0 L396.9,176.3 L394.9,176.6 L392.9,177.0 L390.9,177.3 L388.9,177.6 L386.9,178.0 L384.9,178.3 L382.9,178.6 L380.9,178.9 L378.9,179.2 L376.9,179.5 L374.9,179.7 L372.9,180.0 L370.9,180.2 L368.9,180.4 L366.9,180.5 L364.9,180.6 L362.9,180.7 L360.9,180.7 L358.9,180.8 L356.9,180.7 L354.9,180.7 L352.9,180.6 L350.9,180.6 L348.9,180.5 L346.9,180.4 L344.9,180.2 L342.9,179.9 L340.9,179.6 L338.9,179.2 L336.9,178.6 L334.9,178.0 L332.9,177.3 L330.9,176.6 L328.9,175.9 L326.9,175.2 L324.9,174.6 L322.9,174.0 L320.9,173.4 L318.9,172.9 L316.9,172.5 L314.9,172.0 L312.9,171.6 L310.9,171.2 L308.9,170.9 L306.9,170.5 L304.9,170.1 L302.9,169.7 L300.9,169.4 L298.9,169.0 L296.9,168.6 Z" fill="#e47cb6" fill-opacity="0.8"/><path d="M296.9,164.9 L298.9,165.3 L300.9,165.7 L302.9,166.1 L304.9,166.5 L306.9,166.9 L308.9,167.2 L310.9,167.6 L312.9,168.0 L314.9,168.5 L316.9,168.9 L318.9,169.4 L320.9,169.9 L322.9,170.4 L324.9,171.1 L326.9,171.7 L328.9,172.5 L330.9,173.2 L332.9,173.9 L334.9,174.6 L336.9,175.2 L338.9,175.7 L340.9,176.2 L342.9,176.5 L344.9,176.8 L346.9,177.0 L348.9,177.1 L350.9,177.3 L352.9,177.3 L354.9,177.4 L356.9,177.4 L358.9,177.5 L360.9,177.4 L362.9,177.4 L364.9,177.3 L366.9,177.2 L368.9,177.1 L370.9,176.9 L372.9,176.7 L374.9,176.5 L376.9,176.2 L378.9,175.9 L380.9,175.6 L382.9,175.3 L384.9,175.0 L386.9,174.7 L388.9,174.4 L390.9,174.1 L392.9,173.7 L394.9,173.4 L396.9,173.0 L398.9,172.7 L400.9,172.5 L402.9,172.2 L404.9,172.0 L406.9,171.9 L408.9,171.7 L410.9,171.7 L412.9,171.6 L414.9,171.6 L416.9,171.6 L418.9,171.6 L420.9,171.6 L422.9,171.5 L424.9,171.5 L425.2,171.5" fill="none" stroke="#8c1f5c" stroke-width="1.1"/><line x1="296.9" y1="182.7" x2="425.2" y2="182.7" stroke="#333" stroke-width="0.7" stroke-dasharray="1.7,2.05"/><text transform="translate(329.55,217.80) scale(1,1.15)" font-size="4.4" text-anchor="middle" fill="#3a3a3a" stroke="#3a3a3a" stroke-width="0.08" font-family="Liberation Sans, sans-serif">USCC</text><text transform="translate(347.65,217.80) scale(1,1.15)" font-size="4.4" text-anchor="middle" fill="#3a3a3a" stroke="#3a3a3a" stroke-width="0.08" font-family="Liberation Sans, sans-serif">UCC1</text><text transform="translate(415.05,217.80) scale(1,1.15)" font-size="4.4" text-anchor="middle" fill="#3a3a3a" stroke="#3a3a3a" stroke-width="0.08" font-family="Liberation Sans, sans-serif">UCC2</text></g><rect x="296.9" y="120.3" width="128.3" height="99.6" fill="none" stroke="#c4c4c4" stroke-width="0.6"/><line x1="14.6" y1="17.69" x2="16.4" y2="17.69" stroke="#4d4d4d" stroke-width="0.6"/><text transform="translate(13.6,19.29) scale(1,1.12)" font-size="5.3" text-anchor="end" fill="#444" stroke="#444" stroke-width="0.15" font-family="Liberation Sans, sans-serif">55</text><line x1="14.6" y1="27.31" x2="16.4" y2="27.31" stroke="#4d4d4d" stroke-width="0.6"/><text transform="translate(13.6,28.91) scale(1,1.12)" font-size="5.3" text-anchor="end" fill="#444" stroke="#444" stroke-width="0.15" font-family="Liberation Sans, sans-serif">45</text><line x1="14.6" y1="36.93" x2="16.4" y2="36.93" stroke="#4d4d4d" stroke-width="0.6"/><text transform="translate(13.6,38.53) scale(1,1.12)" font-size="5.3" text-anchor="end" fill="#444" stroke="#444" stroke-width="0.15" font-family="Liberation Sans, sans-serif">35</text><line x1="14.6" y1="46.55" x2="16.4" y2="46.55" stroke="#4d4d4d" stroke-width="0.6"/><text transform="translate(13.6,48.15) scale(1,1.12)" font-size="5.3" text-anchor="end" fill="#444" stroke="#444" stroke-width="0.15" font-family="Liberation Sans, sans-serif">25</text><line x1="14.6" y1="56.17" x2="16.4" y2="56.17" stroke="#4d4d4d" stroke-width="0.6"/><text transform="translate(13.6,57.77) scale(1,1.12)" font-size="5.3" text-anchor="end" fill="#444" stroke="#444" stroke-width="0.15" font-family="Liberation Sans, sans-serif">15</text><line x1="14.6" y1="65.79" x2="16.4" y2="65.79" stroke="#4d4d4d" stroke-width="0.6"/><text transform="translate(13.6,67.39) scale(1,1.12)" font-size="5.3" text-anchor="end" fill="#444" stroke="#444" stroke-width="0.15" font-family="Liberation Sans, sans-serif">5</text><line x1="14.6" y1="75.41" x2="16.4" y2="75.41" stroke="#4d4d4d" stroke-width="0.6"/><text transform="translate(13.6,77.01) scale(1,1.12)" font-size="5.3" text-anchor="end" fill="#444" stroke="#444" stroke-width="0.15" font-family="Liberation Sans, sans-serif">-5</text><line x1="14.6" y1="85.03" x2="16.4" y2="85.03" stroke="#4d4d4d" stroke-width="0.6"/><text transform="translate(13.6,86.63) scale(1,1.12)" font-size="5.3" text-anchor="end" fill="#444" stroke="#444" stroke-width="0.15" font-family="Liberation Sans, sans-serif">-15</text><line x1="14.6" y1="94.65" x2="16.4" y2="94.65" stroke="#4d4d4d" stroke-width="0.6"/><text transform="translate(13.6,96.25) scale(1,1.12)" font-size="5.3" text-anchor="end" fill="#444" stroke="#444" stroke-width="0.15" font-family="Liberation Sans, sans-serif">-25</text><line x1="14.6" y1="104.27" x2="16.4" y2="104.27" stroke="#4d4d4d" stroke-width="0.6"/><text transform="translate(13.6,105.87) scale(1,1.12)" font-size="5.3" text-anchor="end" fill="#444" stroke="#444" stroke-width="0.15" font-family="Liberation Sans, sans-serif">-35</text><line x1="14.6" y1="129.79" x2="16.4" y2="129.79" stroke="#4d4d4d" stroke-width="0.6"/><text transform="translate(13.6,131.39) scale(1,1.12)" font-size="5.3" text-anchor="end" fill="#444" stroke="#444" stroke-width="0.15" font-family="Liberation Sans, sans-serif">55</text><line x1="14.6" y1="139.41" x2="16.4" y2="139.41" stroke="#4d4d4d" stroke-width="0.6"/><text transform="translate(13.6,141.01) scale(1,1.12)" font-size="5.3" text-anchor="end" fill="#444" stroke="#444" stroke-width="0.15" font-family="Liberation Sans, sans-serif">45</text><line x1="14.6" y1="149.03" x2="16.4" y2="149.03" stroke="#4d4d4d" stroke-width="0.6"/><text transform="translate(13.6,150.63) scale(1,1.12)" font-size="5.3" text-anchor="end" fill="#444" stroke="#444" stroke-width="0.15" font-family="Liberation Sans, sans-serif">35</text><line x1="14.6" y1="158.65" x2="16.4" y2="158.65" stroke="#4d4d4d" stroke-width="0.6"/><text transform="translate(13.6,160.25) scale(1,1.12)" font-size="5.3" text-anchor="end" fill="#444" stroke="#444" stroke-width="0.15" font-family="Liberation Sans, sans-serif">25</text><line x1="14.6" y1="168.27" x2="16.4" y2="168.27" stroke="#4d4d4d" stroke-width="0.6"/><text transform="translate(13.6,169.87) scale(1,1.12)" font-size="5.3" text-anchor="end" fill="#444" stroke="#444" stroke-width="0.15" font-family="Liberation Sans, sans-serif">15</text><line x1="14.6" y1="177.89" x2="16.4" y2="177.89" stroke="#4d4d4d" stroke-width="0.6"/><text transform="translate(13.6,179.49) scale(1,1.12)" font-size="5.3" text-anchor="end" fill="#444" stroke="#444" stroke-width="0.15" font-family="Liberation Sans, sans-serif">5</text><line x1="14.6" y1="187.51" x2="16.4" y2="187.51" stroke="#4d4d4d" stroke-width="0.6"/><text transform="translate(13.6,189.11) scale(1,1.12)" font-size="5.3" text-anchor="end" fill="#444" stroke="#444" stroke-width="0.15" font-family="Liberation Sans, sans-serif">-5</text><line x1="14.6" y1="197.13" x2="16.4" y2="197.13" stroke="#4d4d4d" stroke-width="0.6"/><text transform="translate(13.6,198.73) scale(1,1.12)" font-size="5.3" text-anchor="end" fill="#444" stroke="#444" stroke-width="0.15" font-family="Liberation Sans, sans-serif">-15</text><line x1="14.6" y1="206.75" x2="16.4" y2="206.75" stroke="#4d4d4d" stroke-width="0.6"/><text transform="translate(13.6,208.35) scale(1,1.12)" font-size="5.3" text-anchor="end" fill="#444" stroke="#444" stroke-width="0.15" font-family="Liberation Sans, sans-serif">-25</text><line x1="14.6" y1="216.37" x2="16.4" y2="216.37" stroke="#4d4d4d" stroke-width="0.6"/><text transform="translate(13.6,217.97) scale(1,1.12)" font-size="5.3" text-anchor="end" fill="#444" stroke="#444" stroke-width="0.15" font-family="Liberation Sans, sans-serif">-35</text><line x1="16.55" y1="219.89999999999998" x2="16.55" y2="221.7" stroke="#4d4d4d" stroke-width="0.6"/><text transform="translate(18.35,222.49999999999997) rotate(-90) scale(1,1.12)" font-size="5.3" text-anchor="end" fill="#444" stroke="#444" stroke-width="0.15" font-family="Liberation Sans, sans-serif">2007-08</text><line x1="23.29" y1="219.89999999999998" x2="23.29" y2="221.7" stroke="#4d4d4d" stroke-width="0.6"/><line x1="30.02" y1="219.89999999999998" x2="30.02" y2="221.7" stroke="#4d4d4d" stroke-width="0.6"/><line x1="36.76" y1="219.89999999999998" x2="36.76" y2="221.7" stroke="#4d4d4d" stroke-width="0.6"/><line x1="43.50" y1="219.89999999999998" x2="43.50" y2="221.7" stroke="#4d4d4d" stroke-width="0.6"/><line x1="50.23" y1="219.89999999999998" x2="50.23" y2="221.7" stroke="#4d4d4d" stroke-width="0.6"/><text transform="translate(52.03,222.49999999999997) rotate(-90) scale(1,1.12)" font-size="5.3" text-anchor="end" fill="#444" stroke="#444" stroke-width="0.15" font-family="Liberation Sans, sans-serif">2010</text><line x1="56.97" y1="219.89999999999998" x2="56.97" y2="221.7" stroke="#4d4d4d" stroke-width="0.6"/><line x1="63.71" y1="219.89999999999998" x2="63.71" y2="221.7" stroke="#4d4d4d" stroke-width="0.6"/><line x1="70.44" y1="219.89999999999998" x2="70.44" y2="221.7" stroke="#4d4d4d" stroke-width="0.6"/><text transform="translate(72.24,222.49999999999997) rotate(-90) scale(1,1.12)" font-size="5.3" text-anchor="end" fill="#444" stroke="#444" stroke-width="0.15" font-family="Liberation Sans, sans-serif">2011-12</text><line x1="77.18" y1="219.89999999999998" x2="77.18" y2="221.7" stroke="#4d4d4d" stroke-width="0.6"/><line x1="83.92" y1="219.89999999999998" x2="83.92" y2="221.7" stroke="#4d4d4d" stroke-width="0.6"/><line x1="90.66" y1="219.89999999999998" x2="90.66" y2="221.7" stroke="#4d4d4d" stroke-width="0.6"/><line x1="97.39" y1="219.89999999999998" x2="97.39" y2="221.7" stroke="#4d4d4d" stroke-width="0.6"/><line x1="104.13" y1="219.89999999999998" x2="104.13" y2="221.7" stroke="#4d4d4d" stroke-width="0.6"/><line x1="110.87" y1="219.89999999999998" x2="110.87" y2="221.7" stroke="#4d4d4d" stroke-width="0.6"/><line x1="117.60" y1="219.89999999999998" x2="117.60" y2="221.7" stroke="#4d4d4d" stroke-width="0.6"/><line x1="124.34" y1="219.89999999999998" x2="124.34" y2="221.7" stroke="#4d4d4d" stroke-width="0.6"/><text transform="translate(126.14,222.49999999999997) rotate(-90) scale(1,1.12)" font-size="5.3" text-anchor="end" fill="#444" stroke="#444" stroke-width="0.15" font-family="Liberation Sans, sans-serif">2015-16</text><line x1="131.08" y1="219.89999999999998" x2="131.08" y2="221.7" stroke="#4d4d4d" stroke-width="0.6"/><line x1="137.81" y1="219.89999999999998" x2="137.81" y2="221.7" stroke="#4d4d4d" stroke-width="0.6"/><line x1="144.55" y1="219.89999999999998" x2="144.55" y2="221.7" stroke="#4d4d4d" stroke-width="0.6"/><text transform="translate(146.35,222.49999999999997) rotate(-90) scale(1,1.12)" font-size="5.3" text-anchor="end" fill="#444" stroke="#444" stroke-width="0.15" font-family="Liberation Sans, sans-serif">2017</text><line x1="156.75" y1="219.89999999999998" x2="156.75" y2="221.7" stroke="#4d4d4d" stroke-width="0.6"/><text transform="translate(158.55,222.49999999999997) rotate(-90) scale(1,1.12)" font-size="5.3" text-anchor="end" fill="#444" stroke="#444" stroke-width="0.15" font-family="Liberation Sans, sans-serif">2007-08</text><line x1="163.49" y1="219.89999999999998" x2="163.49" y2="221.7" stroke="#4d4d4d" stroke-width="0.6"/><line x1="170.22" y1="219.89999999999998" x2="170.22" y2="221.7" stroke="#4d4d4d" stroke-width="0.6"/><line x1="176.96" y1="219.89999999999998" x2="176.96" y2="221.7" stroke="#4d4d4d" stroke-width="0.6"/><line x1="183.70" y1="219.89999999999998" x2="183.70" y2="221.7" stroke="#4d4d4d" stroke-width="0.6"/><line x1="190.43" y1="219.89999999999998" x2="190.43" y2="221.7" stroke="#4d4d4d" stroke-width="0.6"/><text transform="translate(192.23,222.49999999999997) rotate(-90) scale(1,1.12)" font-size="5.3" text-anchor="end" fill="#444" stroke="#444" stroke-width="0.15" font-family="Liberation Sans, sans-serif">2010</text><line x1="197.17" y1="219.89999999999998" x2="197.17" y2="221.7" stroke="#4d4d4d" stroke-width="0.6"/><line x1="203.91" y1="219.89999999999998" x2="203.91" y2="221.7" stroke="#4d4d4d" stroke-width="0.6"/><line x1="210.64" y1="219.89999999999998" x2="210.64" y2="221.7" stroke="#4d4d4d" stroke-width="0.6"/><text transform="translate(212.44,222.49999999999997) rotate(-90) scale(1,1.12)" font-size="5.3" text-anchor="end" fill="#444" stroke="#444" stroke-width="0.15" font-family="Liberation Sans, sans-serif">2011-12</text><line x1="217.38" y1="219.89999999999998" x2="217.38" y2="221.7" stroke="#4d4d4d" stroke-width="0.6"/><line x1="224.12" y1="219.89999999999998" x2="224.12" y2="221.7" stroke="#4d4d4d" stroke-width="0.6"/><line x1="230.86" y1="219.89999999999998" x2="230.86" y2="221.7" stroke="#4d4d4d" stroke-width="0.6"/><line x1="237.59" y1="219.89999999999998" x2="237.59" y2="221.7" stroke="#4d4d4d" stroke-width="0.6"/><line x1="244.33" y1="219.89999999999998" x2="244.33" y2="221.7" stroke="#4d4d4d" stroke-width="0.6"/><line x1="251.07" y1="219.89999999999998" x2="251.07" y2="221.7" stroke="#4d4d4d" stroke-width="0.6"/><line x1="257.80" y1="219.89999999999998" x2="257.80" y2="221.7" stroke="#4d4d4d" stroke-width="0.6"/><line x1="264.54" y1="219.89999999999998" x2="264.54" y2="221.7" stroke="#4d4d4d" stroke-width="0.6"/><text transform="translate(266.34,222.49999999999997) rotate(-90) scale(1,1.12)" font-size="5.3" text-anchor="end" fill="#444" stroke="#444" stroke-width="0.15" font-family="Liberation Sans, sans-serif">2015-16</text><line x1="271.28" y1="219.89999999999998" x2="271.28" y2="221.7" stroke="#4d4d4d" stroke-width="0.6"/><line x1="278.01" y1="219.89999999999998" x2="278.01" y2="221.7" stroke="#4d4d4d" stroke-width="0.6"/><line x1="284.75" y1="219.89999999999998" x2="284.75" y2="221.7" stroke="#4d4d4d" stroke-width="0.6"/><text transform="translate(286.55,222.49999999999997) rotate(-90) scale(1,1.12)" font-size="5.3" text-anchor="end" fill="#444" stroke="#444" stroke-width="0.15" font-family="Liberation Sans, sans-serif">2017</text><line x1="297.05" y1="219.89999999999998" x2="297.05" y2="221.7" stroke="#4d4d4d" stroke-width="0.6"/><text transform="translate(298.85,222.49999999999997) rotate(-90) scale(1,1.12)" font-size="5.3" text-anchor="end" fill="#444" stroke="#444" stroke-width="0.15" font-family="Liberation Sans, sans-serif">2007-08</text><line x1="303.79" y1="219.89999999999998" x2="303.79" y2="221.7" stroke="#4d4d4d" stroke-width="0.6"/><line x1="310.52" y1="219.89999999999998" x2="310.52" y2="221.7" stroke="#4d4d4d" stroke-width="0.6"/><line x1="317.26" y1="219.89999999999998" x2="317.26" y2="221.7" stroke="#4d4d4d" stroke-width="0.6"/><line x1="324.00" y1="219.89999999999998" x2="324.00" y2="221.7" stroke="#4d4d4d" stroke-width="0.6"/><line x1="330.73" y1="219.89999999999998" x2="330.73" y2="221.7" stroke="#4d4d4d" stroke-width="0.6"/><text transform="translate(332.53,222.49999999999997) rotate(-90) scale(1,1.12)" font-size="5.3" text-anchor="end" fill="#444" stroke="#444" stroke-width="0.15" font-family="Liberation Sans, sans-serif">2010</text><line x1="337.47" y1="219.89999999999998" x2="337.47" y2="221.7" stroke="#4d4d4d" stroke-width="0.6"/><line x1="344.21" y1="219.89999999999998" x2="344.21" y2="221.7" stroke="#4d4d4d" stroke-width="0.6"/><line x1="350.94" y1="219.89999999999998" x2="350.94" y2="221.7" stroke="#4d4d4d" stroke-width="0.6"/><text transform="translate(352.74,222.49999999999997) rotate(-90) scale(1,1.12)" font-size="5.3" text-anchor="end" fill="#444" stroke="#444" stroke-width="0.15" font-family="Liberation Sans, sans-serif">2011-12</text><line x1="357.68" y1="219.89999999999998" x2="357.68" y2="221.7" stroke="#4d4d4d" stroke-width="0.6"/><line x1="364.42" y1="219.89999999999998" x2="364.42" y2="221.7" stroke="#4d4d4d" stroke-width="0.6"/><line x1="371.16" y1="219.89999999999998" x2="371.16" y2="221.7" stroke="#4d4d4d" stroke-width="0.6"/><line x1="377.89" y1="219.89999999999998" x2="377.89" y2="221.7" stroke="#4d4d4d" stroke-width="0.6"/><line x1="384.63" y1="219.89999999999998" x2="384.63" y2="221.7" stroke="#4d4d4d" stroke-width="0.6"/><line x1="391.37" y1="219.89999999999998" x2="391.37" y2="221.7" stroke="#4d4d4d" stroke-width="0.6"/><line x1="398.10" y1="219.89999999999998" x2="398.10" y2="221.7" stroke="#4d4d4d" stroke-width="0.6"/><line x1="404.84" y1="219.89999999999998" x2="404.84" y2="221.7" stroke="#4d4d4d" stroke-width="0.6"/><text transform="translate(406.64,222.49999999999997) rotate(-90) scale(1,1.12)" font-size="5.3" text-anchor="end" fill="#444" stroke="#444" stroke-width="0.15" font-family="Liberation Sans, sans-serif">2015-16</text><line x1="411.58" y1="219.89999999999998" x2="411.58" y2="221.7" stroke="#4d4d4d" stroke-width="0.6"/><line x1="418.31" y1="219.89999999999998" x2="418.31" y2="221.7" stroke="#4d4d4d" stroke-width="0.6"/><line x1="425.05" y1="219.89999999999998" x2="425.05" y2="221.7" stroke="#4d4d4d" stroke-width="0.6"/><text transform="translate(426.85,222.49999999999997) rotate(-90) scale(1,1.12)" font-size="5.3" text-anchor="end" fill="#444" stroke="#444" stroke-width="0.15" font-family="Liberation Sans, sans-serif">2017</text><text transform="translate(80.75,6.3) scale(1,1.15)" font-size="5.45" text-anchor="middle" fill="#2a2a2a" font-family="Liberation Sans, sans-serif">Households with at least one ITN</text><text transform="translate(220.95,6.3) scale(1,1.15)" font-size="5.45" text-anchor="middle" fill="#2a2a2a" font-family="Liberation Sans, sans-serif">Households with at least one ITN for every two people</text><text transform="translate(361.25,6.3) scale(1,1.15)" font-size="5.45" text-anchor="middle" fill="#2a2a2a" font-family="Liberation Sans, sans-serif">Population with access to an ITN in their household</text><text transform="translate(434.1,58.40) rotate(90)" font-size="5.5" text-anchor="middle" fill="#ffffff" stroke="#ffffff" stroke-width="0.15" font-family="Liberation Sans, sans-serif">Households with mobile phones vs</text><text transform="translate(427.5,58.40) rotate(90)" font-size="5.5" text-anchor="middle" fill="#ffffff" stroke="#ffffff" stroke-width="0.15" font-family="Liberation Sans, sans-serif">all households</text><text transform="translate(434.1,170.10) rotate(90)" font-size="5.5" text-anchor="middle" fill="#ffffff" stroke="#ffffff" stroke-width="0.15" font-family="Liberation Sans, sans-serif">Households with mobile phones vs</text><text transform="translate(427.5,170.10) rotate(90)" font-size="5.5" text-anchor="middle" fill="#ffffff" stroke="#ffffff" stroke-width="0.15" font-family="Liberation Sans, sans-serif">households without mobile phones</text><text transform="translate(6.2,114.2) rotate(-90)" font-size="5.8" text-anchor="middle" fill="#111" stroke="#111" stroke-width="0.15" font-family="Liberation Sans, sans-serif">Mean percentage point difference</text></svg></body></html>
